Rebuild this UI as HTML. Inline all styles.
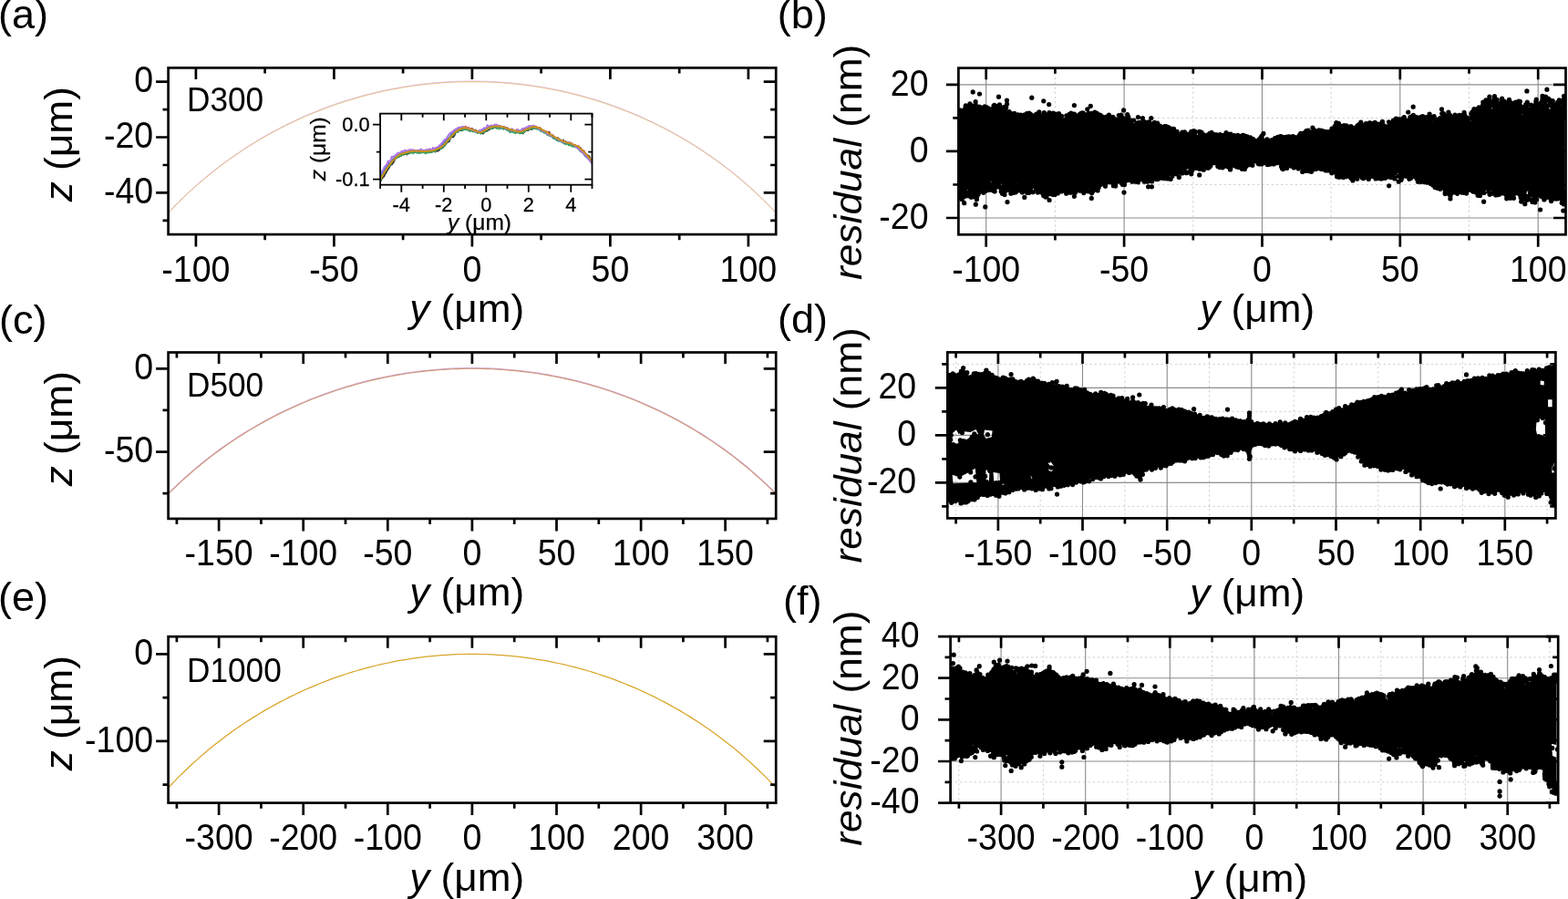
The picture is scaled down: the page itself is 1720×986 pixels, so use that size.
<!DOCTYPE html>
<html lang="en"><head><meta charset="utf-8"><title>Surface profiles and residuals</title>
<style>html,body{margin:0;padding:0;background:#fff}body{width:1720px;height:986px;overflow:hidden}svg{display:block}</style></head>
<body>
<svg width="1720" height="986" viewBox="0 0 1720 986" font-family='"Liberation Sans", sans-serif' fill="#000">
<rect width="1720" height="986" fill="#fff"/>
<text x="-2" y="31.1" font-size="45">(a)</text>
<text x="-0.9" y="365.7" font-size="45">(c)</text>
<text x="-2.1" y="669.7" font-size="45">(e)</text>
<text x="852.7" y="31.1" font-size="45">(b)</text>
<text x="853.1" y="364.5" font-size="45">(d)</text>
<text x="859" y="674.3" font-size="45">(f)</text>
<polyline points="184.6,233.7 190.2,227.8 195.7,222.2 201.3,216.8 206.8,211.5 212.4,206.4 217.9,201.5 223.5,196.8 229,192.2 234.6,187.7 240.1,183.4 245.7,179.2 251.3,175.2 256.8,171.3 262.4,167.5 267.9,163.8 273.5,160.2 279,156.8 284.6,153.4 290.1,150.2 295.7,147.1 301.3,144 306.8,141.1 312.4,138.3 317.9,135.5 323.5,132.9 329,130.3 334.6,127.8 340.1,125.5 345.7,123.2 351.2,121 356.8,118.8 362.4,116.8 367.9,114.8 373.5,112.9 379,111.1 384.6,109.4 390.1,107.8 395.7,106.2 401.2,104.7 406.8,103.3 412.4,101.9 417.9,100.6 423.5,99.4 429,98.3 434.6,97.3 440.1,96.3 445.7,95.3 451.2,94.5 456.8,93.7 462.4,93 467.9,92.4 473.5,91.8 479,91.3 484.6,90.8 490.1,90.5 495.7,90.2 501.2,89.9 506.8,89.8 512.3,89.7 517.9,89.6 523.5,89.7 529,89.8 534.6,89.9 540.1,90.2 545.7,90.5 551.2,90.8 556.8,91.3 562.3,91.8 567.9,92.4 573.5,93 579,93.7 584.6,94.5 590.1,95.3 595.7,96.3 601.2,97.3 606.8,98.3 612.3,99.4 617.9,100.6 623.4,101.9 629,103.3 634.6,104.7 640.1,106.2 645.7,107.8 651.2,109.4 656.8,111.1 662.3,112.9 667.9,114.8 673.4,116.8 679,118.8 684.6,121 690.1,123.2 695.7,125.5 701.2,127.8 706.8,130.3 712.3,132.9 717.9,135.5 723.4,138.3 729,141.1 734.5,144 740.1,147.1 745.7,150.2 751.2,153.4 756.8,156.8 762.3,160.2 767.9,163.8 773.4,167.5 779,171.3 784.5,175.2 790.1,179.2 795.6,183.4 801.2,187.7 806.8,192.2 812.3,196.8 817.9,201.5 823.4,206.4 829,211.5 834.5,216.8 840.1,222.2 845.6,227.8 851.2,233.7" stroke="#dcc0ee" stroke-width="0.85" fill="none" transform="translate(0 -0.7)"/>
<polyline points="184.6,233.7 190.2,227.8 195.7,222.2 201.3,216.8 206.8,211.5 212.4,206.4 217.9,201.5 223.5,196.8 229,192.2 234.6,187.7 240.1,183.4 245.7,179.2 251.3,175.2 256.8,171.3 262.4,167.5 267.9,163.8 273.5,160.2 279,156.8 284.6,153.4 290.1,150.2 295.7,147.1 301.3,144 306.8,141.1 312.4,138.3 317.9,135.5 323.5,132.9 329,130.3 334.6,127.8 340.1,125.5 345.7,123.2 351.2,121 356.8,118.8 362.4,116.8 367.9,114.8 373.5,112.9 379,111.1 384.6,109.4 390.1,107.8 395.7,106.2 401.2,104.7 406.8,103.3 412.4,101.9 417.9,100.6 423.5,99.4 429,98.3 434.6,97.3 440.1,96.3 445.7,95.3 451.2,94.5 456.8,93.7 462.4,93 467.9,92.4 473.5,91.8 479,91.3 484.6,90.8 490.1,90.5 495.7,90.2 501.2,89.9 506.8,89.8 512.3,89.7 517.9,89.6 523.5,89.7 529,89.8 534.6,89.9 540.1,90.2 545.7,90.5 551.2,90.8 556.8,91.3 562.3,91.8 567.9,92.4 573.5,93 579,93.7 584.6,94.5 590.1,95.3 595.7,96.3 601.2,97.3 606.8,98.3 612.3,99.4 617.9,100.6 623.4,101.9 629,103.3 634.6,104.7 640.1,106.2 645.7,107.8 651.2,109.4 656.8,111.1 662.3,112.9 667.9,114.8 673.4,116.8 679,118.8 684.6,121 690.1,123.2 695.7,125.5 701.2,127.8 706.8,130.3 712.3,132.9 717.9,135.5 723.4,138.3 729,141.1 734.5,144 740.1,147.1 745.7,150.2 751.2,153.4 756.8,156.8 762.3,160.2 767.9,163.8 773.4,167.5 779,171.3 784.5,175.2 790.1,179.2 795.6,183.4 801.2,187.7 806.8,192.2 812.3,196.8 817.9,201.5 823.4,206.4 829,211.5 834.5,216.8 840.1,222.2 845.6,227.8 851.2,233.7" stroke="#e2b070" stroke-width="0.85" fill="none"/>
<path d="M214.9 257.1v13.5M214.9 74.4v12.6M366.4 257.1v13.5M366.4 74.4v12.6M517.9 257.1v13.5M517.9 74.4v12.6M669.4 257.1v13.5M669.4 74.4v12.6M820.9 257.1v13.5M820.9 74.4v12.6M290.6 257.1v6.1M290.6 74.4v6.1M442.1 257.1v6.1M442.1 74.4v6.1M593.6 257.1v6.1M593.6 74.4v6.1M745.2 257.1v6.1M745.2 74.4v6.1M184.6 89.6h-13.5M851.2 89.6h-13.5M184.6 150.5h-13.5M851.2 150.5h-13.5M184.6 211.4h-13.5M851.2 211.4h-13.5M184.6 120.1h-6.1M851.2 120.1h-6.1M184.6 181h-6.1M851.2 181h-6.1M184.6 241.9h-6.1M851.2 241.9h-6.1" stroke="#000" stroke-width="2.7" fill="none"/>
<rect x="184.6" y="74.4" width="666.6" height="182.7" stroke="#000" stroke-width="2.7" fill="none"/>
<text transform="translate(214.9 308.9) scale(1 1.09)" font-size="37.5" text-anchor="middle">-100</text>
<text transform="translate(366.4 308.9) scale(1 1.09)" font-size="37.5" text-anchor="middle">-50</text>
<text transform="translate(517.9 308.9) scale(1 1.09)" font-size="37.5" text-anchor="middle">0</text>
<text transform="translate(669.4 308.9) scale(1 1.09)" font-size="37.5" text-anchor="middle">50</text>
<text transform="translate(820.9 308.9) scale(1 1.09)" font-size="37.5" text-anchor="middle">100</text>
<text transform="translate(168.1 101.4) scale(1 1.09)" font-size="37.5" text-anchor="end">0</text>
<text transform="translate(168.1 162.3) scale(1 1.09)" font-size="37.5" text-anchor="end">-20</text>
<text transform="translate(168.1 223.2) scale(1 1.09)" font-size="37.5" text-anchor="end">-40</text>
<text transform="translate(512.2 352.9) scale(1.025 1)" font-size="43" text-anchor="middle"><tspan font-style="italic">y</tspan> (μm)</text>
<text transform="translate(79.1 158.2) rotate(-90) scale(1.03 1)" font-size="43" text-anchor="middle"><tspan font-style="italic">z</tspan> (μm)</text>
<text transform="translate(205 121.8) scale(1 1.045)" font-size="35.2">D300</text>
<clipPath id="ci"><rect x="417.1" y="124.6" width="232.4" height="78.1"/></clipPath><g clip-path="url(#ci)">
<polyline points="414.1,204.2 415.3,202.8 416.5,200.4 417.7,198.4 418.9,196 420.1,194.6 421.3,193.6 422.4,191 423.6,189.5 424.8,187 426,185.3 427.2,183.4 428.4,180.4 429.6,180.8 430.8,179.1 432,177.7 433.2,174.7 434.4,173.4 435.6,172.9 436.7,172.2 437.9,171.9 439.1,170.9 440.3,170.7 441.5,169.3 442.7,169.6 443.9,169.2 445.1,168.1 446.3,169.5 447.5,168.3 448.7,168.5 449.9,166.8 451.1,166.5 452.2,166.7 453.4,166.7 454.6,167.1 455.8,166.8 457,166.2 458.2,165.8 459.4,166.2 460.6,167.6 461.8,166.1 463,167 464.2,167.2 465.4,165.8 466.5,166.9 467.7,167.8 468.9,165.3 470.1,166.5 471.3,166.6 472.5,165.9 473.7,166.8 474.9,166.2 476.1,165 477.3,166.4 478.5,165.9 479.7,165.6 480.9,165.4 482,164.1 483.2,163.3 484.4,161.6 485.6,162.3 486.8,160.5 488,159.5 489.2,157.7 490.4,156.5 491.6,155.4 492.8,155.3 494,151.4 495.2,150.6 496.3,150.5 497.5,150.1 498.7,148.2 499.9,145.1 501.1,143.6 502.3,144.8 503.5,143.2 504.7,142.2 505.9,143.3 507.1,142.9 508.3,141.8 509.5,141.5 510.7,141.4 511.8,142.4 513,141.9 514.2,142.1 515.4,142.4 516.6,141.2 517.8,143.7 519,143.8 520.2,143.9 521.4,142.4 522.6,143.8 523.8,145.3 525,143.8 526.1,145.4 527.3,146.5 528.5,144.8 529.7,146.8 530.9,145.4 532.1,144.3 533.3,144 534.5,143.6 535.7,142.4 536.9,142.4 538.1,140.4 539.3,140.2 540.5,140.9 541.6,139.9 542.8,139 544,140.2 545.2,140.5 546.4,139 547.6,138.3 548.8,139.3 550,139.5 551.2,139.6 552.4,141.1 553.6,139.7 554.8,141.7 555.9,140.2 557.1,141 558.3,142.5 559.5,143.3 560.7,143.4 561.9,143.4 563.1,143.6 564.3,144 565.5,144.7 566.7,144.5 567.9,145.1 569.1,145.6 570.3,145.4 571.4,146 572.6,145.7 573.8,146.5 575,144.7 576.2,143.6 577.4,143.2 578.6,142.9 579.8,143 581,141.5 582.2,141.5 583.4,142.1 584.6,138.4 585.7,139.3 586.9,140.2 588.1,140.4 589.3,140.5 590.5,140.3 591.7,141.5 592.9,141.8 594.1,141.7 595.3,144.5 596.5,143.6 597.7,143.6 598.9,144.6 600.1,145.2 601.2,146 602.4,144.7 603.6,147.1 604.8,148.9 606,148.1 607.2,149.6 608.4,151.1 609.6,151.7 610.8,152.8 612,151.1 613.2,152.8 614.4,153.4 615.5,154.7 616.7,155.6 617.9,153.4 619.1,156.7 620.3,155.2 621.5,157.2 622.7,155.9 623.9,157.5 625.1,158.6 626.3,157.9 627.5,158.5 628.7,159.3 629.9,159.3 631,159.6 632.2,161.3 633.4,161.5 634.6,161.1 635.8,164.2 637,162.1 638.2,164.7 639.4,164.9 640.6,166.4 641.8,168.1 643,169.1 644.2,170.7 645.3,170.3 646.5,171.6 647.7,174.5 648.9,174.6 650.1,175.9 651.3,176.9 652.5,180.2" stroke="#2a2a2a" stroke-width="1.7" fill="none" stroke-linejoin="round"/>
<polyline points="414.1,200.5 415.3,199.1 416.5,195.5 417.7,194.2 418.9,191.4 420.1,190.7 421.3,189.3 422.4,185.6 423.6,185.5 424.8,183.3 426,180.9 427.2,178.1 428.4,178.9 429.6,176.5 430.8,174.8 432,174.2 433.2,173.1 434.4,172.8 435.6,170.1 436.7,170.8 437.9,170.4 439.1,169.8 440.3,168.1 441.5,167.3 442.7,168.2 443.9,167.2 445.1,166.9 446.3,167.4 447.5,166 448.7,164.4 449.9,165.5 451.1,164.3 452.2,166.1 453.4,165.6 454.6,164.9 455.8,165.3 457,165.9 458.2,165.5 459.4,166.4 460.6,165.6 461.8,166.4 463,166.8 464.2,166.8 465.4,165.2 466.5,166.2 467.7,164.2 468.9,164.7 470.1,164 471.3,166 472.5,164.2 473.7,164.9 474.9,164.5 476.1,164.3 477.3,163.4 478.5,163.5 479.7,164 480.9,162.2 482,162 483.2,161.6 484.4,159.9 485.6,158.2 486.8,157.5 488,157.3 489.2,153.9 490.4,153.2 491.6,152.9 492.8,151.4 494,149.6 495.2,148.8 496.3,147.1 497.5,144.9 498.7,143.5 499.9,143.2 501.1,143.4 502.3,141.7 503.5,140.9 504.7,140.5 505.9,139.5 507.1,140.2 508.3,139.1 509.5,140.2 510.7,138.5 511.8,140.6 513,140.2 514.2,139.7 515.4,141.9 516.6,141.6 517.8,140.6 519,141.9 520.2,143.1 521.4,143 522.6,144.3 523.8,144.7 525,145 526.1,144.8 527.3,145.4 528.5,144.5 529.7,143.7 530.9,141.3 532.1,142.8 533.3,142.3 534.5,140.4 535.7,139.6 536.9,140.8 538.1,137.8 539.3,139.1 540.5,140.2 541.6,137.7 542.8,138.7 544,139.4 545.2,138 546.4,138.5 547.6,138.9 548.8,137.9 550,138.7 551.2,139.3 552.4,140 553.6,139.8 554.8,140.1 555.9,140 557.1,140.8 558.3,142.1 559.5,141.9 560.7,141.6 561.9,142 563.1,144.8 564.3,144.1 565.5,144.1 566.7,142.1 567.9,144.5 569.1,144.6 570.3,145.4 571.4,144.2 572.6,143.4 573.8,143.3 575,141 576.2,142.6 577.4,141.6 578.6,140.2 579.8,141.1 581,140.9 582.2,138.3 583.4,138.5 584.6,139 585.7,139 586.9,138.7 588.1,138.6 589.3,141.2 590.5,140.9 591.7,139.9 592.9,140.4 594.1,143.1 595.3,143.3 596.5,144.5 597.7,144.5 598.9,144 600.1,145.5 601.2,144.5 602.4,146.2 603.6,147.5 604.8,148.6 606,148.4 607.2,149.6 608.4,150.6 609.6,151.2 610.8,152.1 612,152.4 613.2,152.6 614.4,154 615.5,154 616.7,153.9 617.9,154.6 619.1,155.4 620.3,155.7 621.5,156.2 622.7,156.4 623.9,156.8 625.1,156.9 626.3,156.5 627.5,158.1 628.7,159.1 629.9,159.1 631,159.2 632.2,160.3 633.4,160 634.6,160.1 635.8,162.5 637,162.9 638.2,165.3 639.4,165.2 640.6,165.4 641.8,167.8 643,170.9 644.2,170.8 645.3,171.5 646.5,173.2 647.7,175.4 648.9,176.7 650.1,177.8 651.3,180 652.5,180.8" stroke="#e8483c" stroke-width="1.7" fill="none" stroke-linejoin="round"/>
<polyline points="414.1,198.5 415.3,197 416.5,195.6 417.7,193.2 418.9,191.3 420.1,188 421.3,186.6 422.4,185.3 423.6,182.9 424.8,182.1 426,180.3 427.2,179 428.4,176.9 429.6,177.2 430.8,175.2 432,173.1 433.2,172.3 434.4,172.8 435.6,170.3 436.7,170.3 437.9,169.8 439.1,168.8 440.3,167.7 441.5,168.1 442.7,167.8 443.9,167.9 445.1,167.4 446.3,166.7 447.5,167 448.7,166.6 449.9,166.2 451.1,166 452.2,165.8 453.4,166.2 454.6,165.2 455.8,165.5 457,165.9 458.2,165.1 459.4,165.8 460.6,165 461.8,165.8 463,166.6 464.2,166.5 465.4,166.1 466.5,165.9 467.7,165.1 468.9,167 470.1,166 471.3,166.2 472.5,164.9 473.7,165.1 474.9,163.7 476.1,164.8 477.3,164.4 478.5,162.1 479.7,162.7 480.9,162.5 482,160.3 483.2,159.5 484.4,158.9 485.6,158 486.8,156.1 488,155.6 489.2,154.3 490.4,153.1 491.6,151.8 492.8,151 494,149.5 495.2,146.7 496.3,145.9 497.5,144.5 498.7,143.5 499.9,143.2 501.1,142.6 502.3,142.3 503.5,140.6 504.7,140.4 505.9,140.7 507.1,140.3 508.3,140.2 509.5,140.6 510.7,140.4 511.8,141.6 513,141.7 514.2,141.8 515.4,141.9 516.6,142.6 517.8,141.4 519,142.8 520.2,143.9 521.4,143.4 522.6,144.8 523.8,145.1 525,144.3 526.1,144.8 527.3,144.3 528.5,144.2 529.7,143.6 530.9,142.6 532.1,141.4 533.3,141 534.5,140.4 535.7,140.4 536.9,139.7 538.1,138.8 539.3,138.2 540.5,138.6 541.6,138.3 542.8,138 544,138.5 545.2,138.4 546.4,138.9 547.6,139.3 548.8,139.1 550,141 551.2,139.8 552.4,141 553.6,140.8 554.8,141.8 555.9,140.2 557.1,141.5 558.3,142.5 559.5,143.1 560.7,144.5 561.9,143.6 563.1,144.6 564.3,144.6 565.5,145 566.7,144.9 567.9,144.6 569.1,145 570.3,143.7 571.4,144.6 572.6,142.8 573.8,143 575,143.7 576.2,141.7 577.4,141.2 578.6,141.4 579.8,140.2 581,139.2 582.2,139.6 583.4,139.7 584.6,139.8 585.7,139 586.9,140.8 588.1,141.2 589.3,140.7 590.5,141.4 591.7,141.6 592.9,143.3 594.1,142.7 595.3,144.2 596.5,144.1 597.7,144.7 598.9,146.2 600.1,147.3 601.2,147.3 602.4,147.6 603.6,149.2 604.8,149.4 606,150.3 607.2,151.7 608.4,152.1 609.6,151.8 610.8,154.1 612,153.4 613.2,154.4 614.4,154.1 615.5,155 616.7,154.4 617.9,157 619.1,157.1 620.3,155.8 621.5,156 622.7,156.2 623.9,158.2 625.1,157.6 626.3,158.3 627.5,158.6 628.7,159.2 629.9,159.2 631,160.5 632.2,160.3 633.4,161.9 634.6,163.1 635.8,164.3 637,165.1 638.2,166 639.4,167.9 640.6,168.8 641.8,171.3 643,172.1 644.2,172.9 645.3,174 646.5,175.2 647.7,176.3 648.9,178 650.1,179.7 651.3,181.1 652.5,182.4" stroke="#3f74dc" stroke-width="1.8" fill="none" stroke-linejoin="round"/>
<polyline points="414.1,203.3 415.3,199.6 416.5,198.2 417.7,198 418.9,193 420.1,191.9 421.3,190.3 422.4,188.4 423.6,186.7 424.8,184.5 426,183.2 427.2,181.4 428.4,180.4 429.6,177.2 430.8,176.5 432,175.8 433.2,174 434.4,172.9 435.6,173 436.7,171.4 437.9,171.5 439.1,171 440.3,170.2 441.5,170 442.7,169.2 443.9,168 445.1,168.5 446.3,168.5 447.5,167.6 448.7,167.6 449.9,168 451.1,166.8 452.2,167.6 453.4,168.3 454.6,166.7 455.8,167.1 457,166.9 458.2,168.1 459.4,167.4 460.6,167.9 461.8,166.9 463,167.4 464.2,167.4 465.4,166.2 466.5,168.3 467.7,167.9 468.9,166 470.1,167.6 471.3,166.9 472.5,167.1 473.7,166.9 474.9,165.5 476.1,166 477.3,166.6 478.5,164.7 479.7,163.9 480.9,163.1 482,162.6 483.2,162.9 484.4,163 485.6,161.2 486.8,159.9 488,159.9 489.2,156.7 490.4,155.1 491.6,154.5 492.8,153.1 494,150.8 495.2,149.4 496.3,149.1 497.5,147.8 498.7,145.6 499.9,145.3 501.1,144.2 502.3,144.2 503.5,143.2 504.7,142.7 505.9,142.1 507.1,142.7 508.3,142.6 509.5,141.4 510.7,142.3 511.8,141.6 513,142.4 514.2,143.2 515.4,144 516.6,143.2 517.8,143.8 519,144.3 520.2,143.6 521.4,145 522.6,145 523.8,146.1 525,145.4 526.1,145 527.3,146.2 528.5,146 529.7,144.9 530.9,145.2 532.1,143.8 533.3,142.8 534.5,142.8 535.7,140.7 536.9,140.8 538.1,140.8 539.3,141 540.5,140.1 541.6,140.3 542.8,139.5 544,140 545.2,140.9 546.4,139.4 547.6,141.5 548.8,139.8 550,140.5 551.2,140.9 552.4,141.8 553.6,140.7 554.8,140.5 555.9,142.7 557.1,143.2 558.3,143.5 559.5,145.2 560.7,144 561.9,144.4 563.1,145.2 564.3,145.2 565.5,146.3 566.7,144.7 567.9,145.5 569.1,143.7 570.3,146.4 571.4,145.4 572.6,145.8 573.8,146.1 575,144.2 576.2,143.5 577.4,142.8 578.6,142 579.8,141.5 581,141.8 582.2,141 583.4,140.7 584.6,140.4 585.7,141.1 586.9,141 588.1,140.8 589.3,141.7 590.5,141.7 591.7,141.6 592.9,143.9 594.1,143.8 595.3,143.6 596.5,145.6 597.7,145.7 598.9,145.2 600.1,147.9 601.2,147.8 602.4,148.9 603.6,149.2 604.8,149.7 606,149.5 607.2,151.9 608.4,151.9 609.6,152.4 610.8,153.4 612,153.9 613.2,154.9 614.4,154.8 615.5,155.6 616.7,154.7 617.9,156.3 619.1,157.5 620.3,158.3 621.5,157.5 622.7,157.9 623.9,159.4 625.1,158.4 626.3,159.5 627.5,160.6 628.7,160 629.9,161.2 631,160.5 632.2,161.7 633.4,162.2 634.6,163.1 635.8,164.7 637,166.6 638.2,165.8 639.4,167.1 640.6,169.1 641.8,169.4 643,171.6 644.2,173 645.3,173.7 646.5,175.6 647.7,175.5 648.9,178.3 650.1,178.2 651.3,180 652.5,181.4" stroke="#35a060" stroke-width="1.9" fill="none" stroke-linejoin="round"/>
<polyline points="414.1,195.2 415.3,194.1 416.5,191.6 417.7,189.3 418.9,187.9 420.1,186.6 421.3,183.8 422.4,182.2 423.6,181.2 424.8,179 426,176.5 427.2,177.5 428.4,176 429.6,172 430.8,172.1 432,171.4 433.2,170.8 434.4,169.8 435.6,168.5 436.7,167.5 437.9,167.7 439.1,167.9 440.3,166.2 441.5,165.8 442.7,166.1 443.9,164.6 445.1,165.4 446.3,165.1 447.5,165.5 448.7,164.6 449.9,164.3 451.1,164.5 452.2,164.7 453.4,164.3 454.6,164.8 455.8,165.3 457,165.7 458.2,166.1 459.4,164.6 460.6,164.9 461.8,163.5 463,166.3 464.2,164.6 465.4,164.9 466.5,165.2 467.7,163.9 468.9,164.9 470.1,164.5 471.3,163.1 472.5,164.3 473.7,164.5 474.9,162 476.1,163.2 477.3,162.3 478.5,161.9 479.7,161.3 480.9,161.1 482,159.3 483.2,159 484.4,157 485.6,156.4 486.8,153.9 488,152.9 489.2,152.7 490.4,150.5 491.6,148.9 492.8,146.9 494,145.8 495.2,145.2 496.3,144.6 497.5,143.3 498.7,142.5 499.9,141.4 501.1,141.8 502.3,140.2 503.5,139.6 504.7,140.2 505.9,139.4 507.1,139.1 508.3,139.1 509.5,139.6 510.7,140.5 511.8,140.7 513,140 514.2,141.5 515.4,141.7 516.6,141.3 517.8,142.8 519,142.6 520.2,143 521.4,144.1 522.6,144.8 523.8,143.6 525,144.1 526.1,142.8 527.3,144.3 528.5,141.8 529.7,142.3 530.9,140.3 532.1,140.5 533.3,140.8 534.5,137.2 535.7,138.2 536.9,138.5 538.1,137.9 539.3,137.3 540.5,139 541.6,137.6 542.8,136.4 544,138.1 545.2,136.6 546.4,138.7 547.6,137.8 548.8,138.6 550,139.7 551.2,139.3 552.4,138.8 553.6,139 554.8,141.3 555.9,141.4 557.1,140.7 558.3,142.2 559.5,142.3 560.7,142.8 561.9,141.2 563.1,142.8 564.3,143.9 565.5,144 566.7,144.2 567.9,142 569.1,143.4 570.3,143.2 571.4,144 572.6,141.2 573.8,141.1 575,140.7 576.2,140.7 577.4,139.3 578.6,139.8 579.8,138.1 581,138.5 582.2,137.9 583.4,138.4 584.6,138 585.7,137.7 586.9,139.8 588.1,139.8 589.3,139.8 590.5,140.8 591.7,142 592.9,141.4 594.1,142.6 595.3,143.7 596.5,144.3 597.7,144.5 598.9,144.1 600.1,147 601.2,147.1 602.4,147.7 603.6,148.2 604.8,149.2 606,149.4 607.2,149.7 608.4,150.5 609.6,151.3 610.8,151.9 612,152.1 613.2,153.8 614.4,153.1 615.5,154.8 616.7,154.1 617.9,155.4 619.1,156.4 620.3,155.9 621.5,155.6 622.7,156.4 623.9,156.9 625.1,156.1 626.3,157.3 627.5,158.3 628.7,158.4 629.9,159.4 631,160.5 632.2,161.4 633.4,162.4 634.6,163.3 635.8,164 637,165.4 638.2,166.5 639.4,167.8 640.6,169.1 641.8,169.4 643,171.6 644.2,173.1 645.3,173.8 646.5,175.8 647.7,177.4 648.9,178.3 650.1,181.1 651.3,179.3 652.5,182.2" stroke="#ac78e6" stroke-width="2.0" fill="none" stroke-linejoin="round"/>
<polyline points="414.1,201.5 415.3,199.6 416.5,197.7 417.7,195.8 418.9,193.8 420.1,191.8 421.3,189.8 422.4,187.8 423.6,185.9 424.8,184.1 426,182.4 427.2,180.8 428.4,179.2 429.6,177.8 430.8,176.4 432,175.1 433.2,173.8 434.4,172.7 435.6,171.7 436.7,170.8 437.9,170.1 439.1,169.4 440.3,168.9 441.5,168.4 442.7,168 443.9,167.7 445.1,167.3 446.3,167 447.5,166.7 448.7,166.4 449.9,166.2 451.1,166 452.2,165.9 453.4,165.8 454.6,165.7 455.8,165.6 457,165.6 458.2,165.7 459.4,165.7 460.6,165.8 461.8,165.9 463,166 464.2,166 465.4,166 466.5,166 467.7,165.9 468.9,165.8 470.1,165.7 471.3,165.6 472.5,165.5 473.7,165.3 474.9,165.2 476.1,164.9 477.3,164.5 478.5,164 479.7,163.4 480.9,162.9 482,162.3 483.2,161.7 484.4,160.9 485.6,160 486.8,159 488,157.7 489.2,156.3 490.4,154.9 491.6,153.4 492.8,152 494,150.7 495.2,149.4 496.3,148.1 497.5,146.9 498.7,145.7 499.9,144.6 501.1,143.6 502.3,142.8 503.5,142.2 504.7,141.6 505.9,141.2 507.1,140.8 508.3,140.5 509.5,140.2 510.7,140.3 511.8,140.5 513,140.8 514.2,141.1 515.4,141.4 516.6,141.8 517.8,142.2 519,142.6 520.2,143 521.4,143.3 522.6,143.8 523.8,144.2 525,144.6 526.1,144.9 527.3,144.9 528.5,144.6 529.7,144.1 530.9,143.5 532.1,142.9 533.3,142.2 534.5,141.4 535.7,140.7 536.9,140 538.1,139.6 539.3,139.2 540.5,139 541.6,138.7 542.8,138.6 544,138.5 545.2,138.4 546.4,138.4 547.6,138.5 548.8,138.7 550,138.9 551.2,139.2 552.4,139.5 553.6,139.9 554.8,140.3 555.9,140.7 557.1,141.1 558.3,141.5 559.5,141.9 560.7,142.3 561.9,142.6 563.1,143 564.3,143.3 565.5,143.7 566.7,144 567.9,144.3 569.1,144.5 570.3,144.5 571.4,144.4 572.6,144.1 573.8,143.6 575,143 576.2,142.5 577.4,142 578.6,141.4 579.8,140.8 581,140.3 582.2,139.8 583.4,139.4 584.6,139.2 585.7,139.1 586.9,139.2 588.1,139.4 589.3,139.7 590.5,140.1 591.7,140.6 592.9,141.2 594.1,141.8 595.3,142.5 596.5,143.1 597.7,143.8 598.9,144.4 600.1,145.1 601.2,145.8 602.4,146.6 603.6,147.3 604.8,148 606,148.8 607.2,149.5 608.4,150.2 609.6,150.8 610.8,151.5 612,152.1 613.2,152.7 614.4,153.3 615.5,153.9 616.7,154.5 617.9,155 619.1,155.4 620.3,155.8 621.5,156.2 622.7,156.5 623.9,156.8 625.1,157.1 626.3,157.4 627.5,157.8 628.7,158.3 629.9,158.8 631,159.3 632.2,159.8 633.4,160.5 634.6,161.2 635.8,162.1 637,163.1 638.2,164.2 639.4,165.4 640.6,166.7 641.8,168 643,169.3 644.2,170.5 645.3,171.8 646.5,173.2 647.7,174.5 648.9,175.8 650.1,177.1 651.3,178.4 652.5,179.7" stroke="#c89018" stroke-width="2.0" fill="none" stroke-linejoin="round"/>
</g>
<path d="M440.3 202.7v8.1M440.3 124.6v7.6M486.8 202.7v8.1M486.8 124.6v7.6M533.3 202.7v8.1M533.3 124.6v7.6M579.8 202.7v8.1M579.8 124.6v7.6M626.3 202.7v8.1M626.3 124.6v7.6M417.1 202.7v4.2M417.1 124.6v4.2M463.6 202.7v4.2M463.6 124.6v4.2M510.1 202.7v4.2M510.1 124.6v4.2M556.5 202.7v4.2M556.5 124.6v4.2M603 202.7v4.2M603 124.6v4.2M649.5 202.7v4.2M649.5 124.6v4.2M417.1 136.6h-8.1M649.5 136.6h-8.1M417.1 196.7h-8.1M649.5 196.7h-8.1M417.1 166.7h-4.2M649.5 166.7h-4.2" stroke="#000" stroke-width="1.8" fill="none"/>
<rect x="417.1" y="124.6" width="232.4" height="78.1" stroke="#000" stroke-width="1.8" fill="none"/>
<text transform="translate(440.3 231.5) scale(1 1.05)" font-size="21.8" text-anchor="middle" stroke="#000" stroke-width="0.25">-4</text>
<text transform="translate(486.8 231.5) scale(1 1.05)" font-size="21.8" text-anchor="middle" stroke="#000" stroke-width="0.25">-2</text>
<text transform="translate(533.3 231.5) scale(1 1.05)" font-size="21.8" text-anchor="middle" stroke="#000" stroke-width="0.25">0</text>
<text transform="translate(579.8 231.5) scale(1 1.05)" font-size="21.8" text-anchor="middle" stroke="#000" stroke-width="0.25">2</text>
<text transform="translate(626.3 231.5) scale(1 1.05)" font-size="21.8" text-anchor="middle" stroke="#000" stroke-width="0.25">4</text>
<text transform="translate(405.6 144.3) scale(1 1.05)" font-size="21.8" text-anchor="end" stroke="#000" stroke-width="0.25">0.0</text>
<text transform="translate(405.6 204.4) scale(1 1.05)" font-size="21.8" text-anchor="end" stroke="#000" stroke-width="0.25">-0.1</text>
<text x="526" y="251.5" font-size="24.5" text-anchor="middle" stroke="#000" stroke-width="0.25"><tspan font-style="italic">y</tspan> (μm)</text>
<text transform="translate(357 163.2) rotate(-90)" font-size="24.5" text-anchor="middle" stroke="#000" stroke-width="0.25"><tspan font-style="italic">z</tspan> (μm)</text>
<path d="M1157.4 74.6V257.3M1308.8 74.6V257.3M1460.1 74.6V257.3M1611.5 74.6V257.3M1051.4 129.4H1717.5M1051.4 202.5H1717.5" stroke="#d2d2d2" stroke-width="1" stroke-dasharray="2.4 2.8" fill="none"/>
<path d="M1081.7 74.6V257.3M1233.1 74.6V257.3M1384.5 74.6V257.3M1535.8 74.6V257.3M1687.2 74.6V257.3M1051.4 92.9H1717.5M1051.4 165.9H1717.5M1051.4 239H1717.5" stroke="#8c8c8c" stroke-width="1.1" fill="none"/>
<clipPath id="cb"><rect x="1051.4" y="74.6" width="666.1" height="182.7"/></clipPath>
<g clip-path="url(#cb)">
<path d="M1050.4 130L1053.4 129.4L1056.4 127.9L1059.4 126.3L1062.4 124.7L1065.4 124.6L1068.4 124.8L1071.4 125L1074.4 125.4L1077.4 126.2L1080.4 127L1083.4 127.8L1086.4 127.4L1089.4 126.8L1092.4 126.1L1095.4 125.9L1098.4 127.1L1101.4 128.2L1104.4 129.3L1107.4 130.9L1110.4 132.6L1113.4 134.3L1116.4 135.4L1119.4 135L1122.4 134.6L1125.4 134.2L1128.4 133.8L1131.4 133.5L1134.4 133.1L1137.4 132.8L1140.4 132.7L1143.4 132.6L1146.4 132.5L1149.4 132.5L1152.4 132.4L1155.4 132.3L1158.4 132.4L1161.4 132.9L1164.4 133.4L1167.4 133.9L1170.4 133.5L1173.4 132.8L1176.4 132.1L1179.4 131.6L1182.4 131.5L1185.4 131.4L1188.4 131.4L1191.4 131.5L1194.4 131.7L1197.4 132L1200.4 132.2L1203.4 132.4L1206.4 132.6L1209.4 132.8L1212.4 132.8L1215.4 132.7L1218.4 132.6L1221.4 132.6L1224.4 132.9L1227.4 133.1L1230.4 133.3L1233.4 134.5L1236.4 135.9L1239.4 137.3L1242.4 138.3L1245.4 138.6L1248.4 138.8L1251.4 139L1254.4 139L1257.4 138.9L1260.4 138.8L1263.4 139L1266.4 139.8L1269.4 140.6L1272.4 141.5L1275.4 142.3L1278.4 143.1L1281.4 143.9L1284.4 144.9L1287.4 146.3L1290.4 147.8L1293.4 149.2L1296.4 149.3L1299.4 149.2L1302.4 149.2L1305.4 149.1L1308.4 149L1311.4 148.9L1314.4 148.8L1317.4 149.3L1320.4 149.8L1323.4 150.3L1326.4 150.8L1329.4 151.3L1332.4 151.8L1335.4 152.3L1338.4 152.4L1341.4 152.3L1344.4 152.2L1347.4 152L1350.4 151.6L1353.4 151.2L1356.4 150.8L1359.4 150.7L1362.4 150.9L1365.4 151.1L1368.4 151.3L1371.4 151.6L1374.4 152.1L1377.4 152.6L1380.4 153.2L1383.4 153.2L1386.4 153.2L1389.4 153.3L1392.4 153.3L1395.4 153.1L1398.4 152.9L1401.4 152.6L1404.4 152.4L1407.4 152.2L1410.4 152L1413.4 151.9L1416.4 152L1419.4 152L1422.4 152.1L1425.4 151L1428.4 149.6L1431.4 148.2L1434.4 147.3L1437.4 147.7L1440.4 148.1L1443.4 148.5L1446.4 148.4L1449.4 148.1L1452.4 147.9L1455.4 147.3L1458.4 145.9L1461.4 144.5L1464.4 143.1L1467.4 142.6L1470.4 142.4L1473.4 142.2L1476.4 142.3L1479.4 143L1482.4 143.6L1485.4 144.3L1488.4 143.5L1491.4 142.4L1494.4 141.3L1497.4 140.7L1500.4 141.1L1503.4 141.4L1506.4 141.8L1509.4 141.7L1512.4 141.5L1515.4 141.3L1518.4 141.1L1521.4 140.9L1524.4 140.6L1527.4 140.4L1530.4 139.5L1533.4 138.4L1536.4 137.2L1539.4 136.2L1542.4 135.4L1545.4 134.6L1548.4 133.8L1551.4 133.9L1554.4 134.3L1557.4 134.7L1560.4 135.1L1563.4 135.5L1566.4 135.9L1569.4 136.2L1572.4 135.4L1575.4 134.3L1578.4 133.2L1581.4 132.6L1584.4 133.3L1587.4 134L1590.4 134.7L1593.4 134.9L1596.4 135L1599.4 135L1602.4 134.8L1605.4 134L1608.4 133.2L1611.4 137.4L1614.4 135.3L1617.4 133L1620.4 130.7L1623.4 128.8L1626.4 127.6L1629.4 126.5L1632.4 125.4L1635.4 124.6L1638.4 123.7L1641.4 122.9L1644.4 122.4L1647.4 122.5L1650.4 122.6L1653.4 122.7L1656.4 123L1659.4 123.4L1662.4 123.8L1665.4 124.5L1668.4 125.7L1671.4 127L1674.4 128.3L1677.4 128.3L1680.4 128.1L1683.4 127.9L1686.4 127.1L1689.4 125L1692.4 123L1695.4 121L1698.4 123.3L1701.4 126.4L1704.4 129.5L1707.4 130.7L1710.4 128.4L1713.4 126.1L1716.4 123.7L1716.4 213.4L1713.4 211.7L1710.4 209.9L1707.4 208.2L1704.4 207.3L1701.4 206.8L1698.4 206.3L1695.4 206.1L1692.4 208L1689.4 209.9L1686.4 211.8L1683.4 211.7L1680.4 210.6L1677.4 209.4L1674.4 208.4L1671.4 207.9L1668.4 207.4L1665.4 206.9L1662.4 206.8L1659.4 206.8L1656.4 206.9L1653.4 206.9L1650.4 206L1647.4 205.2L1644.4 204.4L1641.4 204L1638.4 203.8L1635.4 203.6L1632.4 203.5L1629.4 204.2L1626.4 204.9L1623.4 205.5L1620.4 205L1617.4 203.9L1614.4 202.8L1611.4 202L1608.4 202.7L1605.4 203.3L1602.4 204L1599.4 204.5L1596.4 204.9L1593.4 205.3L1590.4 205.4L1587.4 204L1584.4 202.5L1581.4 201.1L1578.4 199.9L1575.4 198.8L1572.4 197.7L1569.4 196.6L1566.4 195.4L1563.4 194.3L1560.4 193.2L1557.4 192.3L1554.4 191.5L1551.4 190.7L1548.4 190L1545.4 189.7L1542.4 189.5L1539.4 189.3L1536.4 189.3L1533.4 189.4L1530.4 189.5L1527.4 189.6L1524.4 190.3L1521.4 191L1518.4 191.7L1515.4 191.2L1512.4 190L1509.4 188.9L1506.4 188.1L1503.4 188.5L1500.4 188.9L1497.4 189.2L1494.4 189.6L1491.4 190L1488.4 190.4L1485.4 190.6L1482.4 190.1L1479.4 189.6L1476.4 189.1L1473.4 189L1470.4 189L1467.4 189.1L1464.4 188.8L1461.4 186.8L1458.4 184.8L1455.4 182.8L1452.4 182.4L1449.4 182.8L1446.4 183.2L1443.4 183.5L1440.4 183.6L1437.4 183.7L1434.4 183.7L1431.4 183L1428.4 181.9L1425.4 180.8L1422.4 179.8L1419.4 179.6L1416.4 179.4L1413.4 179.2L1410.4 179.4L1407.4 179.8L1404.4 180.1L1401.4 180.4L1398.4 179.8L1395.4 179.3L1392.4 178.8L1389.4 178.5L1386.4 178.3L1383.4 178L1380.4 177.9L1377.4 178.7L1374.4 179.5L1371.4 180.3L1368.4 180.5L1365.4 180.4L1362.4 180.3L1359.4 179.8L1356.4 178.2L1353.4 178.7L1350.4 179.2L1347.4 179.7L1344.4 179.8L1341.4 179.7L1338.4 179.7L1335.4 179.6L1332.4 179.8L1329.4 180.1L1326.4 180.3L1323.4 180.7L1320.4 181.2L1317.4 181.7L1314.4 182.2L1311.4 182.7L1308.4 183.3L1305.4 183.8L1302.4 184.1L1299.4 184.3L1296.4 184.5L1293.4 184.9L1290.4 186L1287.4 187.1L1284.4 188.2L1281.4 189L1278.4 189.5L1275.4 190L1272.4 190.6L1269.4 191.7L1266.4 192.8L1263.4 193.9L1260.4 193.9L1257.4 193.2L1254.4 192.5L1251.4 192L1248.4 192.5L1245.4 193L1242.4 193.6L1239.4 194.5L1236.4 195.6L1233.4 196.7L1230.4 197.5L1227.4 196.8L1224.4 196.2L1221.4 195.5L1218.4 195.6L1215.4 196.1L1212.4 196.6L1209.4 197.4L1206.4 199.8L1203.4 202.1L1200.4 204.4L1197.4 204.3L1194.4 203L1191.4 201.7L1188.4 200.8L1185.4 201.3L1182.4 201.8L1179.4 202.3L1176.4 202L1173.4 201.3L1170.4 200.6L1167.4 200.3L1164.4 201.7L1161.4 203.2L1158.4 204.6L1155.4 205.4L1152.4 205.9L1149.4 206.4L1146.4 206.6L1143.4 205.3L1140.4 204L1137.4 202.7L1134.4 202.1L1131.4 201.7L1128.4 201.3L1125.4 201L1122.4 200.9L1119.4 200.8L1116.4 200.7L1113.4 201.1L1110.4 201.6L1107.4 202.1L1104.4 202.4L1101.4 201.7L1098.4 201L1095.4 200.3L1092.4 199.6L1089.4 199L1086.4 198.3L1083.4 198L1080.4 199.8L1077.4 201.5L1074.4 203.2L1071.4 204.1L1068.4 204.6L1065.4 205.1L1062.4 205.7L1059.4 206.9L1056.4 208L1053.4 209.1L1050.4 209.4Z" fill="#000" fill-rule="evenodd"/>
<path d="M1052.3 131.8h0M1055.2 128.1h0M1057.4 129.2h0M1060.8 124.6h0M1062.8 124.6h0M1064.9 122.6h0M1068.2 126h0M1072.5 124.2h0M1075.8 124.4h0M1077.7 125.9h0M1081.8 125.5h0M1085.5 128.2h0M1088.4 126.6h0M1091.5 126.4h0M1094.6 124.2h0M1097.5 126.8h0M1100.3 126.4h0M1103.9 129.7h0M1107.6 131.1h0M1109.4 130.7h0M1112.2 133.8h0M1115 133.3h0M1118.9 133.2h0M1121.2 132.9h0M1124.2 135.6h0M1127 133.6h0M1130.8 133.6h0M1133.4 133.3h0M1136 134.1h0M1139.7 131.3h0M1141.8 131.3h0M1143.6 134.5h0M1147.4 131.6h0M1150.9 132h0M1153.8 131.9h0M1158.2 131.5h0M1161 134h0M1163 134.4h0M1167.4 132h0M1169.8 133.7h0M1174.1 130.7h0M1176.4 133.3h0M1180.8 130.2h0M1182.6 130.6h0M1184.9 131.6h0M1186.7 132h0M1190.6 132.7h0M1192.5 130.2h0M1194.8 131.4h0M1196.6 132.5h0M1199.3 134h0M1201.4 134.1h0M1205.3 131.6h0M1209.3 131.9h0M1212.7 132.9h0M1216.8 132.3h0M1220.4 131.7h0M1224.1 132.4h0M1227.6 134.3h0M1231.7 132.3h0M1234.5 133.6h0M1236.5 136.1h0M1238.9 138.3h0M1241.3 140.1h0M1243.8 137.6h0M1248 137.4h0M1250 140.8h0M1253.2 137.6h0M1255.7 138.5h0M1259.4 137.4h0M1261.8 140.7h0M1264.2 137.3h0M1266.4 140.4h0M1269.6 139.8h0M1271.5 140.3h0M1275.6 142.9h0M1279.1 142.4h0M1282.3 142.3h0M1285.3 146h0M1288.9 145.1h0M1290.7 146.5h0M1293.7 149.4h0M1296.3 147.9h0M1298.2 149.9h0M1301.9 148.3h0M1305.7 149.7h0M1308.3 150.9h0M1312.4 150.1h0M1316.6 147.2h0M1320.6 147.9h0M1324 151.6h0M1326.7 149h0M1330 150h0M1332 150.4h0M1336.4 153.6h0M1340 153.5h0M1344.2 154.1h0M1347.1 150.6h0M1350.2 149.7h0M1352.7 149.9h0M1355.7 150.5h0M1359.9 149.3h0M1363 152.8h0M1365.4 149.2h0M1368.1 149.9h0M1371.6 150.9h0M1374.7 152.5h0M1378.1 154.5h0M1381.2 152.8h0M1383.8 153.3h0M1386 154.4h0M1389.9 152.8h0M1393.9 154.1h0M1396.2 153.3h0M1398.5 151.6h0M1401.6 150.3h0M1405.1 152.5h0M1409 150.7h0M1412 152h0M1416.1 153.1h0M1418.8 153.9h0M1422.3 154h0M1424.9 149.3h0M1427.4 148.2h0M1430.9 148.5h0M1434.1 147.4h0M1437.6 145.8h0M1441 149.3h0M1443.9 146.6h0M1447.6 148.4h0M1450 147.2h0M1453.8 146.4h0M1456.7 147.3h0M1461 144.3h0M1463.2 145.5h0M1465.6 140.9h0M1469.3 140.6h0M1471.6 142.4h0M1475.3 141.2h0M1478.1 142.3h0M1480.1 144.3h0M1482.1 145.5h0M1484.4 142.2h0M1487.1 144.6h0M1490.1 142.5h0M1492.1 140.8h0M1494.4 142.5h0M1498.7 140.9h0M1501.8 141.8h0M1504.2 139.7h0M1506.9 140.5h0M1508.7 142.4h0M1511.9 141.6h0M1514.9 139.4h0M1517.2 139.8h0M1520.1 139.1h0M1522.3 141.4h0M1525.8 139.6h0M1528.8 142h0M1533 140.4h0M1536.2 135.9h0M1539.9 138h0M1543.1 135.3h0M1547 133.3h0M1550.1 133.9h0M1552.6 135.3h0M1556.9 134.2h0M1559.4 134.1h0M1563.7 135.6h0M1566.9 135.5h0M1569.7 134.9h0M1572.8 136.5h0M1574.6 132.7h0M1577.7 134.6h0M1580.8 131.1h0M1583.8 132.3h0M1585.8 135.5h0M1588.6 135.5h0M1591 136.7h0M1594 135.5h0M1596.9 136.9h0M1600 133.7h0M1602.3 133h0M1606.4 132.8h0M1610 130.9h0M1611.8 136.4h0M1614.2 135.6h0M1616.7 134.1h0M1619.1 133.6h0M1621.1 128.7h0M1625.1 128.2h0M1628.7 128h0M1630.5 127.3h0M1634.4 123.9h0M1637.5 123.6h0M1640.7 122.2h0M1643 123.1h0M1647.1 123.1h0M1650.4 122.2h0M1652.7 122.2h0M1656.8 122.1h0M1660.9 122.7h0M1664.5 124.2h0M1667.2 126.4h0M1671.2 128.1h0M1674.3 127.4h0M1676.6 126.5h0M1678.6 128.8h0M1682.7 128.5h0M1684.7 128.4h0M1687.8 125.7h0M1691.6 125.5h0M1693.6 120.3h0M1697.4 124.1h0M1699.5 123.5h0M1701.5 125.6h0M1705.5 130.7h0M1709.6 127.6h0M1712.9 125.6h0M1717.1 125.3h0M1051.8 123h0M1051.6 122.6h0M1052.4 125.5h0M1052.8 120.8h0M1054.3 122.3h0M1053.5 124.7h0M1054.5 121.3h0M1056.3 126.1h0M1056.6 122.8h0M1058.2 119.9h0M1059.1 116.7h0M1059.3 117.3h0M1059.9 118.8h0M1059.8 119.2h0M1060.6 116.9h0M1060.7 122.8h0M1062.4 123.1h0M1061.4 123.2h0M1062.7 123.2h0M1062.8 116h0M1063.9 113.8h0M1063.6 118.7h0M1065 117.8h0M1064.5 114.5h0M1065.9 118.4h0M1066 121.3h0M1066.7 116.5h0M1066.9 117.4h0M1068.2 119.3h0M1069 118.6h0M1069.1 119.6h0M1070.3 118.1h0M1071.3 123.5h0M1071 119.7h0M1071.7 119.4h0M1072.9 117.6h0M1074.3 117.2h0M1074.4 122.1h0M1076 120.9h0M1076.5 122.1h0M1078 119.7h0M1077.7 122.7h0M1079.1 118.1h0M1079.4 123.6h0M1080.2 116.9h0M1081.4 117.8h0M1081.5 123.7h0M1081.5 121.1h0M1082.6 120.7h0M1083.8 118.6h0M1085.1 123.7h0M1086.2 124.4h0M1086.5 120h0M1086.9 121.9h0M1088.2 121.9h0M1088 119.6h0M1088.6 123.4h0M1090.4 118.8h0M1090.1 121.4h0M1091 122.8h0M1090.7 115.4h0M1091.6 115.8h0M1092.2 118.8h0M1092.6 117.3h0M1093.8 120.4h0M1094.5 120.3h0M1095.8 123.2h0M1097.2 123.9h0M1097.8 123.5h0M1099.2 118.3h0M1098.7 122.7h0M1099.6 124.9h0M1100.9 123.3h0M1101.8 123.3h0M1102.9 125.9h0M1103.7 118.1h0M1105.1 125h0M1105.7 126.8h0M1107.1 122.5h0M1107.7 129h0M1109.3 127.1h0M1109.9 124.9h0M1110.6 127.1h0M1111.9 130h0M1112.4 131.3h0M1113 130.1h0M1113.8 131.2h0M1115 126.5h0M1115.9 126.3h0M1116.2 133.2h0M1116.6 125.8h0M1116.4 128.5h0M1118 129.5h0M1118.7 130.5h0M1119.7 126.1h0M1120.5 131.1h0M1120.8 132.3h0M1122.3 129.7h0M1122.8 129.3h0M1123.5 128.1h0M1124.5 131.8h0M1126.2 124.7h0M1126.4 127.9h0M1127.9 125.1h0M1128.8 124h0M1130.3 125.1h0M1129.6 131.9h0M1131.1 129.8h0M1130.8 127.2h0M1132.3 126.6h0M1132.7 130.2h0M1134.3 131.5h0M1133.4 130.3h0M1134.7 130.5h0M1136 126.9h0M1136.9 127.8h0M1137.8 130.9h0M1139 131.1h0M1140.3 128.3h0M1141.4 127.1h0M1141.5 129.9h0M1142.6 127.1h0M1144.4 130.1h0M1144.2 130h0M1145.3 123.7h0M1146.3 130.5h0M1146.8 125.7h0M1148.2 127.1h0M1149.2 130.7h0M1150 129.5h0M1151 123.6h0M1152.3 125.3h0M1152.8 124.5h0M1154.3 127.9h0M1155.1 124h0M1155.4 127.7h0M1157.1 125.1h0M1157.4 127.2h0M1159.3 127.8h0M1159.8 126.6h0M1161.1 131.5h0M1161.5 124.6h0M1162.1 129.6h0M1162.5 130.5h0M1164.1 131.2h0M1164.5 127.3h0M1166.2 131.5h0M1166.6 132h0M1168.1 132.4h0M1169 131.2h0M1169.8 126.8h0M1170.7 127.6h0M1171.8 129.8h0M1173 125.3h0M1173.6 129.3h0M1174.9 124.1h0M1175.4 124.7h0M1177.2 127.3h0M1178.3 129.6h0M1178.5 125.1h0M1180.3 127.2h0M1181 128.7h0M1181.6 129.1h0M1182.7 127.4h0M1183.8 125.8h0M1184.7 125h0M1186.1 124h0M1186.7 127.4h0M1187.9 127.9h0M1189.3 124.9h0M1191 129.9h0M1192.2 128.3h0M1192.8 127.3h0M1194.3 124.3h0M1194.9 129.9h0M1196 125.8h0M1197.3 124.3h0M1198.3 129.3h0M1199.3 125.3h0M1199.8 129.1h0M1200.6 127.2h0M1201.9 130h0M1203.3 129.9h0M1205.2 129.9h0M1206 129.2h0M1206.8 126.2h0M1207.5 128.8h0M1208.5 127.7h0M1209.5 131.3h0M1211.2 130.2h0M1211.5 128.8h0M1213.3 131.1h0M1213.7 128.2h0M1216.1 131h0M1216.5 126.1h0M1218.8 128.9h0M1219.7 130.9h0M1220.8 128.3h0M1222.3 130.4h0M1223.6 130.8h0M1227.3 126.6h0M1228.3 130.1h0M1230.8 131.5h0M1231.6 130.2h0M1232.5 129.8h0M1233.5 130.9h0M1235.7 131.5h0M1236.6 128.9h0M1237.9 132.4h0M1238.6 134.2h0M1239.7 133.4h0M1241.2 132h0M1241.6 136.5h0M1243.7 132h0M1247.1 135.7h0M1247.6 135.3h0M1251.2 134.3h0M1253.3 135.1h0M1254.2 137.6h0M1255.3 133.6h0M1255.7 136.4h0M1256.7 135.4h0M1257.9 136.8h0M1259.4 135.5h0M1260.5 133.9h0M1261.5 135.2h0M1263.4 137.4h0M1264.8 136.1h0M1266.4 134.4h0M1267.1 134.8h0M1267.6 138h0M1270 139.1h0M1270.5 139.3h0M1272.3 139.1h0M1272.4 138.1h0M1274 139.9h0M1277.2 139.7h0M1278.1 139.3h0M1279.1 138.7h0M1281.3 140.6h0M1281.6 139.6h0M1284.3 141.1h0M1285 142.2h0M1287.3 143.6h0M1287.6 141.4h0M1290 145.1h0M1291.1 144.4h0M1295.9 146.9h0M1296.9 145.2h0M1299.9 145.5h0M1304 147.1h0M1304.9 147.1h0M1306.9 145.8h0M1307.9 146.3h0M1315.3 144.5h0M1315.6 144.4h0M1317.3 147.7h0M1318 145.2h0M1325.3 148.9h0M1325.4 147.5h0M1327.2 147.2h0M1330.2 149h0M1333.9 149.4h0M1334.7 147.9h0M1342.5 148.4h0M1346.2 148.9h0M1347.2 150.9h0M1350.3 148.6h0M1351.9 149.4h0M1352.5 149h0M1353.9 148.6h0M1357.8 148.3h0M1362.8 148.7h0M1364 148.4h0M1365.1 149.5h0M1367.1 149.5h0M1404 151h0M1405.8 150.7h0M1407.5 150.6h0M1411.6 150.1h0M1413.8 150.2h0M1420.7 150.5h0M1424.3 150.5h0M1425.2 148.7h0M1426.3 149.1h0M1426.7 146.4h0M1428.2 146.9h0M1431.3 145.6h0M1431.6 146.2h0M1432.9 143.5h0M1434.9 143.2h0M1438.1 146h0M1438.9 145.2h0M1439.7 145.6h0M1440.9 144.5h0M1444.2 145.9h0M1446.3 146.7h0M1448.4 143.9h0M1450.6 144.9h0M1451.7 143.9h0M1454.8 144.7h0M1456.8 144.5h0M1464.9 141.4h0M1466.8 140.2h0M1467.8 139.1h0M1470.8 140h0M1472.6 140.6h0M1474.4 137.5h0M1475.7 140h0M1477 137.9h0M1478.4 140h0M1479.2 140.4h0M1480.7 139.1h0M1482.5 141.3h0M1484.3 142.7h0M1484.9 140.3h0M1487.2 142.7h0M1488.8 138.1h0M1491.8 140.1h0M1493.1 139.2h0M1494.3 137.4h0M1495 139.5h0M1498.3 135.6h0M1498.7 137.8h0M1499.5 136.7h0M1501 138h0M1502.2 134.8h0M1502.7 134.9h0M1504.4 139.4h0M1504.8 135.4h0M1505.6 138.6h0M1506.7 139.9h0M1507.6 137.4h0M1509.4 140.3h0M1512.7 138.9h0M1513.5 138.2h0M1514.5 139.7h0M1515.7 139.1h0M1516.9 139.7h0M1518.1 137.8h0M1521.8 138.9h0M1523.5 133.8h0M1524.9 138.2h0M1526 139.3h0M1526.5 135.8h0M1527.7 137.3h0M1528.4 134.6h0M1529.6 135.1h0M1530.8 133.7h0M1531.8 132.1h0M1533.4 132.4h0M1534.6 130.9h0M1536 134.4h0M1537.3 133.4h0M1538.3 134.6h0M1538.8 129.8h0M1541.4 132h0M1543.3 132.5h0M1543.7 132h0M1544.8 132.2h0M1548.1 131.5h0M1549.2 129.7h0M1549.9 129h0M1550.9 132.2h0M1551.4 128.7h0M1552.9 129.1h0M1554 128.7h0M1555 130.2h0M1556.2 133.1h0M1558.3 128.6h0M1558.5 128.4h0M1559.7 129.3h0M1560.7 127.6h0M1561.6 130.2h0M1562.9 130.9h0M1564.8 128.7h0M1565.5 133.9h0M1567.3 128.4h0M1569.2 134.6h0M1570.3 131h0M1571.8 130.2h0M1573.1 127.5h0M1573.5 130.8h0M1574.7 130.7h0M1577.8 132.3h0M1579.2 130.2h0M1579.6 129.6h0M1580.6 129.9h0M1581.7 124.6h0M1583 127.5h0M1583.5 124.5h0M1585.3 130.4h0M1585.5 127h0M1587 128.6h0M1587.5 126.8h0M1588.8 130h0M1589.5 127.1h0M1590.5 133.2h0M1591.9 128.4h0M1592.6 129.9h0M1593.7 129.5h0M1594.7 131.6h0M1596 126.1h0M1597 129.6h0M1596.8 132.9h0M1598.3 127.3h0M1599.1 127.3h0M1600.2 128.3h0M1601 126.4h0M1601.4 132h0M1602.1 133.1h0M1602.6 126.7h0M1604.1 129.9h0M1604.4 127.6h0M1605.6 129h0M1606.5 125.9h0M1608.2 130h0M1609 128.8h0M1609.9 130.6h0M1610.4 134.3h0M1611.1 136h0M1612.1 135.2h0M1613.3 129.9h0M1613.8 124.8h0M1614.2 127.8h0M1614.8 123.2h0M1616.2 133.1h0M1616.4 122.2h0M1616.6 120.9h0M1616.9 129h0M1617.6 124.5h0M1617.9 127.4h0M1618.6 126.6h0M1620.3 119.7h0M1619.9 128.3h0M1620.6 124.7h0M1621.4 125.4h0M1622.2 117.8h0M1622.2 119.6h0M1622.8 125.1h0M1623 119.7h0M1624.3 121.9h0M1624.2 122.5h0M1624.7 120.2h0M1624.9 117.8h0M1626.3 120.2h0M1626.4 117.2h0M1627.4 115.8h0M1626.5 125.7h0M1628 117.4h0M1627.5 116.7h0M1629 118.6h0M1628.5 117.9h0M1629.6 120.1h0M1629.7 118.2h0M1631.1 121.4h0M1632.4 117.1h0M1631.9 119.2h0M1633 116.9h0M1633.1 112.8h0M1634.4 114.8h0M1634.2 120.5h0M1634.5 121h0M1634.5 113.6h0M1636.3 115.6h0M1636 113.7h0M1637 122.5h0M1636.5 115.7h0M1637.8 111.2h0M1637.7 113.3h0M1638.6 111.8h0M1638.7 113.9h0M1639.8 116.4h0M1640.7 111h0M1641 118.9h0M1641.9 112h0M1641.9 119.8h0M1643.3 117.2h0M1642.6 119.5h0M1643.5 117.7h0M1644.1 118.5h0M1645.3 114.7h0M1645.2 118.2h0M1646.2 113.5h0M1646.8 117.9h0M1647.1 117.8h0M1647.5 119.8h0M1647.5 113.1h0M1648.7 110.5h0M1650.3 120.2h0M1650.1 111.2h0M1651.2 114.7h0M1650.9 115.7h0M1652.2 119.8h0M1651.4 113.1h0M1652.8 117.4h0M1653.1 119.2h0M1653.9 116.7h0M1653.5 118.9h0M1654.5 114.3h0M1655 115.5h0M1655.4 114.6h0M1656.2 120.8h0M1656.6 112.2h0M1656.5 120.8h0M1657.9 114.8h0M1657.5 114.5h0M1659.1 117.6h0M1658.6 116.1h0M1659.6 114.2h0M1660.8 116.2h0M1660.8 122h0M1661.6 112.9h0M1662.3 122.3h0M1662.6 114.4h0M1662.6 112h0M1663.7 114.9h0M1665.2 120.4h0M1665.2 118.2h0M1665.8 111.2h0M1667.1 122.4h0M1667 114.6h0M1667.4 111.3h0M1668.3 121.7h0M1669.2 117h0M1668.5 119.1h0M1669.6 122.7h0M1670.1 122.1h0M1670.7 121.1h0M1671.2 118.3h0M1671.9 120.3h0M1671.7 122.1h0M1672.7 122h0M1673.3 123h0M1674 121.2h0M1674.1 125.8h0M1675.3 112.2h0M1674.6 126.7h0M1675.5 119.1h0M1676.1 126.7h0M1676.5 119.8h0M1677.4 126.1h0M1677.9 126.2h0M1678.1 120.1h0M1679 123.4h0M1679.3 126.2h0M1679.6 115.2h0M1679.4 123.3h0M1680.5 125.7h0M1680.7 125.7h0M1681.6 117.3h0M1682.3 121.2h0M1683.2 119.5h0M1683.2 122h0M1684.3 121.4h0M1683.6 117.8h0M1685.3 115.1h0M1684.7 114.1h0M1685.8 126.4h0M1685.6 114.8h0M1687.2 124h0M1686.5 121.9h0M1687.6 124.7h0M1687.6 117.4h0M1688.8 114h0M1688.6 123.3h0M1690.1 115.7h0M1689.8 117.8h0M1690.8 122.4h0M1690.6 112.3h0M1692.3 111.9h0M1692.1 111.3h0M1693 116.8h0M1692.4 116.5h0M1693.9 107.5h0M1693.6 118h0M1694.5 110.3h0M1694.9 116.6h0M1694.4 113.3h0M1696.1 107.7h0M1695.5 106.2h0M1696.8 120.1h0M1696.6 116h0M1698.3 110.2h0M1698.3 115.6h0M1699.3 121.8h0M1698.4 108h0M1699.6 115.6h0M1699.6 109.4h0M1700.7 113.5h0M1700.5 111.9h0M1701.4 116.1h0M1702.1 114.7h0M1703.3 124.4h0M1702.8 122.1h0M1703.5 126.3h0M1704.4 125.7h0M1704.5 124.2h0M1705 119.1h0M1706.2 123.1h0M1706.2 122h0M1707.1 116.9h0M1707.3 115h0M1708.1 128.7h0M1708.4 118h0M1708.9 115.6h0M1709 127.4h0M1709.9 127.9h0M1709.5 113.3h0M1710.8 123.1h0M1710.9 121.8h0M1711.8 111.8h0M1712.4 124.2h0M1713.4 117.9h0M1712.5 120.6h0M1712.7 110.4h0M1713.7 124.5h0M1714 123h0M1715.1 113.6h0M1714.5 112.1h0M1715.8 118.3h0M1715.7 117.9h0M1717.1 115.8h0M1717.3 117.7h0M1718 115.1h0M1718.2 121.2h0M1673.5 128.5h0M1673.6 125.9h0M1673.5 123.4h0M1673 120.4h0M1673.1 117.7h0M1673.7 114.6h0M1508 142.4h0M1508.4 139.7h0M1507.7 136.8h0M1508.2 134.3h0M1146.7 133.1h0M1146.5 131.1h0M1146.7 129h0M1146.3 126.4h0M1473 142.8h0M1472.8 140.7h0M1152.4 133h0M1152.6 130.2h0M1152.5 127.3h0M1152.1 124.6h0M1136.8 133.4h0M1136.5 131h0M1136.3 127.7h0M1136.8 125h0M1590.2 135.2h0M1590.2 132.5h0M1590 129.5h0M1590.4 126.1h0M1157.6 132.9h0M1157.6 130.3h0M1158 127.4h0M1158 125h0M1550.3 134.4h0M1550.3 131.8h0M1550 128.7h0M1550.4 126.3h0M1200.9 132.8h0M1201.3 129.5h0M1201 126h0M1200.9 123.1h0M1338.8 152.9h0M1338.5 150.9h0M1338.4 147.7h0M1087.6 127.8h0M1087.4 124.9h0M1087.2 122.2h0M1087.3 120h0M1095.4 126.5h0M1095.5 124.4h0M1095.1 121.6h0M1095.2 118.2h0M1317.1 149.7h0M1317 147.3h0M1405.8 153h0M1405.8 149.8h0M1337.3 153h0M1337.6 150h0M1384.5 153.8h0M1384.1 151.1h0M1384.2 149h0M1461.6 145.2h0M1461.3 142h0M1229.7 133.9h0M1229.7 131.8h0M1230.4 128.3h0M1229.8 126h0M1418 152.6h0M1418.3 149.7h0M1383.1 153.8h0M1383.1 150.6h0M1323.8 150.9h0M1323.8 148.6h0M1306.8 149.6h0M1306.4 146.7h0M1306.8 144.4h0M1633.5 125.7h0M1633 123.2h0M1633.6 119.9h0M1633.6 117.1h0M1633.2 113.8h0M1633.1 111.7h0M1633.2 109.3h0M1187.5 132h0M1188.1 129.9h0M1187.4 127h0M1187.9 123.9h0M1490.6 143.3h0M1490.9 140.1h0M1490.2 136.8h0M1203.9 133h0M1203.7 129.5h0M1203.6 127.2h0M1203.4 124.3h0M1535.6 138.1h0M1535.6 134.8h0M1535.4 132.2h0M1627.1 128.1h0M1626.7 125h0M1626.4 122.2h0M1626.9 119.9h0M1627.2 117.8h0M1277.6 143.5h0M1277.8 141.1h0M1277.4 138.5h0M1553 134.7h0M1552.4 132h0M1552.7 128.8h0M1269.5 141.2h0M1269.2 138.5h0M1269.6 135.1h0M1116.7 135.9h0M1116.7 133.1h0M1116.6 131.1h0M1116.4 128.4h0M1414.9 152.5h0M1415.2 150.2h0M1436.7 148.2h0M1436.6 145.6h0M1468.7 143.2h0M1468.3 140.8h0M1468.7 137.5h0M1468.4 135.4h0M1089.9 127.3h0M1089.6 124.8h0M1089.6 121.9h0M1090 119.4h0M1090 116.1h0M1070 125.5h0M1069.8 123.1h0M1069.9 120.5h0M1069.7 117.6h0M1070.2 114.6h0M1070.1 111.5h0M1173 133.5h0M1172.9 130.8h0M1173 128.3h0M1173.1 125.8h0M1090.9 127h0M1091 123.8h0M1090.9 120.6h0M1090.4 117.2h0M1446.7 148.9h0M1446.6 146.1h0M1446.7 142.9h0M1460.4 145.4h0M1460.9 143.2h0M1461 141.1h0M1064.7 125.1h0M1064.9 121.7h0M1065 119.7h0M1064.8 117.1h0M1159.8 133.2h0M1159.7 130.9h0M1159.9 127.6h0M1347.1 152.6h0M1347.2 149.4h0M1347.3 147h0M1716.2 124.7h0M1715.7 122.3h0M1716 119.7h0M1715.9 117.7h0M1715.8 114.9h0M1715.9 111.5h0M1715.8 108.8h0M1715.6 105.4h0M1202.5 132.9h0M1202.1 129.6h0M1202.4 127.4h0M1202.3 124.9h0M1077.2 126.8h0M1077.3 123.4h0M1077.6 121.2h0M1077.5 118h0M1349.9 152.3h0M1349.6 149.4h0M1349.8 147.3h0M1547.4 134.6h0M1547.5 131.2h0M1547.8 128h0M1461 145.4h0M1460.9 142h0M1258.9 139.4h0M1259 136.7h0M1258.4 134.4h0M1200.3 132.8h0M1200.6 129.7h0M1200.6 126.5h0M1642.3 123.4h0M1642.2 120.2h0M1641.7 117.1h0M1641.5 114.9h0M1642.2 111.9h0M1642.2 109.4h0M1309.6 149.6h0M1309.3 146.6h0M1309.4 143.7h0M1106.8 131.1h0M1107 128.5h0M1106.3 125.5h0M1106.8 122.5h0M1673.9 128.9h0M1674.4 126.2h0M1674.1 124.1h0M1674.2 121.9h0M1674.3 119h0M1674.6 116.4h0M1455.9 147.5h0M1456.4 144.5h0M1349.7 152.3h0M1350.5 149.4h0M1350 147.2h0M1341.4 152.9h0M1342 150.3h0M1096.2 126.8h0M1095.9 123.5h0M1095.8 120.5h0M1095.8 117.4h0M1709.9 129.4h0M1709.6 127h0M1709.8 124.4h0M1709.9 122.2h0M1710.1 120.1h0M1709.8 116.9h0M1710.1 114.4h0M1709.5 112.2h0M1710.3 109.8h0M1588.5 134.9h0M1588.9 131.7h0M1588.4 129.3h0M1588.3 126.3h0M1588.9 123.1h0M1122.9 135.1h0M1122.9 132.7h0M1122.8 129.2h0M1123.2 126.1h0M1627.5 127.8h0M1627.4 124.9h0M1627.8 122.3h0M1627.8 119.4h0M1628 116.6h0M1236.1 136.4h0M1236.2 134h0M1236.2 131.6h0M1568.9 136.8h0M1568.8 133.9h0M1568.9 130.5h0M1569.1 128.1h0M1071.5 125.6h0M1071.5 122.7h0M1071.4 120.3h0M1071.7 117.4h0M1509.5 142.3h0M1509.4 139.6h0M1509.4 137.6h0M1585.1 134.1h0M1585.3 131.4h0M1585.2 129h0M1533.4 139h0M1533.7 136h0M1533.7 133.1h0M1533.4 130.9h0M1332.4 152.4h0M1332.5 150.1h0M1332.5 147.6h0M1673.2 128.4h0M1672.9 126h0M1673.4 123.3h0M1672.7 119.9h0M1673.1 116.9h0M1441.6 148.9h0M1441.6 146.3h0M1442.2 143.3h0M1299.6 149.8h0M1299.9 147.2h0M1299.4 144.8h0M1268.8 141.1h0M1268.8 138.5h0M1269.3 135.8h0M1657.3 123.7h0M1657.4 120.9h0M1657.2 118.4h0M1657.7 114.9h0M1657.6 112.8h0M1237.7 137.1h0M1237.7 133.7h0M1237.2 130.4h0M1237.7 128.2h0M1692.3 123.7h0M1692 120.8h0M1692 118.5h0M1692.2 115.5h0M1692.6 112.9h0M1691.9 109.8h0M1692 107.6h0M1692 105.3h0M1539.9 136.6h0M1539.9 134.1h0M1540 130.6h0M1540.3 128.6h0M1101.8 128.8h0M1101.4 126.3h0M1101.7 122.9h0M1101.8 119.7h0M1101.5 117.4h0M1330.1 152h0M1329.5 149.3h0M1329.5 146.7h0M1329.4 151.8h0M1328.8 148.6h0M1329 145.4h0M1240.3 138.3h0M1240.3 135h0M1240 132.6h0M1629.8 126.9h0M1630 124.8h0M1629.8 122.5h0M1630.3 119.8h0M1629.8 117.1h0M1629.8 115h0M1629.8 112.1h0M1630 109.9h0M1703.6 129h0M1703.3 125.9h0M1703.8 123.5h0M1703.6 120.2h0M1703.2 118h0M1703.4 115.3h0M1703.5 112.9h0M1703.2 110.6h0M1081.2 127.8h0M1080.9 124.4h0M1081.2 121h0M1081.3 118.1h0M1405.1 153h0M1405.1 149.8h0M1096.6 126.9h0M1096.6 123.7h0M1096.1 120.5h0M1096 117.7h0M1096.5 114.9h0M1059 126.9h0M1059.4 123.8h0M1059.3 121.4h0M1059.2 118.7h0M1059.3 115.9h0M1140.4 133.3h0M1139.9 130.3h0M1140.3 127.8h0M1140.3 125.5h0M1139.9 122.8h0M1250.5 139.5h0M1250.4 137.1h0M1250.3 134.4h0M1259.7 139.4h0M1259.9 136.1h0M1648.2 123.1h0M1647.9 120h0M1648.1 116.7h0M1648.3 113.4h0M1647.6 110.3h0M1647.6 108.1h0M1469.7 143.1h0M1469.9 140.6h0M1469.9 137.8h0M1192.5 132.2h0M1192.6 129.2h0M1192.2 126.9h0M1336.1 153h0M1336.5 150.3h0M1429.1 149.9h0M1428.9 146.4h0M1468.9 143.1h0M1469 140.5h0M1468.8 137.2h0M1481.6 144.1h0M1481.3 140.7h0M1481.9 138.7h0M1112.2 134.1h0M1111.8 131.3h0M1111.5 127.8h0M1112.1 124.7h0M1685.4 128.4h0M1684.8 125.3h0M1685.1 122.5h0M1685.1 119.1h0M1685.2 115.8h0M1685 113.5h0M1684.8 111.3h0M1685.3 109.2h0M1508.6 142.4h0M1508.6 140.1h0M1508.9 137.4h0M1509 135.1h0M1184.5 132.1h0M1184.8 129.9h0M1184.5 127.9h0M1184.2 125.7h0M1673.3 128.5h0M1673.5 126h0M1673.8 123.9h0M1673.8 121.4h0M1673.5 119h0M1101.5 128.9h0M1101.6 126.7h0M1101.3 123.5h0M1102 121.1h0M1101.6 117.9h0M1621.6 130.3h0M1621.8 127.7h0M1621.7 125h0M1621.5 121.8h0M1621.5 119.4h0M1410.1 152.6h0M1410.2 150.6h0M1112.8 134.8h0M1112.9 131.7h0M1113.4 129.3h0M1113.4 126.4h0M1112.8 124.4h0M1159.6 133.2h0M1159.8 130h0M1159.6 127.8h0M1159.6 125.4h0M1515.7 141.8h0M1516.4 139.4h0M1516.3 136h0M1516.4 133.3h0M1606.3 134.4h0M1606.6 131.5h0M1606 128.6h0M1606.4 126.6h0M1606.1 123.3h0M1557.7 135.3h0M1557.6 132.1h0M1557.9 129.6h0M1513.2 142.1h0M1512.8 139.5h0M1512.9 136.1h0M1102.5 129.3h0M1102.8 127h0M1102.7 124.4h0M1102.4 121.2h0M1102.7 118.4h0M1307.5 149.6h0M1307.3 147.4h0M1307.7 145.4h0M1404.2 153h0M1404.4 149.7h0M1488.8 144h0M1489 141.8h0M1489 138.4h0M1489.6 143.6h0M1490.2 141.5h0M1489.9 138.6h0M1654.8 123.4h0M1655.4 120.9h0M1655.5 117.8h0M1655.3 114.9h0M1654.8 111.7h0M1655.5 109.4h0M1546.7 134.7h0M1547 131.7h0M1546.9 128.7h0M1639.4 124.1h0M1639.1 122h0M1639.4 119.3h0M1639.3 117.2h0M1639.5 114.2h0M1639 111.9h0M1638.8 109.2h0M1639.4 105.7h0M1528.4 141h0M1528 138.7h0M1528.2 135.5h0M1709.1 130.1h0M1709.2 127.9h0M1708.9 124.7h0M1709.1 122.5h0M1709 119.5h0M1708.7 117.2h0M1708.5 115h0M1708.7 112h0M1616.9 133.7h0M1617.2 131h0M1617.6 128.9h0M1617.2 125.7h0M1617.3 122.5h0M1617 119.6h0M1295.2 150h0M1295.1 147.5h0M1183.3 132.1h0M1183.6 129.8h0M1183.4 126.8h0M1662.6 124.4h0M1662.2 121.9h0M1662.6 118.6h0M1662.7 115.5h0M1662.5 113.3h0M1082 128h0M1081.7 125.2h0M1081.9 122.7h0M1082 120h0M1082.1 117.5h0M1516.1 141.8h0M1516.5 138.5h0M1516.4 135.3h0M1140.1 133.3h0M1140 130.8h0M1140.5 128.6h0M1140.3 125.8h0M1123.7 135.1h0M1123.5 132.5h0M1123.3 129h0M1123.9 126.4h0M1066.3 125.2h0M1066.5 122.6h0M1067 119.3h0M1066.4 116.4h0M1528.5 140.7h0M1528.8 137.8h0M1528.6 135.1h0M1528.4 132.1h0M1440.6 148.7h0M1441.1 145.5h0M1441.2 142.4h0M1350.4 152.2h0M1350.3 150.2h0M1269.9 141.4h0M1270.3 138.3h0M1270 136.1h0M1626.5 128.2h0M1626.5 126h0M1627 123.7h0M1626.3 121.6h0M1626.9 118.1h0M1626.6 115.4h0M1626.8 112h0M1310.8 149.5h0M1310.6 147.4h0M1310.7 144.1h0M1327.4 151.5h0M1326.8 149.1h0M1327 146.4h0M1463.9 143.8h0M1463.9 141.7h0M1464.3 138.4h0M1248.2 139.4h0M1248 137.2h0M1248.4 134.5h0M1195.5 132.4h0M1195.7 130.4h0M1195.7 127.1h0M1683.2 128.5h0M1682.8 126.2h0M1682.6 123.7h0M1683.1 121.6h0M1682.6 118.9h0M1683.2 116.1h0M1413.9 152.5h0M1413.8 149.8h0M1703.5 128.8h0M1703.6 126.5h0M1703.1 123.7h0M1703.2 120.4h0M1703.3 118.4h0M1530.8 139.8h0M1530.9 137.8h0M1531.4 134.9h0M1531 132.6h0M1531.3 130h0M1328.3 151.8h0M1328.3 149.4h0M1329 147h0M1449.2 148.7h0M1449.3 146.1h0M1449 143.2h0M1492.6 142.5h0M1493.1 139.7h0M1492.7 136.5h0M1492.8 134.2h0M1052.3 210.3h0M1054.8 207.4h0M1058.5 207.1h0M1062.2 205.7h0M1064.8 206.6h0M1069.1 205.4h0M1072.3 205.3h0M1075 204.3h0M1078.7 198.8h0M1082.6 199.9h0M1086.5 196.4h0M1089.6 200.9h0M1093.8 201.4h0M1097 199.5h0M1100.9 199.7h0M1104.5 203.3h0M1106.6 203.6h0M1110 203h0M1112.1 202.7h0M1115.5 198.8h0M1118.6 201.7h0M1122.5 202.8h0M1124.3 200.4h0M1127.2 202.1h0M1130.5 201.5h0M1132.6 202.3h0M1135.8 201.1h0M1139.8 204.2h0M1142.7 205.4h0M1144.5 207.7h0M1146.5 205.4h0M1148.6 208.4h0M1151.3 205.5h0M1153.7 206.1h0M1157.8 204.8h0M1161.4 203h0M1163.9 202.4h0M1166.3 201.2h0M1170.4 200h0M1172.5 203h0M1174.9 203.6h0M1177.5 203.7h0M1181.2 202.4h0M1183.6 203h0M1185.9 202.1h0M1189.9 199.2h0M1192.4 201.5h0M1196.4 205.8h0M1200.3 205.3h0M1203.7 202.3h0M1207 198.7h0M1209 197.6h0M1211.4 195.6h0M1215.4 196.5h0M1218.9 195.9h0M1221.6 194.3h0M1223.7 195.9h0M1226.8 198.6h0M1230.3 197.9h0M1232.8 195h0M1235.3 197.4h0M1239.5 194.3h0M1241.3 192.6h0M1244.4 191.3h0M1247.4 194.1h0M1251 192h0M1254.8 194.5h0M1257.1 194.5h0M1259.3 194.5h0M1262.6 192.4h0M1265.5 194.1h0M1268 190.3h0M1271.2 191.5h0M1273.6 191.7h0M1276.9 189.6h0M1280.2 189.6h0M1282.7 188.1h0M1286.5 185.6h0M1290.1 187h0M1292.8 186h0M1297.1 182.6h0M1300.2 183.7h0M1303.5 182.8h0M1306.4 185h0M1308.2 183.7h0M1312 181.4h0M1316.3 180h0M1319.6 180.7h0M1323.1 180.6h0M1325.1 182.3h0M1328 178.3h0M1331.6 178.7h0M1334.7 179.1h0M1337.2 181.5h0M1341.3 180.6h0M1345.2 180.7h0M1347.3 180.1h0M1351.7 180.4h0M1355.1 176.5h0M1356.9 178.5h0M1361 178.4h0M1362.9 178.4h0M1367.2 180.3h0M1369.9 180.8h0M1373.9 181.3h0M1377.3 177h0M1381.1 179.7h0M1384.9 177h0M1387.5 178.4h0M1390.2 180.6h0M1394.3 179.8h0M1397.3 179.9h0M1400.3 178.7h0M1402.7 178.5h0M1405 179.5h0M1408.3 179.5h0M1411.3 177.4h0M1414.7 180.2h0M1417 178.8h0M1419.7 178.4h0M1423.3 178.8h0M1426.4 181h0M1429.7 182.3h0M1432.4 181.5h0M1435.2 182.5h0M1438.4 182.4h0M1441.6 184.4h0M1445.3 184.7h0M1448 184.4h0M1449.8 184.6h0M1453.8 182.1h0M1458.1 185.5h0M1462.2 188.8h0M1466.2 191.1h0M1470.4 188.4h0M1472.2 190.9h0M1475 187h0M1478 189.7h0M1481.3 191.8h0M1484.8 190.9h0M1487.7 189.9h0M1490.7 191.5h0M1493.5 188.5h0M1496.5 189.7h0M1498.7 187.2h0M1501.2 190.7h0M1503.1 188.9h0M1505 187.7h0M1508.1 189.8h0M1510.4 189.2h0M1514.1 192.6h0M1516.7 189.8h0M1519.6 192.3h0M1522 192.3h0M1526 191.4h0M1528 191.4h0M1530.2 189.4h0M1534 187.5h0M1536.6 187.4h0M1540.1 189.8h0M1543.1 190h0M1546.6 188.6h0M1550.4 190.8h0M1552.2 192.3h0M1556.2 193.4h0M1559.3 193.7h0M1562.6 193.9h0M1565.1 194.4h0M1568 194.1h0M1570.4 198.8h0M1573.4 196.8h0M1575.8 197.8h0M1579.3 199.6h0M1582.8 201.2h0M1584.8 202.1h0M1588.7 205h0M1592.5 207.3h0M1596.3 204.8h0M1599.3 205.4h0M1602.3 204h0M1606.3 205h0M1608.7 201.4h0M1612.3 200.8h0M1615.4 202.6h0M1618.6 205.8h0M1621.6 205.4h0M1625.3 203.9h0M1629.5 202.2h0M1631.5 203.1h0M1633.6 204.8h0M1636.4 204.5h0M1640.1 204.8h0M1644.2 204.3h0M1646.9 207h0M1650.6 204.2h0M1654.1 208.9h0M1657.3 205h0M1659.2 207.2h0M1661 207.2h0M1663.9 208.6h0M1667.8 208.2h0M1670.9 208.7h0M1673.2 208.6h0M1675.7 206.9h0M1678.6 208h0M1681.4 210.4h0M1685.5 213.7h0M1689.4 210.3h0M1692.7 209.2h0M1696.1 206.3h0M1699.5 207.3h0M1702.7 206.4h0M1705.6 207.9h0M1707.7 210.3h0M1711.8 210.1h0M1714.8 210.5h0M1716.7 215.4h0M1052.4 213h0M1053.1 215.8h0M1053.2 217.2h0M1053.9 214.3h0M1053.4 216.3h0M1055.4 214.7h0M1055.3 218.6h0M1055.7 211.4h0M1056.5 210.2h0M1057.3 215.8h0M1058.2 210.3h0M1058.5 212.9h0M1058.9 214.2h0M1060.1 214.8h0M1060.5 214.8h0M1061 211.4h0M1062.3 212.6h0M1063.3 210.8h0M1064 213.3h0M1064.4 210.2h0M1065.3 216.3h0M1066.2 213.9h0M1067 207.4h0M1067.9 210.7h0M1068 211.9h0M1068.5 212.8h0M1068.9 215.9h0M1070.3 211h0M1070.7 208.4h0M1072.2 211.2h0M1073.1 205.5h0M1073.1 212.9h0M1073.8 210.4h0M1073.8 210.9h0M1074.5 209.7h0M1074.8 206.1h0M1076.4 208.8h0M1077.2 205.7h0M1077.8 203.2h0M1078.8 211.3h0M1079.4 204.7h0M1079.5 203.5h0M1081.2 205.4h0M1082.1 208.4h0M1082.8 203h0M1082.8 200.2h0M1084.4 205.3h0M1083.6 204.9h0M1085.3 201.7h0M1086.1 205.1h0M1086.1 203.5h0M1086.5 208.1h0M1087.6 205.8h0M1087.5 206h0M1089.2 203.9h0M1088.5 207.6h0M1089.5 208.9h0M1091.2 206.5h0M1091.8 204.5h0M1092.8 202.2h0M1092.5 202.2h0M1093.6 204.8h0M1095.3 201.8h0M1094.9 201.3h0M1095.9 204.7h0M1096.8 204.6h0M1096.4 204.3h0M1098.2 210.1h0M1097.7 206.2h0M1098.7 206.1h0M1099.5 212.3h0M1101.3 203h0M1101.3 206.3h0M1101.5 205.4h0M1102.8 206.2h0M1104.1 208.8h0M1104.8 207.7h0M1104.5 207.3h0M1105.6 205.8h0M1106.4 207.8h0M1107.2 205.5h0M1107.8 208.3h0M1108.9 212.2h0M1110.1 206.4h0M1111.1 206.6h0M1112.3 205.2h0M1111.9 205.5h0M1112.6 207.1h0M1113.9 203.8h0M1114 211h0M1114.6 204.7h0M1115.9 208.8h0M1116.7 209h0M1117.4 209h0M1118.1 204.6h0M1118.8 202.3h0M1120 202.5h0M1121.1 203.9h0M1122.1 210.2h0M1122.5 205.1h0M1124.2 208.9h0M1124.5 204.8h0M1125.5 204.1h0M1127.3 206.7h0M1126.6 205h0M1128.2 203.5h0M1127.6 204.5h0M1128.6 211.4h0M1129.4 202.9h0M1131.2 204.7h0M1130.5 208.5h0M1132.3 203.1h0M1133.1 210.7h0M1134.2 204.3h0M1134.9 203.4h0M1136.2 206h0M1136.7 203.9h0M1137.7 204.8h0M1139 207.2h0M1139 204.6h0M1139.6 206.5h0M1140.6 209.3h0M1142.1 210.4h0M1142.5 211.1h0M1144.2 208.2h0M1144.7 214.6h0M1146.2 212.6h0M1146.9 216.1h0M1148 216h0M1147.9 210.7h0M1148.9 210.8h0M1148.6 212.9h0M1149.8 211.2h0M1150.7 209.6h0M1152.1 212.7h0M1153.1 209.8h0M1154.3 210.1h0M1154.8 208.1h0M1155.5 209.1h0M1157.1 213.4h0M1158.2 206.7h0M1158.7 210.4h0M1160.3 212h0M1159.4 210.3h0M1161.2 209.1h0M1161.5 204.6h0M1162.4 206.2h0M1164.1 208h0M1164.5 209.9h0M1166.3 202.8h0M1167.2 208.8h0M1168 202.9h0M1168.5 207.3h0M1169.7 205.4h0M1171.2 209h0M1172.3 208.6h0M1173 204.9h0M1173.5 206.8h0M1175 206.9h0M1175.8 209.7h0M1177 203.6h0M1177.4 206.9h0M1178.5 210.4h0M1179.6 206.4h0M1181.1 207.8h0M1181.8 204.1h0M1183 207.6h0M1183.6 203.3h0M1184.9 209.2h0M1185.6 207.9h0M1186.5 204.4h0M1187.6 204.5h0M1189.3 203.7h0M1189.6 202.9h0M1191 204.9h0M1191.6 205.6h0M1192.5 209.6h0M1194.3 210h0M1196 204.8h0M1196.8 208.8h0M1197.6 211.8h0M1198.9 209.2h0M1200.3 206.8h0M1200.8 206.7h0M1201.8 206h0M1202.6 207.9h0M1204.1 209h0M1205.2 205.4h0M1206.1 202.2h0M1207.1 202.4h0M1208.9 201.3h0M1209.7 199h0M1210.7 200.9h0M1211.4 200h0M1212.8 199.9h0M1213.5 200.6h0M1214.5 197.6h0M1216 199.4h0M1217.4 199.8h0M1219.1 197.7h0M1219.5 196.6h0M1221.2 200.8h0M1223.3 199.6h0M1224.3 199.3h0M1225.7 197.7h0M1226.7 199h0M1228.2 198.5h0M1230.1 200.4h0M1231.5 202.5h0M1233 202.3h0M1233.5 202.6h0M1234.5 198.4h0M1235.8 197.3h0M1236.4 197.7h0M1238.7 197.3h0M1239.5 195.9h0M1241.4 197h0M1241.9 199.2h0M1243.5 196.2h0M1245.1 196.4h0M1245.7 199.2h0M1246.6 197.4h0M1248.4 195.5h0M1248.5 194.1h0M1250.2 196.6h0M1251.3 195.1h0M1252.5 195.9h0M1254.1 197.3h0M1255.3 199.2h0M1255.9 197.4h0M1257.1 195.1h0M1257.5 196.1h0M1258.7 199.2h0M1260.1 196.9h0M1261.6 198.3h0M1263.6 198.9h0M1264.8 195.4h0M1266.7 195.8h0M1267.5 194.8h0M1268.7 196.7h0M1270 196.6h0M1270.7 196h0M1272.1 192.8h0M1273.7 195.2h0M1275.2 192h0M1276.7 195.7h0M1277.8 195.7h0M1278.6 191.1h0M1280.2 194.1h0M1280.6 192.6h0M1282.1 190.2h0M1284.4 189.9h0M1285.9 193.3h0M1287.4 189.2h0M1289 188h0M1290.4 190.8h0M1293.7 186.3h0M1295.9 187.7h0M1298.6 186.1h0M1299.4 188h0M1301.4 189.7h0M1302.7 189.1h0M1304.8 188.7h0M1307 187h0M1308.7 184.5h0M1310.9 184.4h0M1312.3 184.5h0M1313.4 184.1h0M1314.1 184.2h0M1316.2 185.5h0M1319.1 184.1h0M1320.3 186.2h0M1323.2 183.8h0M1324.1 182.7h0M1325 181.8h0M1326.7 183.2h0M1335.9 182.5h0M1336.8 181.1h0M1337.9 183.6h0M1339 181h0M1341.1 183.8h0M1347.2 183.1h0M1347.8 182.6h0M1348.5 181.3h0M1351.8 180.8h0M1354 181.5h0M1357.3 180.4h0M1358 181.6h0M1358.5 182.6h0M1366.4 182.9h0M1405.6 182.7h0M1410.5 182.5h0M1416.2 182.1h0M1417 181.2h0M1419.4 182.3h0M1420.4 182.6h0M1424.7 183.5h0M1425.5 182.7h0M1427.4 183.6h0M1430.4 185.1h0M1432.5 187.3h0M1433.6 186.4h0M1435.3 187.6h0M1438.3 187.3h0M1439 187.5h0M1443.3 185.5h0M1449.3 185.4h0M1451.3 185.6h0M1453.2 183.8h0M1454.3 184.4h0M1454.8 183.5h0M1456.7 186.9h0M1458.2 186.4h0M1460.8 189.8h0M1466.2 191.2h0M1467.3 191.4h0M1469.1 194.3h0M1471.2 190.7h0M1472.1 193.5h0M1473.6 190.5h0M1476.9 191.3h0M1478.6 192.9h0M1480.4 191.3h0M1483.3 192.3h0M1483.8 193h0M1484.9 192.2h0M1486.6 195.5h0M1488.8 196.2h0M1490.3 192h0M1490.8 192.3h0M1493.8 193.1h0M1495.1 192.6h0M1496.2 192.7h0M1497.7 194.4h0M1500.4 190.7h0M1501.9 191h0M1504.1 191.2h0M1505 193.4h0M1506.2 190.8h0M1506.7 192.1h0M1509.4 192.2h0M1511.8 195.2h0M1512.9 194h0M1513.9 191.7h0M1515.1 196.1h0M1515.9 195.1h0M1517 194.2h0M1517.7 195.4h0M1519.2 195.4h0M1520.9 194.2h0M1521.6 193.4h0M1522.7 193.9h0M1524.4 191.7h0M1526 194.7h0M1527.3 193h0M1528.1 194h0M1529.3 194.5h0M1529.9 195.9h0M1533.7 193h0M1535.2 193.4h0M1536.2 190.6h0M1536.8 192.5h0M1540.1 191h0M1540.8 191.8h0M1542 193.2h0M1545.1 194.2h0M1545.9 196.3h0M1546.6 192.8h0M1547.7 195.3h0M1549 191.8h0M1549.8 192.5h0M1550.6 193.4h0M1552.3 192.3h0M1552.6 192.6h0M1553.7 194.5h0M1554.9 194.8h0M1556 195.6h0M1557.1 194.7h0M1558 196.5h0M1558.9 199.6h0M1560.4 198.6h0M1560.9 197.3h0M1563 199.7h0M1563.5 199.4h0M1565.6 198.6h0M1567.5 198.7h0M1569.4 201.5h0M1569.4 198.6h0M1570.8 198.2h0M1571.8 203.1h0M1572.7 202.6h0M1573.6 202.4h0M1575 202.1h0M1575.6 203.3h0M1576.7 206.3h0M1577.6 204.3h0M1578.9 205.5h0M1579.8 207.3h0M1581.1 204.6h0M1581.5 202.7h0M1582.8 204.8h0M1584.3 206.4h0M1585.1 207.6h0M1586.3 207.3h0M1587.1 208.4h0M1588.3 211.3h0M1588.6 206.3h0M1589.9 213.2h0M1590.8 209.7h0M1592.2 210.4h0M1592.6 211.4h0M1593.8 210.9h0M1595.4 207.8h0M1595.9 211h0M1596.4 208.4h0M1597 208.7h0M1597.7 206h0M1598.6 212.3h0M1599.1 207.5h0M1599.6 206.4h0M1600.9 208.3h0M1602.3 210.2h0M1603 207.2h0M1604.3 207.8h0M1604.7 209.4h0M1605.2 210h0M1606.1 210.9h0M1606.4 211.5h0M1608 204.8h0M1609 207.9h0M1610.1 206.3h0M1611.2 204.1h0M1611.7 208.1h0M1612.5 205.6h0M1614 207.6h0M1614.9 204.6h0M1616.3 209.8h0M1616.8 207.8h0M1617.9 208.1h0M1618.7 209.3h0M1619.5 211.3h0M1621.1 214.3h0M1621.7 207.2h0M1621.9 212h0M1622.7 208.8h0M1623.5 214.6h0M1624.7 208.6h0M1625.9 211h0M1627 209.3h0M1628 211.5h0M1628.9 206.5h0M1629.8 205.9h0M1631 205.4h0M1632 206.5h0M1632.7 207.1h0M1634.1 213.3h0M1635.4 206.5h0M1635.7 212.1h0M1637.3 212.2h0M1637.6 211.8h0M1638.4 207.5h0M1640.3 211.6h0M1640.8 213.9h0M1642.3 205.8h0M1641.4 207.2h0M1643.1 211.1h0M1643.5 208.6h0M1644.5 207.6h0M1645.8 206.4h0M1646.7 208.7h0M1646.8 207.7h0M1647.6 207.7h0M1648.5 211h0M1650 212.2h0M1651.4 207.6h0M1650.5 209.6h0M1651.9 211.6h0M1653.2 215h0M1653.1 210.8h0M1653.9 212.8h0M1654.8 210.8h0M1655.8 213.9h0M1656.6 216.9h0M1656.8 217.3h0M1657.4 209h0M1659.2 216.1h0M1660 214.3h0M1660.5 217.3h0M1662.4 210.1h0M1662.7 209.7h0M1662.7 211.8h0M1663.7 208.6h0M1664.9 208.6h0M1665.7 211.8h0M1666.8 211h0M1668.2 216.7h0M1668.9 210.8h0M1670.1 217.8h0M1671.1 213.8h0M1672.2 213.2h0M1672.9 217.3h0M1673.9 216.9h0M1675.3 219.3h0M1676.1 215.3h0M1676.6 216.4h0M1678.4 211.5h0M1679.1 213.4h0M1679.5 219h0M1680.9 221.5h0M1682 212.8h0M1682.9 221.5h0M1682.9 216.2h0M1683.8 222h0M1684.6 219.5h0M1686.3 214.1h0M1685.7 218.7h0M1687.3 213.9h0M1688.1 213.5h0M1688.6 212.2h0M1688.8 213.8h0M1689.7 213.9h0M1689.6 212h0M1690.4 215.3h0M1692.2 216h0M1692.3 211.7h0M1692.8 216.5h0M1692.6 215.3h0M1693.9 219h0M1694.7 214.1h0M1695.3 212.6h0M1696.4 212.3h0M1697 214.8h0M1697.1 209h0M1697.7 209.6h0M1699.2 209.6h0M1699.9 208.3h0M1701.4 212.7h0M1702 212.2h0M1702.2 211.9h0M1703.1 216h0M1703.5 213.7h0M1705.1 208.6h0M1705.7 217.9h0M1706.8 218.1h0M1706.8 214.7h0M1708.4 218h0M1707.6 213.4h0M1708.9 215.9h0M1710.3 212.8h0M1710.4 213.8h0M1710.9 215.3h0M1711.5 217.6h0M1713.1 213.9h0M1713.2 222.5h0M1713.6 217.2h0M1713.6 219.5h0M1715.3 216h0M1715.4 223.9h0M1716.6 223.4h0M1716.6 221.3h0M1717.9 220.9h0M1574 197.7h0M1574 199.7h0M1574 203.1h0M1473.3 188.4h0M1473.5 191.3h0M1473.7 194.6h0M1591.5 205h0M1591 207.3h0M1591.2 210.5h0M1591.4 212.6h0M1591 214.8h0M1177.5 201.7h0M1177.6 204.9h0M1177.8 207.7h0M1177.5 210.8h0M1162.3 202.2h0M1162 204.5h0M1162.1 206.6h0M1161.9 208.9h0M1347.7 179h0M1347.8 181.4h0M1153.8 205h0M1154.2 208.1h0M1153.9 210.6h0M1154.1 213h0M1139.9 203.2h0M1139.9 205.6h0M1139.4 207.8h0M1140 209.9h0M1064.5 204.7h0M1064.6 207h0M1064.4 209h0M1064.1 211.9h0M1064.4 215.4h0M1554.5 190.9h0M1554.4 194.1h0M1554 196.1h0M1615.8 202.6h0M1615.2 205.8h0M1615.1 209.2h0M1190.6 200.8h0M1191 202.9h0M1190.8 205.2h0M1191 207.7h0M1381.9 177.2h0M1381.6 179.9h0M1470.4 188.4h0M1470.2 191.1h0M1469.9 193.4h0M1224.1 195.4h0M1223.8 198.4h0M1223.9 200.8h0M1223.6 204.1h0M1486.9 189.9h0M1487.3 192.2h0M1487.6 195.2h0M1162.9 201.7h0M1163.1 204.1h0M1162.8 207.1h0M1163.1 209.4h0M1168.6 199.6h0M1169 203.1h0M1168.3 206h0M1168.4 208.8h0M1102 201.2h0M1101.6 203.6h0M1101.9 207.1h0M1101.6 210.1h0M1102 213.6h0M1125.6 200.4h0M1126.2 202.7h0M1125.7 204.9h0M1126.3 207.4h0M1125.9 209.6h0M1081.4 198.4h0M1081.6 200.9h0M1081.7 204.4h0M1081.6 206.8h0M1081.5 209.3h0M1511.9 189.3h0M1512.3 191.4h0M1511.9 193.8h0M1696.6 205.4h0M1697.2 208.7h0M1696.8 210.7h0M1696.9 213.9h0M1697.3 216.2h0M1172 200.3h0M1171.2 203.4h0M1171.4 205.4h0M1172 208.4h0M1171.7 210.6h0M1070.9 203.5h0M1071.3 206.1h0M1071.1 208.9h0M1071.1 211h0M1071.3 213.2h0M1071.2 216.4h0M1701.9 206.2h0M1701.4 208.8h0M1701.4 212.3h0M1701.9 214.3h0M1701.7 217.8h0M1701.4 220.1h0M1292.7 184.5h0M1293.3 187.8h0M1181.8 201.2h0M1182 203.9h0M1182.3 206.4h0M1182.3 208.7h0M1470.1 188.4h0M1470.8 191.6h0M1495.6 188.9h0M1495.1 191.1h0M1495.5 193.2h0M1495.5 195.7h0M1476.6 188.5h0M1477 191.4h0M1476.8 193.7h0M1169 199.8h0M1169.6 203.1h0M1169.5 205.4h0M1169.7 208.4h0M1296.4 183.9h0M1296.5 187.3h0M1296.8 189.9h0M1174.5 200.9h0M1174.2 203.5h0M1174.3 206.5h0M1174 209.1h0M1174.2 211.3h0M1575.6 198.2h0M1575.7 200.4h0M1575.3 203.7h0M1192 201.2h0M1191.2 204.4h0M1191.6 206.4h0M1419.6 179h0M1419.7 181.2h0M1419.3 183.9h0M1210.3 196.4h0M1210.3 199.2h0M1210.2 201.6h0M1658.1 206.3h0M1658.5 208.5h0M1658.4 210.5h0M1658 212.6h0M1658.1 215.3h0M1430.9 182.4h0M1431.1 184.8h0M1431.2 187.5h0M1136.7 202h0M1137.4 205h0M1136.8 207.8h0M1381.4 177.1h0M1381 179.5h0M1212.6 196h0M1212.6 199.1h0M1212.5 201.5h0M1212.5 204.2h0M1067.7 204.1h0M1068.1 206.8h0M1068.4 210.1h0M1068 213.5h0M1615.8 202.8h0M1616.1 204.8h0M1616.2 208h0M1616.2 210.2h0M1414.5 178.6h0M1414.6 181.3h0M1296 183.9h0M1296.4 187.3h0M1296 189.9h0M1494 189.1h0M1494 191.9h0M1493.9 193.9h0M1537.1 188.7h0M1537.7 192.1h0M1537.6 195h0M1537.1 197.3h0M1406.8 179.2h0M1407.1 182.6h0M1406.5 184.7h0M1384.7 177.5h0M1384 180h0M1672 207.4h0M1672.2 209.4h0M1672.2 212.3h0M1671.7 215.4h0M1671.9 217.6h0M1407 179.2h0M1407 181.4h0M1407.2 183.9h0M1232.5 196.5h0M1232.1 199.9h0M1232.2 202.4h0M1113 200.5h0M1113.4 202.8h0M1113.2 205.6h0M1113.4 208.5h0M1697.9 205.5h0M1697.4 207.6h0M1697.4 209.9h0M1697.5 212.2h0M1575.4 198.2h0M1575.4 201.3h0M1575.3 203.4h0M1575.3 205.7h0M1182.6 201.2h0M1182.4 204.1h0M1182.6 206.7h0M1084.5 197.2h0M1084.4 200.6h0M1084.1 203.6h0M1084.6 205.9h0M1084.5 208.4h0M1424.7 179.9h0M1425.1 182.3h0M1424.3 184.9h0M1327.5 179.6h0M1327.9 181.7h0M1242.4 193h0M1242.5 195.6h0M1242.6 198.2h0M1513 189.6h0M1513.1 193.1h0M1512.6 195.1h0M1494.5 189h0M1494.4 192h0M1494.4 195.1h0M1155.3 204.8h0M1155.3 206.9h0M1154.9 210.3h0M1155.4 213.4h0M1695.2 205.7h0M1695.1 208.4h0M1695 211.3h0M1695.1 214.5h0M1695.1 217.2h0M1608.5 202.1h0M1608 204.4h0M1608 206.6h0M1608 209.4h0M1608.6 212.1h0M1633.1 202.8h0M1632.8 205.2h0M1632.8 208.1h0M1633 210.3h0M1703.2 206.5h0M1703.5 210h0M1703.8 213.2h0M1703.2 216.2h0M1646.2 204.2h0M1645.6 207.2h0M1645.7 209.9h0M1318.1 181.1h0M1317.5 183.5h0M1138.1 202.5h0M1138.5 204.7h0M1137.8 207.7h0M1138.3 211.1h0M1565.4 194.5h0M1565.8 196.8h0M1565.6 200.2h0M1701.8 206.2h0M1702.2 208.7h0M1701.6 210.8h0M1701.4 214.1h0M1701.8 216.4h0M1307.7 182.8h0M1307.4 184.9h0M1307.7 187.1h0M1420.8 179.1h0M1421.1 181.6h0M1248.4 191.9h0M1248.8 194.6h0M1248.5 197h0M1248.4 199.8h0M1241.7 193h0M1241.8 196.1h0M1242 199h0M1672.3 207.4h0M1671.8 210.3h0M1672.2 213.5h0M1672.4 215.6h0M1672.5 218.3h0M1365.5 179.8h0M1365.2 183h0M1365.4 185.6h0M1356.5 177.5h0M1356.2 180.4h0M1356.2 182.8h0M1068.3 204h0M1068.7 207.2h0M1068.3 209.7h0M1068.8 212.7h0M1527.1 189h0M1527.8 192.2h0M1527.4 194.5h0M1702.1 206.2h0M1702.1 208.5h0M1701.6 211.7h0M1702.1 215.1h0M1702.1 218.5h0M1701.6 220.6h0M1166.9 200h0M1166.6 203.3h0M1166.9 205.9h0M1469.5 188.5h0M1469.8 190.7h0M1469.5 193.8h0M1454.1 181.6h0M1453.7 184.2h0M1454.2 187h0M1699.2 205.8h0M1699.4 209.1h0M1699.8 212.6h0M1699.1 214.7h0M1699.6 216.8h0M1466.9 188.5h0M1466.6 190.7h0M1466.6 193.8h0M1484.2 189.7h0M1484.1 193.1h0M1483.6 195.1h0M1483.9 198h0M1071.4 203.4h0M1071.4 206.6h0M1072 209.3h0M1072 212.8h0M1071.6 215.9h0M1412.1 178.6h0M1412 181.2h0M1482.6 189.5h0M1481.9 192.7h0M1482.2 195.4h0M1657.1 206.3h0M1657.8 209.6h0M1657.5 212.1h0M1657.4 214.7h0M1512.1 189.4h0M1512.2 192.1h0M1512.3 195.6h0M1696.8 205.3h0M1696.6 207.5h0M1696.3 210.5h0M1696.8 213.3h0M1410.2 178.8h0M1410.8 181.2h0M1412 178.6h0M1411.7 181.7h0M1411.6 184.5h0M1667.2 206.6h0M1667.2 209.9h0M1667 213.3h0M1349.7 178.7h0M1349.7 182.1h0M1349.9 184.4h0M1361.8 179.7h0M1362.6 182h0M1281 188.5h0M1280.9 190.5h0M1280.6 192.8h0M1280.6 195.9h0M1055.1 207.8h0M1054.9 210h0M1054.9 212.6h0M1055 216h0M1054.9 218.5h0M1177.3 201.6h0M1177.8 205h0M1177.5 207.7h0M1652.7 206.1h0M1652.7 209.4h0M1652.8 212.1h0M1652.7 215h0M1652.7 217.8h0M1126.9 200.5h0M1127.1 203.3h0M1126.7 205.7h0M1127.1 208.3h0M1126.9 211.4h0M1221.3 194.8h0M1221.1 198h0M1221.4 200.9h0M1221.4 203.7h0M1574.1 197.7h0M1574 199.9h0M1573.7 203.3h0M1574.1 205.5h0M1509.2 188.2h0M1508.7 191.1h0M1508.8 193.9h0M1509 195.9h0M1362.3 179.7h0M1362.2 181.8h0M1362.3 185.3h0M1654.6 206.4h0M1654.3 209.7h0M1654.3 212.4h0M1654.5 214.8h0M1654.6 217h0M1344.2 179.2h0M1344 182.1h0M1121.8 200.3h0M1121.7 203.5h0M1121.6 205.7h0M1121.7 207.8h0M1121.3 211h0M1112 200.7h0M1112 202.8h0M1111.6 206.1h0M1111.7 209.5h0M1111.5 211.5h0M1179.6 201.7h0M1179.9 203.8h0M1179.3 206.3h0M1179.5 208.3h0M1179.6 211h0M1105.8 201.8h0M1105.6 204.5h0M1105.5 207.8h0M1198.5 204.2h0M1198.9 207.6h0M1198.6 210h0M1291.1 185.3h0M1290.7 187.8h0M1291 190h0M1603.4 203.2h0M1603.5 205.2h0M1603.5 208.7h0M1603.8 211.2h0M1556 191.2h0M1555.9 193.3h0M1555.9 196.5h0M1555.4 199.3h0M1438.4 183h0M1438.1 185.3h0M1438.5 188.3h0M1641.9 203.4h0M1642 206.2h0M1641.9 208.3h0M1641.9 211.7h0M1645.6 204h0M1644.8 207.5h0M1645.6 210.4h0M1645.1 212.9h0M1638.9 203.2h0M1639.1 206.1h0M1638.8 208.9h0M1638.7 211.5h0M1481.6 189.4h0M1481.6 192.4h0M1481.7 195.1h0M1198.7 204.3h0M1198.5 206.4h0M1198.4 209.5h0M1325.7 179.7h0M1325.3 182.3h0M1325.2 184.3h0M1380.6 177.2h0M1380.3 179.4h0M1472.1 188.4h0M1471.8 190.8h0M1472.1 194h0M1705.4 206.9h0M1705.6 209.7h0M1705.6 212.5h0M1705.4 215.6h0M1501.3 188.1h0M1501.5 190.6h0M1501.5 193h0M1501.3 196.5h0M1643.4 203.6h0M1643.6 205.8h0M1643.4 209h0M1643.8 211.4h0M1643.6 213.6h0M1391.3 178h0M1391.4 180.5h0M1585.3 202.5h0M1585.7 204.9h0M1585.9 207.9h0M1585.2 210.5h0M1585.2 212.6h0M1267.3 192h0M1266.9 194.1h0M1507.4 187.4h0M1507.3 190.1h0M1507.1 192.7h0M1090.8 198.7h0M1090.8 202.1h0M1090.4 204.5h0M1090.5 207.3h0M1091.1 209.9h0M1187.8 200.2h0M1187.7 203.6h0M1187.8 206.7h0M1188.2 210.2h0M1298.9 183.7h0M1299.1 186.6h0M1299 188.9h0M1324.9 179.8h0M1324.8 182.7h0M1252.2 191.4h0M1251.7 194.2h0M1251.7 196.7h0M1358 178.4h0M1357.9 180.8h0M1358.4 183.4h0M1266.4 192.2h0M1266.3 195.3h0M1608.9 201.9h0M1609 205.1h0M1609.3 208.1h0M1439.1 183h0M1438.5 186.3h0M1610.5 201.5h0M1611.2 204.7h0M1610.6 208.2h0M1058.1 206.7h0M1058.5 210.1h0M1058.2 212.4h0M1058 215.2h0M1178.3 201.8h0M1179 205.3h0M1178.6 208h0M1607.5 202.3h0M1607 205.8h0M1607.5 208.6h0M1607.6 211.1h0M1498.3 188.5h0M1498.1 191.5h0M1067.2 100.9h0M1074.5 103h0M1095.5 106.2h0M1104.5 110h0M1131.8 107.2h0M1144.8 110.8h0M1150.7 114.6h0M1178.4 115.6h0M1196.3 116.3h0M1232.6 120.9h0M1080.8 226.9h0M1070.3 224.2h0M1057.7 222.7h0M1105 221.6h0M1123.8 216.4h0M1151.1 219.5h0M1178.4 215.3h0M1197.3 217.4h0M1233 211.1h0M1263.4 204.8h0M1674.9 99.9h0M1696.9 98.2h0M1633.9 106.2h0M1581.5 119.8h0M1544.7 123h0M1714.8 231.1h0M1689.6 230h0M1672.8 223.7h0M1627.6 221.2h0M1590.9 217.9h0M1523.7 203.8h0M1315.7 191.9h0M1259.6 204.8h0M1568.1 125.1h0M1439.9 140.2h0M1428.7 188.5h0M1192.8 119.8h0M1188.8 211.6h0M1349.5 186h0M1104.6 114.1h0M1284.1 196.5h0M1253.4 129.5h0M1248.4 128.6h0M1550.2 117.2h0M1465.8 134.6h0M1236.7 125.6h0M1407.3 185.6h0M1071.4 218.7h0M1534.2 199.2h0M1169.7 212.2h0M1385.9 146.4h0M1345 145.6h0M1668.7 221.1h0M1262.8 129.6h0M1306.8 190.8h0M1293.3 194.4h0" stroke="#000" stroke-width="5.2" stroke-linecap="round" fill="none"/>
</g>
<path d="M1081.7 257.3v13.5M1081.7 74.6v12.6M1233.1 257.3v13.5M1233.1 74.6v12.6M1384.5 257.3v13.5M1384.5 74.6v12.6M1535.8 257.3v13.5M1535.8 74.6v12.6M1687.2 257.3v13.5M1687.2 74.6v12.6M1157.4 257.3v6.1M1157.4 74.6v6.1M1308.8 257.3v6.1M1308.8 74.6v6.1M1460.1 257.3v6.1M1460.1 74.6v6.1M1611.5 257.3v6.1M1611.5 74.6v6.1M1051.4 92.9h-13.5M1717.5 92.9h-13.5M1051.4 165.9h-13.5M1717.5 165.9h-13.5M1051.4 239h-13.5M1717.5 239h-13.5M1051.4 129.4h-6.1M1717.5 129.4h-6.1M1051.4 202.5h-6.1M1717.5 202.5h-6.1" stroke="#000" stroke-width="2.7" fill="none"/>
<rect x="1051.4" y="74.6" width="666.1" height="182.7" stroke="#000" stroke-width="2.7" fill="none"/>
<text transform="translate(1081.7 308.5) scale(1 1.09)" font-size="37.5" text-anchor="middle">-100</text>
<text transform="translate(1233.1 308.5) scale(1 1.09)" font-size="37.5" text-anchor="middle">-50</text>
<text transform="translate(1384.5 308.5) scale(1 1.09)" font-size="37.5" text-anchor="middle">0</text>
<text transform="translate(1535.8 308.5) scale(1 1.09)" font-size="37.5" text-anchor="middle">50</text>
<text transform="translate(1687.2 308.5) scale(1 1.09)" font-size="37.5" text-anchor="middle">100</text>
<text transform="translate(1018.5 104.7) scale(1 1.09)" font-size="37.5" text-anchor="end">20</text>
<text transform="translate(1018.5 177.8) scale(1 1.09)" font-size="37.5" text-anchor="end">0</text>
<text transform="translate(1018.5 250.8) scale(1 1.09)" font-size="37.5" text-anchor="end">-20</text>
<text transform="translate(1379.2 352.9) scale(1.025 1)" font-size="43" text-anchor="middle"><tspan font-style="italic">y</tspan> (μm)</text>
<text transform="translate(945.4 177.8) rotate(-90) scale(1.03 1)" font-size="43" text-anchor="middle"><tspan font-style="italic">residual</tspan> (nm)</text>
<polyline points="184.6,541.9 190.2,536.4 195.7,531.1 201.3,525.9 206.8,521 212.4,516.1 217.9,511.5 223.5,507 229,502.6 234.6,498.3 240.1,494.2 245.7,490.2 251.3,486.4 256.8,482.6 262.4,479 267.9,475.5 273.5,472.1 279,468.8 284.6,465.6 290.1,462.5 295.7,459.5 301.3,456.6 306.8,453.8 312.4,451 317.9,448.4 323.5,445.9 329,443.4 334.6,441.1 340.1,438.8 345.7,436.6 351.2,434.4 356.8,432.4 362.4,430.4 367.9,428.6 373.5,426.7 379,425 384.6,423.4 390.1,421.8 395.7,420.3 401.2,418.8 406.8,417.4 412.4,416.1 417.9,414.9 423.5,413.8 429,412.7 434.6,411.6 440.1,410.7 445.7,409.8 451.2,409 456.8,408.2 462.4,407.6 467.9,406.9 473.5,406.4 479,405.9 484.6,405.5 490.1,405.1 495.7,404.8 501.2,404.6 506.8,404.4 512.3,404.3 517.9,404.3 523.5,404.3 529,404.4 534.6,404.6 540.1,404.8 545.7,405.1 551.2,405.5 556.8,405.9 562.3,406.4 567.9,406.9 573.5,407.6 579,408.2 584.6,409 590.1,409.8 595.7,410.7 601.2,411.6 606.8,412.7 612.3,413.8 617.9,414.9 623.4,416.1 629,417.4 634.6,418.8 640.1,420.3 645.7,421.8 651.2,423.4 656.8,425 662.3,426.7 667.9,428.6 673.4,430.4 679,432.4 684.6,434.4 690.1,436.6 695.7,438.8 701.2,441.1 706.8,443.4 712.3,445.9 717.9,448.4 723.4,451 729,453.8 734.5,456.6 740.1,459.5 745.7,462.5 751.2,465.6 756.8,468.8 762.3,472.1 767.9,475.5 773.4,479 779,482.6 784.5,486.4 790.1,490.2 795.6,494.2 801.2,498.3 806.8,502.6 812.3,507 817.9,511.5 823.4,516.1 829,521 834.5,525.9 840.1,531.1 845.6,536.4 851.2,541.9" stroke="#d0a8dc" stroke-width="1.1" fill="none" transform="translate(0 -0.7)"/>
<polyline points="184.6,541.9 190.2,536.4 195.7,531.1 201.3,525.9 206.8,521 212.4,516.1 217.9,511.5 223.5,507 229,502.6 234.6,498.3 240.1,494.2 245.7,490.2 251.3,486.4 256.8,482.6 262.4,479 267.9,475.5 273.5,472.1 279,468.8 284.6,465.6 290.1,462.5 295.7,459.5 301.3,456.6 306.8,453.8 312.4,451 317.9,448.4 323.5,445.9 329,443.4 334.6,441.1 340.1,438.8 345.7,436.6 351.2,434.4 356.8,432.4 362.4,430.4 367.9,428.6 373.5,426.7 379,425 384.6,423.4 390.1,421.8 395.7,420.3 401.2,418.8 406.8,417.4 412.4,416.1 417.9,414.9 423.5,413.8 429,412.7 434.6,411.6 440.1,410.7 445.7,409.8 451.2,409 456.8,408.2 462.4,407.6 467.9,406.9 473.5,406.4 479,405.9 484.6,405.5 490.1,405.1 495.7,404.8 501.2,404.6 506.8,404.4 512.3,404.3 517.9,404.3 523.5,404.3 529,404.4 534.6,404.6 540.1,404.8 545.7,405.1 551.2,405.5 556.8,405.9 562.3,406.4 567.9,406.9 573.5,407.6 579,408.2 584.6,409 590.1,409.8 595.7,410.7 601.2,411.6 606.8,412.7 612.3,413.8 617.9,414.9 623.4,416.1 629,417.4 634.6,418.8 640.1,420.3 645.7,421.8 651.2,423.4 656.8,425 662.3,426.7 667.9,428.6 673.4,430.4 679,432.4 684.6,434.4 690.1,436.6 695.7,438.8 701.2,441.1 706.8,443.4 712.3,445.9 717.9,448.4 723.4,451 729,453.8 734.5,456.6 740.1,459.5 745.7,462.5 751.2,465.6 756.8,468.8 762.3,472.1 767.9,475.5 773.4,479 779,482.6 784.5,486.4 790.1,490.2 795.6,494.2 801.2,498.3 806.8,502.6 812.3,507 817.9,511.5 823.4,516.1 829,521 834.5,525.9 840.1,531.1 845.6,536.4 851.2,541.9" stroke="#d09878" stroke-width="1.1" fill="none"/>
<path d="M240.1 568.9v13.5M240.1 386.5v12.6M332.7 568.9v13.5M332.7 386.5v12.6M425.3 568.9v13.5M425.3 386.5v12.6M517.9 568.9v13.5M517.9 386.5v12.6M610.5 568.9v13.5M610.5 386.5v12.6M703.1 568.9v13.5M703.1 386.5v12.6M795.6 568.9v13.5M795.6 386.5v12.6M193.9 568.9v6.1M193.9 386.5v6.1M286.4 568.9v6.1M286.4 386.5v6.1M379 568.9v6.1M379 386.5v6.1M471.6 568.9v6.1M471.6 386.5v6.1M564.2 568.9v6.1M564.2 386.5v6.1M656.8 568.9v6.1M656.8 386.5v6.1M749.4 568.9v6.1M749.4 386.5v6.1M841.9 568.9v6.1M841.9 386.5v6.1M184.6 404.3h-13.5M851.2 404.3h-13.5M184.6 495.6h-13.5M851.2 495.6h-13.5M184.6 449.9h-6.1M851.2 449.9h-6.1M184.6 541.2h-6.1M851.2 541.2h-6.1" stroke="#000" stroke-width="2.7" fill="none"/>
<rect x="184.6" y="386.5" width="666.6" height="182.4" stroke="#000" stroke-width="2.7" fill="none"/>
<text transform="translate(240.1 620) scale(1 1.09)" font-size="37.5" text-anchor="middle">-150</text>
<text transform="translate(332.7 620) scale(1 1.09)" font-size="37.5" text-anchor="middle">-100</text>
<text transform="translate(425.3 620) scale(1 1.09)" font-size="37.5" text-anchor="middle">-50</text>
<text transform="translate(517.9 620) scale(1 1.09)" font-size="37.5" text-anchor="middle">0</text>
<text transform="translate(610.5 620) scale(1 1.09)" font-size="37.5" text-anchor="middle">50</text>
<text transform="translate(703.1 620) scale(1 1.09)" font-size="37.5" text-anchor="middle">100</text>
<text transform="translate(795.6 620) scale(1 1.09)" font-size="37.5" text-anchor="middle">150</text>
<text transform="translate(168.1 416.1) scale(1 1.09)" font-size="37.5" text-anchor="end">0</text>
<text transform="translate(168.1 507.4) scale(1 1.09)" font-size="37.5" text-anchor="end">-50</text>
<text transform="translate(512.2 664.3) scale(1.025 1)" font-size="43" text-anchor="middle"><tspan font-style="italic">y</tspan> (μm)</text>
<text transform="translate(79.1 470.2) rotate(-90) scale(1.03 1)" font-size="43" text-anchor="middle"><tspan font-style="italic">z</tspan> (μm)</text>
<text transform="translate(205 435.1) scale(1 1.045)" font-size="35.2">D500</text>
<path d="M1048.6 386.4V568.4M1141.2 386.4V568.4M1233.9 386.4V568.4M1326.5 386.4V568.4M1419.2 386.4V568.4M1511.8 386.4V568.4M1604.5 386.4V568.4M1697.1 386.4V568.4M1039.3 399.4H1706.4M1039.3 451.4H1706.4M1039.3 503.4H1706.4M1039.3 555.4H1706.4" stroke="#d2d2d2" stroke-width="1" stroke-dasharray="2.4 2.8" fill="none"/>
<path d="M1094.9 386.4V568.4M1187.5 386.4V568.4M1280.2 386.4V568.4M1372.8 386.4V568.4M1465.5 386.4V568.4M1558.2 386.4V568.4M1650.8 386.4V568.4M1039.3 425.4H1706.4M1039.3 477.4H1706.4M1039.3 529.4H1706.4" stroke="#8c8c8c" stroke-width="1.1" fill="none"/>
<clipPath id="cd"><rect x="1039.3" y="386.4" width="667.1" height="182"/></clipPath>
<g clip-path="url(#cd)">
<path d="M1038.3 411.3L1041.3 411.3L1044.3 411.3L1047.3 411.3L1050.3 411.3L1053.3 410.3L1056.3 406.5L1059.3 408.7L1062.3 411.7L1065.3 412.1L1068.3 411.8L1071.3 411.5L1074.3 411L1077.3 409.8L1080.3 408.7L1083.3 408.7L1086.3 410L1089.3 411.2L1092.3 412.5L1095.3 413.6L1098.3 414.5L1101.3 415.4L1104.3 416.3L1107.3 417L1110.3 417.6L1113.3 418.2L1116.3 418.5L1119.3 418.2L1122.3 417.9L1125.3 417.6L1128.3 417.6L1131.3 417.6L1134.3 417.6L1137.3 418.8L1140.3 420.1L1143.3 421.3L1146.3 422.6L1149.3 422.4L1152.3 421.9L1155.3 421.4L1158.3 420.9L1161.3 421.6L1164.3 423.1L1167.3 424.6L1170.3 425.2L1173.3 425.5L1176.3 425.8L1179.3 426.2L1182.3 427.1L1185.3 428L1188.3 428.9L1191.3 429.8L1194.3 430.7L1197.3 431.6L1200.3 432.3L1203.3 432.3L1206.3 432.3L1209.3 432.3L1212.3 433L1215.3 433.9L1218.3 434.8L1221.3 435.6L1224.3 436.2L1227.3 436.8L1230.3 437.4L1233.3 438.2L1236.3 439.1L1239.3 440L1242.3 440.9L1245.3 441.6L1248.3 442.4L1251.3 443.1L1254.3 443.9L1257.3 444.6L1260.3 445.4L1263.3 446.1L1266.3 446.7L1269.3 447.3L1272.3 447.9L1275.3 448.3L1278.3 448.6L1281.3 448.9L1284.3 449.2L1287.3 449.5L1290.3 449.8L1293.3 450.1L1296.3 451.1L1299.3 452.3L1302.3 453.5L1305.3 454.5L1308.3 455.1L1311.3 455.7L1314.3 456.3L1317.3 456.9L1320.3 457.5L1323.3 458.1L1326.3 458.7L1329.3 459.3L1332.3 459.9L1335.3 460.5L1338.3 460.4L1341.3 460.1L1344.3 459.8L1347.3 459.8L1350.3 460.7L1353.3 461.6L1356.3 462.5L1359.3 462.7L1362.3 462.9L1365.3 463.1L1368.3 462.3L1371.3 458.2L1374.3 464.3L1377.3 464.5L1380.3 464.8L1383.3 465.3L1386.3 465.9L1389.3 466.5L1392.3 466.7L1395.3 466.1L1398.3 465.5L1401.3 464.9L1404.3 464.8L1407.3 464.8L1410.3 464.8L1413.3 464.6L1416.3 464L1419.3 463.4L1422.3 462.8L1425.3 461.8L1428.3 460.6L1431.3 459.4L1434.3 458.3L1437.3 457.7L1440.3 457.1L1443.3 456.5L1446.3 455.9L1449.3 455.3L1452.3 454.7L1455.3 454L1458.3 452.8L1461.3 451.6L1464.3 450.4L1467.3 449.4L1470.3 448.5L1473.3 447.6L1476.3 446.7L1479.3 445.8L1482.3 444.9L1485.3 444L1488.3 443.1L1491.3 442.2L1494.3 441.3L1497.3 440.4L1500.3 439.5L1503.3 438.6L1506.3 437.7L1509.3 437.1L1512.3 436.5L1515.3 435.9L1518.3 435.3L1521.3 435L1524.3 434.7L1527.3 434.4L1530.3 433.4L1533.3 432.2L1536.3 431L1539.3 430.1L1542.3 429.8L1545.3 429.5L1548.3 429.2L1551.3 428.7L1554.3 428.1L1557.3 427.5L1560.3 426.9L1563.3 426.6L1566.3 426.3L1569.3 426L1572.3 425.5L1575.3 424.9L1578.3 424.3L1581.3 423.7L1584.3 423.1L1587.3 422.5L1590.3 421.9L1593.3 421.3L1596.3 420.7L1599.3 420.1L1602.3 419.5L1605.3 418.9L1608.3 418.3L1611.3 417.7L1614.3 417.1L1617.3 416.5L1620.3 415.9L1623.3 415.3L1626.3 414.7L1629.3 414.1L1632.3 413.5L1635.3 413.1L1638.3 412.8L1641.3 412.5L1644.3 412.2L1647.3 411.8L1650.3 411.4L1653.3 410.9L1656.3 410.6L1659.3 410.2L1662.3 409.9L1665.3 409.5L1668.3 409.1L1671.3 408.6L1674.3 408.2L1677.3 407.9L1680.3 407.6L1683.3 407.3L1686.3 406.9L1689.3 406.3L1692.3 405.7L1695.3 405.1L1698.3 404.1L1701.3 402.9L1704.3 401.8L1707.3 401.8L1707.3 553.3L1704.3 553.3L1701.3 551.2L1698.3 543.7L1695.3 537.9L1692.3 539.7L1689.3 541.5L1686.3 543.3L1683.3 543.1L1680.3 541.9L1677.3 540.7L1674.3 539.7L1671.3 540L1668.3 540.3L1665.3 540.6L1662.3 541.2L1659.3 542L1656.3 542.7L1653.3 543.5L1650.3 543L1647.3 541.1L1644.3 539.2L1641.3 539L1638.3 539.6L1635.3 540.2L1632.3 540.6L1629.3 539.7L1626.3 538.8L1623.3 537.9L1620.3 537.2L1617.3 536.6L1614.3 536L1611.3 535.3L1608.3 534.4L1605.3 533.5L1602.3 532.6L1599.3 532.1L1596.3 531.8L1593.3 531.5L1590.3 531.2L1587.3 530.6L1584.3 530L1581.3 529.4L1578.3 529.2L1575.3 529.2L1572.3 529.2L1569.3 528.9L1566.3 527.4L1563.3 525.9L1560.3 524.4L1557.3 523.1L1554.3 521.9L1551.3 520.7L1548.3 519.4L1545.3 517.6L1542.3 515.8L1539.3 514L1536.3 513.4L1533.3 513.4L1530.3 513.4L1527.3 513.5L1524.3 513.8L1521.3 514.1L1518.3 514.4L1515.3 513.8L1512.3 512.9L1509.3 512L1506.3 511.2L1503.3 510.6L1500.3 510L1497.3 509.4L1494.3 506.7L1491.3 503.1L1488.3 499.5L1485.3 496.6L1482.3 496.3L1479.3 496L1476.3 495.7L1473.3 497.3L1470.3 499.7L1467.3 502.1L1464.3 503.7L1461.3 502.2L1458.3 500.7L1455.3 499.2L1452.3 498.1L1449.3 497.2L1446.3 496.3L1443.3 495.4L1440.3 494.5L1437.3 493.6L1434.3 492.7L1431.3 492.6L1428.3 492.9L1425.3 493.1L1422.3 493.4L1419.3 492.9L1416.3 491.8L1413.3 490.7L1410.3 489.5L1407.3 488.3L1404.3 487.1L1401.3 486.3L1398.3 486.9L1395.3 487.5L1392.3 488.1L1389.3 488.2L1386.3 488.2L1383.3 488.2L1380.3 488.4L1377.3 489.2L1374.3 490L1371.3 498.2L1368.3 493.3L1365.3 492.2L1362.3 492.3L1359.3 492.7L1356.3 493.8L1353.3 495.3L1350.3 496.8L1347.3 498.3L1344.3 499.8L1341.3 498.7L1338.3 497.6L1335.3 496.8L1332.3 497.4L1329.3 498L1326.3 498.6L1323.3 499.2L1320.3 499.8L1317.3 500.4L1314.3 501L1311.3 501.6L1308.3 502.2L1305.3 502.8L1302.3 503.4L1299.3 504L1296.3 504.6L1293.3 505.2L1290.3 505.8L1287.3 506.4L1284.3 507L1281.3 508L1278.3 509.2L1275.3 510.4L1272.3 511.5L1269.3 512.1L1266.3 512.7L1263.3 513.3L1260.3 514.8L1257.3 516.8L1254.3 518.8L1251.3 520.8L1248.3 520.9L1245.3 519L1242.3 517.2L1239.3 517L1236.3 517.6L1233.3 518.2L1230.3 518.8L1227.3 519.4L1224.3 520L1221.3 520.6L1218.3 521.2L1215.3 521.8L1212.3 522.4L1209.3 522.9L1206.3 523.2L1203.3 523.5L1200.3 523.8L1197.3 524.8L1194.3 526.1L1191.3 527.3L1188.3 528.6L1185.3 529.2L1182.3 529.2L1179.3 529.2L1176.3 529.8L1173.3 530.7L1170.3 531.6L1167.3 532.4L1164.3 532.7L1161.3 533L1158.3 533.3L1155.3 533.6L1152.3 533.9L1149.3 534.2L1146.3 534.5L1143.3 534.8L1140.3 535.1L1137.3 535.4L1134.3 535.7L1131.3 536L1128.3 536.3L1125.3 536.5L1122.3 536.5L1119.3 536.5L1116.3 536.5L1113.3 537L1110.3 537.6L1107.3 538.2L1104.3 538.9L1101.3 540.1L1098.3 541.3L1095.3 542.5L1092.3 542.8L1089.3 542.8L1086.3 542.8L1083.3 542.7L1080.3 541.9L1077.3 541.2L1074.3 542.6L1071.3 547L1068.3 547.8L1065.3 548.5L1062.3 549.2L1059.3 549.5L1056.3 549.8L1053.3 550.1L1050.3 550L1047.3 549.7L1044.3 549.5L1041.3 549.2L1038.3 549.1ZM1043.8 475.9L1049 471.6L1051.6 475.9L1057.6 473.3L1064.5 474.1L1070.5 471L1073.1 475.9L1067.1 478.4L1064.5 482.8L1055.9 481L1050.7 486.2L1044.7 487.1L1042.9 481ZM1080 471.6L1088.6 472.4L1087.8 479.3L1081.7 481L1079.1 476.7ZM1044.7 520.7L1052.4 523.3L1061 519L1069.7 513.8L1071.4 529.3L1045.5 530.2ZM1081.4 515.5L1085.5 515.9L1084.8 529.3L1081.7 528.4ZM1089.5 518.1L1096.4 519L1097.2 530.2L1102.4 531L1099 531.9L1090.3 527.6ZM1123.1 522.1L1133.4 522.1L1133.4 524.8L1123.1 524.8ZM1149.3 501.7L1158.4 514.7L1157.6 517.2L1150.7 516.4ZM1685.8 459.1L1694.7 460.1L1695.1 478.9L1690.7 476.9L1686.8 479.9L1684.8 471ZM1698.1 438.3L1702.6 438.3L1702.6 446.2L1698.1 446.2ZM1689.7 417.6L1693.7 418L1693.7 422.5L1689.7 421.9ZM1702.4 506.6L1704.6 506.6L1704.6 518.4L1702.4 518.4Z" fill="#000" fill-rule="evenodd"/>
<path d="M1041.1 411.4h0M1045.2 409.9h0M1047 411.4h0M1049.8 411.9h0M1051.9 410.9h0M1054.4 407h0M1056.7 407.9h0M1060.8 408.7h0M1062.7 414h0M1065.6 413.3h0M1068.3 409.9h0M1070.5 409.7h0M1073.8 410.3h0M1077.2 410.5h0M1080.4 409.3h0M1084.7 409.4h0M1088.1 411.3h0M1091.4 414h0M1093.6 414.9h0M1096.8 416h0M1100.3 414.2h0M1102.6 414.9h0M1105.7 416.3h0M1109 415.9h0M1111 415.8h0M1114.2 418.5h0M1118.1 419h0M1120.1 418.3h0M1123.2 419.8h0M1126.4 417.7h0M1128.5 416.2h0M1132.1 419.5h0M1134.5 416.7h0M1138.6 418h0M1142.8 420.2h0M1145.7 420.4h0M1147.6 423.9h0M1150.4 421.4h0M1154.2 419.7h0M1158.5 419h0M1161.7 423.7h0M1165.4 424.2h0M1167.2 425.7h0M1170.2 423.3h0M1172.1 427.2h0M1175.3 427.6h0M1179.5 425.9h0M1181.5 426h0M1185 427.6h0M1187.4 429.9h0M1189.6 427.4h0M1192.5 430.8h0M1195.9 432.4h0M1199.8 433.5h0M1201.7 431.9h0M1204.9 433.5h0M1207.7 430.4h0M1211.6 431.4h0M1213.4 432.4h0M1216 435.3h0M1218.4 433.4h0M1221 434.1h0M1223.4 437.9h0M1227.2 436.9h0M1229 438.3h0M1230.8 436.6h0M1234.5 439.8h0M1236.7 437.4h0M1238.9 441.8h0M1242.6 439.6h0M1245.4 441.8h0M1248.4 441.5h0M1251.5 443.3h0M1254 442.4h0M1256.3 442.5h0M1260.3 447.3h0M1263 444.1h0M1266.5 447.9h0M1269 447.8h0M1271.8 447.9h0M1274.3 448.8h0M1276.4 446.5h0M1279.3 450.6h0M1283 449.1h0M1286.1 447.9h0M1288.9 449.7h0M1293.2 449.2h0M1296.3 449.7h0M1299.6 451h0M1302.1 455.3h0M1303.8 452.2h0M1306.3 453.3h0M1308.6 457.1h0M1310.5 454.1h0M1313 456.6h0M1316.2 455.3h0M1318.4 458.3h0M1321.7 458.4h0M1324.2 456.9h0M1327.6 458.1h0M1329.4 457.9h0M1333.6 459.3h0M1337.9 459.5h0M1341.2 459.2h0M1345.4 459.8h0M1348.3 460.3h0M1351.6 459.2h0M1355.5 460.9h0M1358 461.8h0M1360.7 461.9h0M1364.7 462.7h0M1368.9 460.9h0M1372.7 462.5h0M1375.8 465.6h0M1379.3 464.3h0M1382.9 465.3h0M1385.9 464.9h0M1388.5 466.4h0M1392.5 464.8h0M1395.5 466.7h0M1399.1 464.5h0M1401.4 466.1h0M1404.2 462.9h0M1406.8 466h0M1409.8 463.9h0M1413.1 465.9h0M1415.8 464.8h0M1417.6 463.9h0M1420.5 462.3h0M1423.3 463.2h0M1426.5 459.4h0M1429.6 461.2h0M1433.5 457.6h0M1437.7 457.3h0M1441.1 458.2h0M1445.4 458h0M1449.4 456.5h0M1452.8 454.8h0M1454.6 452.3h0M1457.5 453.7h0M1461.8 451.5h0M1465.4 449.1h0M1468.7 447.6h0M1472.4 449.8h0M1475.6 445.5h0M1479.7 446.9h0M1482.7 443.9h0M1487 443.6h0M1489 441h0M1492.7 441.4h0M1495.9 440.4h0M1499.8 439.8h0M1502.3 439h0M1505.1 438.2h0M1507.7 435.5h0M1510.1 436h0M1512 435.6h0M1515.4 434.4h0M1519 435.4h0M1523.3 433.4h0M1527.5 433h0M1531.4 431.1h0M1535 429.6h0M1538.1 430.4h0M1541.3 431.1h0M1545.6 427.6h0M1549.6 428.6h0M1553.8 426.8h0M1557.2 426.6h0M1559.4 426.6h0M1562.4 425.8h0M1564.9 424.6h0M1568.2 427.4h0M1571.9 426.8h0M1575.7 422.9h0M1577.8 422.5h0M1580.5 425.1h0M1582.2 425.4h0M1584.2 423.7h0M1586.7 420.7h0M1590.6 421.4h0M1593.1 419.9h0M1595.2 420h0M1599.1 418.7h0M1602.5 420.7h0M1606.2 418.3h0M1610 417.6h0M1614 417.3h0M1617.4 415.1h0M1621.3 414.8h0M1623.3 416.5h0M1626 414.4h0M1629.5 415.3h0M1633.8 411.9h0M1637.4 412h0M1640.1 413.9h0M1643.1 411.5h0M1646.3 411.5h0M1648.9 410.2h0M1652.6 410.1h0M1654.6 411.4h0M1658 408.5h0M1660.9 408.1h0M1663 409.9h0M1665.7 409h0M1668.6 409.6h0M1671.2 409.9h0M1675.3 406.7h0M1678.1 409h0M1680.8 405.6h0M1683 405.9h0M1684.8 407.7h0M1688.3 405.1h0M1692.3 406.3h0M1696.5 403.8h0M1699.3 402.8h0M1702.5 403.7h0M1706 400.9h0M1040.1 548.5h0M1043.7 551.3h0M1047.8 549.7h0M1051 548.1h0M1054 551.9h0M1057.8 551h0M1060.2 550.8h0M1062 549.6h0M1066.1 547.7h0M1068.9 548h0M1072.3 545.6h0M1074.7 542.5h0M1078.9 542.5h0M1083.2 543.5h0M1086.3 542.2h0M1090 541.6h0M1092.6 543.2h0M1095.9 544.2h0M1099.5 540.2h0M1102.8 540.9h0M1104.7 539.6h0M1106.8 539.7h0M1110.8 537.4h0M1114.8 536.1h0M1117 535.9h0M1119.6 534.6h0M1123.7 536.9h0M1127.7 535.2h0M1131.8 535.8h0M1136.1 537.4h0M1139.8 536h0M1143.5 536.7h0M1147.4 533.2h0M1150.8 535.9h0M1152.9 535.7h0M1156.5 531.6h0M1160.3 534h0M1163.7 533.2h0M1167.3 532.3h0M1171.3 531.7h0M1173.4 528.8h0M1176.6 531.6h0M1180.5 529.1h0M1183.5 527.3h0M1185.7 528h0M1188.5 528.9h0M1190.6 528h0M1194.7 527.8h0M1198.8 525.6h0M1203 523.5h0M1205.2 523.8h0M1207.5 525h0M1210.9 522.6h0M1214 520.9h0M1216 522.6h0M1218.8 521.5h0M1222.9 522.2h0M1226.7 519.9h0M1228.7 521h0M1230.4 518.2h0M1232.3 520.3h0M1235.3 517.2h0M1238.6 518.5h0M1242.6 517.8h0M1245.1 519.8h0M1246.8 521.9h0M1249.1 522.8h0M1253.4 520.3h0M1257.4 514.9h0M1260.5 512.8h0M1263.5 515.1h0M1267.5 513.3h0M1269.3 510.2h0M1273.3 513.1h0M1276.5 510.3h0M1279 510.8h0M1281.6 508.7h0M1284.7 508.3h0M1286.9 506.3h0M1290.9 505h0M1294.3 504.9h0M1296.8 504.9h0M1299.6 505.8h0M1301.5 502.9h0M1304.3 501.8h0M1307.8 502.7h0M1311.1 502.5h0M1313.4 499.9h0M1317 501.8h0M1319.9 501.7h0M1322.9 500.6h0M1325.6 500.1h0M1328.7 498.5h0M1330.5 498.6h0M1333.7 495.9h0M1335.6 496.6h0M1339.8 498.5h0M1342.4 500h0M1346.2 499.7h0M1350.1 496.3h0M1353.7 493.2h0M1355.9 492.8h0M1357.7 493.6h0M1361.8 491.2h0M1364.1 492.6h0M1368.2 493.9h0M1371.2 500.7h0M1374.4 488.1h0M1376.7 487.5h0M1380.4 486.5h0M1382.3 486.3h0M1385 487h0M1387.6 488.6h0M1391.6 489.1h0M1395.1 486.9h0M1399.1 487.1h0M1400.9 484.5h0M1403.4 487.1h0M1405.7 488.5h0M1409 490.8h0M1412.7 489.8h0M1414.7 492.6h0M1417.9 492.8h0M1420.6 494.8h0M1423.3 492.7h0M1426.6 494.4h0M1429 492.2h0M1431 493h0M1435.2 493.9h0M1438.8 494h0M1440.8 492.8h0M1444.9 496.3h0M1447.2 495.4h0M1450.3 497.4h0M1453.3 499.3h0M1456.8 498.7h0M1460.2 500.4h0M1463.5 502.1h0M1466.1 504h0M1468.8 499h0M1470.9 500.7h0M1474.2 498h0M1475.9 496.5h0M1477.7 494.6h0M1479.8 494.1h0M1483.4 495.2h0M1486 496.1h0M1489.7 501.1h0M1493.3 505.9h0M1496.9 510.2h0M1500.3 509.4h0M1503 511.5h0M1505.1 509.8h0M1507.2 510.8h0M1511.3 511.5h0M1514.9 515.1h0M1519.2 515.2h0M1522.7 515.9h0M1525.7 515.1h0M1528 515.3h0M1530.1 513.3h0M1532.8 513.8h0M1535.8 514.8h0M1538.8 512.5h0M1541.9 517.4h0M1545.9 516h0M1548.6 520.9h0M1550.5 519.2h0M1554 522.7h0M1557.6 522.6h0M1560.7 526.5h0M1564.5 527.9h0M1566.9 529.6h0M1570.8 530.6h0M1575 529.6h0M1579.2 528.6h0M1581.4 528.8h0M1585.7 529.6h0M1587.8 531.1h0M1591.7 530.8h0M1595.6 533.7h0M1598 530.8h0M1599.7 532.6h0M1601.9 533.9h0M1605 531.5h0M1608.5 535.4h0M1611.5 534.2h0M1615.4 536.1h0M1619 535h0M1622.9 537.1h0M1625.2 540.3h0M1628.6 538.8h0M1630.7 538.2h0M1633 541.6h0M1635.3 538.3h0M1637.3 539.7h0M1639.7 541.3h0M1641.8 537.1h0M1644.2 537.2h0M1647.6 540.6h0M1650.3 543.3h0M1654.2 545.2h0M1657.7 541.2h0M1660.6 543.1h0M1662.4 540h0M1665.2 542h0M1668.3 538.4h0M1670.9 541h0M1674.5 537.8h0M1676.4 542.2h0M1679 543.2h0M1682 541.9h0M1684.7 545.5h0M1688.3 544h0M1690.8 541h0M1694.9 537.5h0M1696.8 541.4h0M1701.1 551.1h0M1704.6 553.7h0M1056.7 403.6h0M1081.9 406.1h0M1133.3 415.1h0M1159.1 418.3h0M1249.8 433h0M1309.6 448.7h0M1159.5 542.1h0M1250.8 524.9h0M1370.5 452.9h0M1370.5 456.1h0M1370.1 459.2h0M1370.9 462.4h0M1370.5 503.3h0M1370.5 500.1h0M1369.9 497h0M1537.4 427.1h0M1662.3 406.7h0M1608.5 410.9h0M1346.5 449.1h0M1109.1 410.5h0M1242.6 435.8h0M1251 526.1h0M1580.2 536h0M1153.3 512.9h0M1053.3 482.8h0M1066.2 479.3h0M1068.8 475.9h0M1076.6 474.1h0M1083.4 476.7h0M1055.5 474.6h0M1069.5 477.4h0M1064.7 482.2h0M1063.4 483.2h0M1045.7 487.6h0M1042.7 482.2h0M1043.3 477.3h0M1052.8 523.1h0M1064.7 517.9h0M1070 522.9h0M1064.9 528.8h0M1085.6 515.9h0M1086 516.5h0M1082.2 528.7h0M1080.7 522.3h0M1082.3 528.5h0M1096.5 529.3h0M1092.9 529.6h0M1097.2 529.9h0M1134 522.4h0M1128.5 523.9h0M1124.1 523.2h0M1156.8 513.4h0M1151.9 504.1h0M1156.8 517.4h0M1149.7 503.4h0M1150.1 505.2h0M1149.1 511.4h0M1692.4 458.6h0M1695.4 463.6h0M1687.7 478.5h0M1686.3 460.7h0M1704.5 505.6h0M1705 513.7h0M1701.7 509.1h0M1701.2 507h0" stroke="#000" stroke-width="5.2" stroke-linecap="round" fill="none"/>
</g>
<path d="M1094.9 568.4v13.5M1094.9 386.4v12.6M1187.5 568.4v13.5M1187.5 386.4v12.6M1280.2 568.4v13.5M1280.2 386.4v12.6M1372.8 568.4v13.5M1372.8 386.4v12.6M1465.5 568.4v13.5M1465.5 386.4v12.6M1558.2 568.4v13.5M1558.2 386.4v12.6M1650.8 568.4v13.5M1650.8 386.4v12.6M1048.6 568.4v6.1M1048.6 386.4v6.1M1141.2 568.4v6.1M1141.2 386.4v6.1M1233.9 568.4v6.1M1233.9 386.4v6.1M1326.5 568.4v6.1M1326.5 386.4v6.1M1419.2 568.4v6.1M1419.2 386.4v6.1M1511.8 568.4v6.1M1511.8 386.4v6.1M1604.5 568.4v6.1M1604.5 386.4v6.1M1697.1 568.4v6.1M1697.1 386.4v6.1M1039.3 425.4h-13.5M1706.4 425.4h-13.5M1039.3 477.4h-13.5M1706.4 477.4h-13.5M1039.3 529.4h-13.5M1706.4 529.4h-13.5M1039.3 399.4h-6.1M1706.4 399.4h-6.1M1039.3 451.4h-6.1M1706.4 451.4h-6.1M1039.3 503.4h-6.1M1706.4 503.4h-6.1M1039.3 555.4h-6.1M1706.4 555.4h-6.1" stroke="#000" stroke-width="2.7" fill="none"/>
<rect x="1039.3" y="386.4" width="667.1" height="182" stroke="#000" stroke-width="2.7" fill="none"/>
<text transform="translate(1094.9 620) scale(1 1.09)" font-size="37.5" text-anchor="middle">-150</text>
<text transform="translate(1187.5 620) scale(1 1.09)" font-size="37.5" text-anchor="middle">-100</text>
<text transform="translate(1280.2 620) scale(1 1.09)" font-size="37.5" text-anchor="middle">-50</text>
<text transform="translate(1372.8 620) scale(1 1.09)" font-size="37.5" text-anchor="middle">0</text>
<text transform="translate(1465.5 620) scale(1 1.09)" font-size="37.5" text-anchor="middle">50</text>
<text transform="translate(1558.2 620) scale(1 1.09)" font-size="37.5" text-anchor="middle">100</text>
<text transform="translate(1650.8 620) scale(1 1.09)" font-size="37.5" text-anchor="middle">150</text>
<text transform="translate(1005.1 437.2) scale(1 1.09)" font-size="37.5" text-anchor="end">20</text>
<text transform="translate(1005.1 489.2) scale(1 1.09)" font-size="37.5" text-anchor="end">0</text>
<text transform="translate(1005.1 541.2) scale(1 1.09)" font-size="37.5" text-anchor="end">-20</text>
<text transform="translate(1368.2 665.3) scale(1.025 1)" font-size="43" text-anchor="middle"><tspan font-style="italic">y</tspan> (μm)</text>
<text transform="translate(945.4 488.3) rotate(-90) scale(1.03 1)" font-size="43" text-anchor="middle"><tspan font-style="italic">residual</tspan> (nm)</text>
<polyline points="184.6,864 190.2,858.1 195.7,852.4 201.3,847 206.8,841.7 212.4,836.5 217.9,831.6 223.5,826.7 229,822.1 234.6,817.6 240.1,813.2 245.7,808.9 251.3,804.8 256.8,800.8 262.4,797 267.9,793.2 273.5,789.6 279,786.1 284.6,782.7 290.1,779.4 295.7,776.2 301.3,773.1 306.8,770.1 312.4,767.2 317.9,764.4 323.5,761.7 329,759.1 334.6,756.5 340.1,754.1 345.7,751.8 351.2,749.5 356.8,747.3 362.4,745.2 367.9,743.2 373.5,741.3 379,739.5 384.6,737.7 390.1,736 395.7,734.4 401.2,732.9 406.8,731.4 412.4,730 417.9,728.7 423.5,727.5 429,726.3 434.6,725.2 440.1,724.2 445.7,723.3 451.2,722.4 456.8,721.6 462.4,720.9 467.9,720.2 473.5,719.6 479,719.1 484.6,718.6 490.1,718.3 495.7,717.9 501.2,717.7 506.8,717.5 512.3,717.4 517.9,717.4 523.5,717.4 529,717.5 534.6,717.7 540.1,717.9 545.7,718.3 551.2,718.6 556.8,719.1 562.3,719.6 567.9,720.2 573.5,720.9 579,721.6 584.6,722.4 590.1,723.3 595.7,724.2 601.2,725.2 606.8,726.3 612.3,727.5 617.9,728.7 623.4,730 629,731.4 634.6,732.9 640.1,734.4 645.7,736 651.2,737.7 656.8,739.5 662.3,741.3 667.9,743.2 673.4,745.2 679,747.3 684.6,749.5 690.1,751.8 695.7,754.1 701.2,756.5 706.8,759.1 712.3,761.7 717.9,764.4 723.4,767.2 729,770.1 734.5,773.1 740.1,776.2 745.7,779.4 751.2,782.7 756.8,786.1 762.3,789.6 767.9,793.2 773.4,797 779,800.8 784.5,804.8 790.1,808.9 795.6,813.2 801.2,817.6 806.8,822.1 812.3,826.7 817.9,831.6 823.4,836.5 829,841.7 834.5,847 840.1,852.4 845.6,858.1 851.2,864" stroke="#d9a528" stroke-width="1.25" fill="none"/>
<path d="M240.1 880.6v13.5M240.1 698.2v12.6M332.7 880.6v13.5M332.7 698.2v12.6M425.3 880.6v13.5M425.3 698.2v12.6M517.9 880.6v13.5M517.9 698.2v12.6M610.5 880.6v13.5M610.5 698.2v12.6M703.1 880.6v13.5M703.1 698.2v12.6M795.6 880.6v13.5M795.6 698.2v12.6M193.9 880.6v6.1M193.9 698.2v6.1M286.4 880.6v6.1M286.4 698.2v6.1M379 880.6v6.1M379 698.2v6.1M471.6 880.6v6.1M471.6 698.2v6.1M564.2 880.6v6.1M564.2 698.2v6.1M656.8 880.6v6.1M656.8 698.2v6.1M749.4 880.6v6.1M749.4 698.2v6.1M841.9 880.6v6.1M841.9 698.2v6.1M184.6 717.4h-13.5M851.2 717.4h-13.5M184.6 812.9h-13.5M851.2 812.9h-13.5M184.6 765.1h-6.1M851.2 765.1h-6.1M184.6 860.6h-6.1M851.2 860.6h-6.1" stroke="#000" stroke-width="2.7" fill="none"/>
<rect x="184.6" y="698.2" width="666.6" height="182.4" stroke="#000" stroke-width="2.7" fill="none"/>
<text transform="translate(240.1 932) scale(1 1.09)" font-size="37.5" text-anchor="middle">-300</text>
<text transform="translate(332.7 932) scale(1 1.09)" font-size="37.5" text-anchor="middle">-200</text>
<text transform="translate(425.3 932) scale(1 1.09)" font-size="37.5" text-anchor="middle">-100</text>
<text transform="translate(517.9 932) scale(1 1.09)" font-size="37.5" text-anchor="middle">0</text>
<text transform="translate(610.5 932) scale(1 1.09)" font-size="37.5" text-anchor="middle">100</text>
<text transform="translate(703.1 932) scale(1 1.09)" font-size="37.5" text-anchor="middle">200</text>
<text transform="translate(795.6 932) scale(1 1.09)" font-size="37.5" text-anchor="middle">300</text>
<text transform="translate(168.1 729.2) scale(1 1.09)" font-size="37.5" text-anchor="end">0</text>
<text transform="translate(168.1 824.7) scale(1 1.09)" font-size="37.5" text-anchor="end">-100</text>
<text transform="translate(512.2 976.9) scale(1.025 1)" font-size="43" text-anchor="middle"><tspan font-style="italic">y</tspan> (μm)</text>
<text transform="translate(79.1 782.2) rotate(-90) scale(1.03 1)" font-size="43" text-anchor="middle"><tspan font-style="italic">z</tspan> (μm)</text>
<text transform="translate(205 748) scale(1 1.045)" font-size="35.2">D1000</text>
<path d="M1051.9 698.1V880.6M1144.4 698.1V880.6M1237 698.1V880.6M1329.6 698.1V880.6M1422.2 698.1V880.6M1514.8 698.1V880.6M1607.4 698.1V880.6M1699.9 698.1V880.6M1042.6 720.9H1709.2M1042.6 766.5H1709.2M1042.6 812.2H1709.2M1042.6 857.8H1709.2" stroke="#d2d2d2" stroke-width="1" stroke-dasharray="2.4 2.8" fill="none"/>
<path d="M1098.1 698.1V880.6M1190.7 698.1V880.6M1283.3 698.1V880.6M1375.9 698.1V880.6M1468.5 698.1V880.6M1561.1 698.1V880.6M1653.7 698.1V880.6M1042.6 743.7H1709.2M1042.6 789.4H1709.2M1042.6 835H1709.2" stroke="#8c8c8c" stroke-width="1.1" fill="none"/>
<clipPath id="cf"><rect x="1042.6" y="698.1" width="666.6" height="182.5"/></clipPath>
<g clip-path="url(#cf)">
<path d="M1041.6 740.6L1044.6 740.7L1047.6 741L1050.6 741.3L1053.6 742.2L1056.6 744.2L1059.6 746.3L1062.6 748.3L1065.6 748.2L1068.6 747.9L1071.6 747.5L1074.6 747.4L1077.6 747.6L1080.6 747.8L1083.6 748.1L1086.6 744.1L1089.6 739.5L1092.6 738.5L1095.6 738.4L1098.6 738.3L1101.6 738.3L1104.6 738.2L1107.6 738.9L1110.6 739.8L1113.6 740.6L1116.6 741.3L1119.6 741.8L1122.6 742.4L1125.6 742.9L1128.6 744L1131.6 745.1L1134.6 746.2L1137.6 746.7L1140.6 746L1143.6 745.4L1146.6 744.7L1149.6 742.6L1152.6 742.4L1155.6 744.4L1158.6 746.4L1161.6 748.5L1164.6 749.4L1167.6 750.3L1170.6 750.1L1173.6 749.8L1176.6 749.4L1179.6 749.3L1182.6 749.5L1185.6 749.7L1188.6 750L1191.6 750.7L1194.6 751.6L1197.6 752.4L1200.6 753.3L1203.6 754.5L1206.6 755.6L1209.6 756.8L1212.6 757.3L1215.6 757.9L1218.6 758.4L1221.6 758.9L1224.6 759.5L1227.6 760L1230.6 760.6L1233.6 760.5L1236.6 760.5L1239.6 760.4L1242.6 760.6L1245.6 761.3L1248.6 762L1251.6 762.7L1254.6 763.4L1257.6 764.1L1260.6 764.8L1263.6 765.5L1266.6 766.3L1269.6 767.2L1272.6 768L1275.6 768.8L1278.6 769.7L1281.6 770.5L1284.6 771.3L1287.6 772.2L1290.6 773L1293.6 773.8L1296.6 774.1L1299.6 774.4L1302.6 774.6L1305.6 774.7L1308.6 774.6L1311.6 774.6L1314.6 774.5L1317.6 775L1320.6 775.5L1323.6 776.1L1326.6 776.6L1329.6 777.1L1332.6 777.7L1335.6 778.2L1338.6 779L1341.6 779.8L1344.6 780.7L1347.6 781.3L1350.6 781.5L1353.6 781.7L1356.6 782L1359.6 783.7L1362.6 782.8L1365.6 781.5L1368.6 780.1L1371.6 778.8L1374.6 777.4L1377.6 779.8L1380.6 782.4L1383.6 782.8L1386.6 782.8L1389.6 782.9L1392.6 782.8L1395.6 782.2L1398.6 781.7L1401.6 781.2L1404.6 781.1L1407.6 781.2L1410.6 781.3L1413.6 781.2L1416.6 781L1419.6 780.8L1422.6 780.5L1425.6 779.2L1428.6 777.8L1431.6 776.5L1434.6 776.8L1437.6 777.1L1440.6 777.5L1443.6 777.8L1446.6 777.3L1449.6 776.8L1452.6 776.3L1455.6 775.9L1458.6 775.6L1461.6 775.4L1464.6 775.2L1467.6 774.3L1470.6 773.4L1473.6 772.4L1476.6 772.2L1479.6 772.3L1482.6 772.4L1485.6 772.4L1488.6 771.7L1491.6 770.9L1494.6 770L1497.6 769.1L1500.6 768L1503.6 766.8L1506.6 765.7L1509.6 766.1L1512.6 766.8L1515.6 767.5L1518.6 767.7L1521.6 767.1L1524.6 766.6L1527.6 766.1L1530.6 765.3L1533.6 764.4L1536.6 763.6L1539.6 762.2L1542.6 760.1L1545.6 757.9L1548.6 757L1551.6 757.1L1554.6 757.2L1557.6 757.2L1560.6 757.4L1563.6 757.8L1566.6 758.1L1569.6 758.5L1572.6 757.5L1575.6 756.4L1578.6 755.3L1581.6 754.4L1584.6 753.8L1587.6 753.3L1590.6 752.8L1593.6 751.4L1596.6 750L1599.6 750.4L1602.6 751.2L1605.6 752L1608.6 751.5L1611.6 751.1L1614.6 748.4L1617.6 745.5L1620.6 743L1623.6 744.3L1626.6 745.5L1629.6 746.8L1632.6 748.2L1635.6 749.8L1638.6 751.4L1641.6 753.2L1644.6 755L1647.6 756.9L1650.6 757.8L1653.6 756.3L1656.6 754.9L1659.6 753.5L1662.6 751.6L1665.6 749.7L1668.6 749.8L1671.6 750.8L1674.6 751.7L1677.6 752.1L1680.6 750.4L1683.6 748.7L1686.6 746.9L1689.6 748.1L1692.6 750.4L1695.6 752.7L1698.6 751.3L1701.6 749.6L1704.6 747.9L1707.6 746.9L1707.6 860.8L1704.6 860.3L1701.6 858.7L1698.6 852.3L1695.6 845.8L1692.6 838.8L1689.6 831.9L1686.6 833.4L1683.6 834.9L1680.6 835.9L1677.6 834.5L1674.6 833.1L1671.6 832.8L1668.6 834.4L1665.6 835.9L1662.6 836.6L1659.6 836.7L1656.6 836.8L1653.6 836.8L1650.6 836.9L1647.6 836.9L1644.6 836.7L1641.6 835.8L1638.6 833.9L1635.6 827.9L1632.6 823L1629.6 827L1626.6 831.1L1623.6 830.6L1620.6 830L1617.6 829.5L1614.6 830L1611.6 831.6L1608.6 833.2L1605.6 834.7L1602.6 833.3L1599.6 831.9L1596.6 830.8L1593.6 829.7L1590.6 827.9L1587.6 819.7L1584.6 819.4L1581.6 822.5L1578.6 825.8L1575.6 829.2L1572.6 832.7L1569.6 833.2L1566.6 832.9L1563.6 832.7L1560.6 831.9L1557.6 829.7L1554.6 827.5L1551.6 825.3L1548.6 823.1L1545.6 821L1542.6 820.4L1539.6 820.4L1536.6 820.5L1533.6 820.6L1530.6 821.2L1527.6 822.4L1524.6 823.6L1521.6 822.1L1518.6 819.6L1515.6 817L1512.6 815.5L1509.6 814L1506.6 812.7L1503.6 812.5L1500.6 812.4L1497.6 812.2L1494.6 812L1491.6 811.7L1488.6 811.4L1485.6 811L1482.6 810.2L1479.6 809.4L1476.6 808.5L1473.6 807.9L1470.6 807.5L1467.6 806.7L1464.6 805.7L1461.6 804.6L1458.6 804.8L1455.6 805.5L1452.6 806.1L1449.6 806L1446.6 803.1L1443.6 800.5L1440.6 800.4L1437.6 800.2L1434.6 800.1L1431.6 800L1428.6 799.9L1425.6 800L1422.6 800.5L1419.6 800.9L1416.6 800.6L1413.6 799.9L1410.6 799.2L1407.6 798.5L1404.6 797.8L1401.6 797.2L1398.6 796.6L1395.6 796.1L1392.6 795.6L1389.6 795.4L1386.6 795.5L1383.6 795.5L1380.6 795.5L1377.6 795.1L1374.6 794.6L1371.6 795L1368.6 795.4L1365.6 795.7L1362.6 796.1L1359.6 796.4L1356.6 796.4L1353.6 796.6L1350.6 796.8L1347.6 797.1L1344.6 797.8L1341.6 799L1338.6 800.2L1335.6 801.4L1332.6 802L1329.6 801.5L1326.6 801.1L1323.6 801.5L1320.6 802.5L1317.6 803.5L1314.6 804.5L1311.6 805.5L1308.6 806L1305.6 806.3L1302.6 806.6L1299.6 806L1296.6 805.1L1293.6 804.5L1290.6 805.5L1287.6 806.5L1284.6 807.5L1281.6 808.5L1278.6 809.1L1275.6 808L1272.6 807.1L1269.6 807.3L1266.6 807.6L1263.6 807.8L1260.6 808L1257.6 808.3L1254.6 808.5L1251.6 808.8L1248.6 809.6L1245.6 810.5L1242.6 811.3L1239.6 811.8L1236.6 812L1233.6 812.2L1230.6 812.4L1227.6 812.1L1224.6 811.7L1221.6 811.3L1218.6 812L1215.6 813.5L1212.6 814.9L1209.6 816.1L1206.6 814.8L1203.6 813.5L1200.6 812.3L1197.6 812.4L1194.6 813.6L1191.6 814.7L1188.6 815.7L1185.6 815.7L1182.6 815.6L1179.6 815.5L1176.6 815.8L1173.6 816.4L1170.6 816.9L1167.6 817.4L1164.6 817.3L1161.6 817.2L1158.6 817.2L1155.6 817.8L1152.6 819L1149.6 820.1L1146.6 821.1L1143.6 821L1140.6 821L1137.6 820.9L1134.6 821.4L1131.6 822.4L1128.6 825.1L1125.6 829.6L1122.6 831.6L1119.6 830.5L1116.6 829.3L1113.6 830.6L1110.6 833.6L1107.6 832.8L1104.6 828.5L1101.6 824.2L1098.6 820L1095.6 820L1092.6 819.9L1089.6 819.4L1086.6 817.3L1083.6 815.4L1080.6 814.8L1077.6 814.1L1074.6 813.4L1071.6 814.5L1068.6 816.5L1065.6 818.5L1062.6 820.4L1059.6 820.9L1056.6 821.4L1053.6 822L1050.6 822.3L1047.6 822.6L1044.6 822.9L1041.6 823ZM1702 816L1708 817L1708 831L1703 829Z" fill="#000" fill-rule="evenodd"/>
<path d="M1044 739.3h0M1048.1 739.2h0M1051.5 742h0M1054.4 741.4h0M1058.7 747.6h0M1062 748h0M1066.2 749.4h0M1069.1 745.9h0M1071.1 746.2h0M1074.2 747.9h0M1077.6 748.8h0M1081.5 748.5h0M1085 744.7h0M1088.8 740.3h0M1091.9 737.1h0M1093.6 739h0M1095.5 738h0M1097.3 739h0M1100.5 736.4h0M1104.1 737.8h0M1107.8 739.1h0M1111.3 740.1h0M1114.7 741h0M1117.1 741h0M1120.1 741.5h0M1122.6 740.5h0M1125.5 741.5h0M1128.7 742.1h0M1131.1 744.5h0M1133.1 744.8h0M1135.7 744.8h0M1137.7 745.8h0M1139.6 745.3h0M1143 745.1h0M1146.9 744.7h0M1149.8 741.5h0M1153 742.7h0M1155.1 742.6h0M1158.6 747.7h0M1161.9 746.7h0M1164.6 748h0M1167.8 748.5h0M1170.1 749.3h0M1172.9 750.4h0M1174.8 748.2h0M1179.1 747.3h0M1181.4 749h0M1185 751.6h0M1187.6 750h0M1191.7 748.9h0M1195.7 751.5h0M1199.3 753h0M1202.7 754.2h0M1206 753.5h0M1208.4 758.2h0M1210.7 757.6h0M1215 758.4h0M1219.1 759.1h0M1222.1 757.6h0M1226.3 758.9h0M1229.7 759h0M1232.2 761.2h0M1234 759.6h0M1238.1 761h0M1242.3 759.2h0M1245.3 760.4h0M1247.4 762.3h0M1250.9 762.1h0M1253.1 762.6h0M1257.3 762.6h0M1259.5 763.1h0M1261.9 764.7h0M1263.9 764.2h0M1266.6 764.4h0M1270.8 766.6h0M1273.4 770.1h0M1277.2 767.9h0M1280.7 768.8h0M1284.9 771h0M1287.7 770.3h0M1290.5 774.9h0M1294.3 773h0M1298.3 772.4h0M1301.2 774.1h0M1305.5 773.8h0M1307.9 776.6h0M1310.8 774.2h0M1314.6 773.1h0M1318.4 773.2h0M1320.8 777.5h0M1323.4 775.1h0M1327.6 778.7h0M1331.4 776h0M1333.2 776.9h0M1335.1 777.7h0M1338.3 779h0M1341.5 779.4h0M1343.8 780.6h0M1346.5 782.4h0M1349.5 783.3h0M1353 780.3h0M1356.2 781.1h0M1358.8 783.4h0M1362.2 781.3h0M1365.3 780h0M1367.5 781.6h0M1371.5 779.9h0M1374.2 776.7h0M1377.1 779h0M1380.7 783.5h0M1384.1 784.5h0M1387.7 781.7h0M1390.2 783.8h0M1393.2 780.4h0M1397.5 780h0M1399.5 781.6h0M1403.5 779.2h0M1405.4 781.3h0M1407.7 779.3h0M1411.1 781.4h0M1413.8 779.3h0M1417.2 780.1h0M1420.8 779.3h0M1423.6 780.8h0M1426.6 779.4h0M1429.5 778h0M1432.8 776.7h0M1436.6 776.6h0M1440.4 779.3h0M1443.2 778.3h0M1446.9 777.9h0M1448.8 776.1h0M1452.6 778.2h0M1456.4 774.4h0M1458.6 773.7h0M1460.8 774.6h0M1464.6 773.3h0M1468.7 773.6h0M1471.7 771.6h0M1474.2 774.2h0M1477.2 771.3h0M1479 771.4h0M1481.9 773h0M1484.8 771.5h0M1488.8 770.7h0M1492 772.7h0M1495.2 769h0M1498 768.1h0M1500 767.8h0M1502.4 765.4h0M1506 764.5h0M1508.5 766.5h0M1512.3 765.3h0M1516.1 767.2h0M1518.1 767.4h0M1520.7 769.2h0M1524.9 765.6h0M1528 765.1h0M1531 763.8h0M1533.4 762.6h0M1535.3 764.1h0M1537.8 761.4h0M1541.5 761.5h0M1545.3 760h0M1547.7 757.6h0M1550.8 759h0M1553.8 757.2h0M1556.6 755.8h0M1559.5 756.9h0M1562.5 759.5h0M1565.1 758.1h0M1567.3 756.8h0M1571.2 758.2h0M1575 754.7h0M1577.6 756.9h0M1581.7 754.9h0M1584.6 751.9h0M1586.8 754.6h0M1589.3 754.9h0M1593.3 752.8h0M1595.6 751.7h0M1598.3 751.2h0M1600.2 749.6h0M1604.4 751.8h0M1608.2 751.7h0M1610.7 751.8h0M1613.9 749.7h0M1617.7 747.3h0M1619.6 742.7h0M1623.4 742.8h0M1626.3 747.3h0M1629.6 745.9h0M1632.9 747.5h0M1635.3 750.9h0M1639.1 752.2h0M1641.4 753.6h0M1643.5 755.6h0M1646.1 755.6h0M1648.3 757.9h0M1650.6 758.4h0M1652.6 756.9h0M1656.2 755.7h0M1659.6 753.6h0M1662.2 750.5h0M1665.1 751.2h0M1668.5 751.7h0M1671 748.7h0M1675 753.1h0M1677.4 750.9h0M1681 749.3h0M1684.6 748.7h0M1686.4 748.9h0M1689.5 748.6h0M1691.7 750.9h0M1695.1 751h0M1699.1 751.1h0M1701.9 751.4h0M1704 746.3h0M1707.3 745h0M1043.4 734.7h0M1044 737.1h0M1045.5 739.4h0M1046.1 738.8h0M1046.6 736h0M1048 739.7h0M1049.3 732.7h0M1050.1 739.8h0M1050.9 734.9h0M1052.2 736.5h0M1053 732.9h0M1054.4 738.5h0M1054.7 739.8h0M1056.3 740.7h0M1056.1 737.1h0M1056.8 742.3h0M1058 743.6h0M1059 737.8h0M1060.2 739.5h0M1061.6 741.5h0M1062.6 744.2h0M1061.8 739.3h0M1063.5 741.3h0M1063.9 738.6h0M1064.8 744.5h0M1066.2 742.8h0M1066.7 746.4h0M1068.6 745.7h0M1069 740.6h0M1069.3 745.8h0M1070.1 744.1h0M1071 742.7h0M1071.7 744.3h0M1073.1 739.1h0M1074.2 745.1h0M1075 739.7h0M1076 743h0M1075.6 742.9h0M1076.8 745.3h0M1078.3 743.5h0M1078.7 746.2h0M1080.3 744.9h0M1080.6 746.3h0M1082.2 744.6h0M1083.3 743.7h0M1083.9 740.9h0M1085 742.9h0M1085.7 741.9h0M1087.3 742.8h0M1087.9 737.3h0M1089.4 738.9h0M1090.6 736h0M1089.9 734.3h0M1091.5 732.4h0M1092 731.9h0M1092.6 729.3h0M1093.9 729.7h0M1094.9 733.5h0M1096.2 732.3h0M1097.5 735.6h0M1098.2 733.1h0M1098.7 732.4h0M1100 736.8h0M1100.6 732.7h0M1102.2 731.4h0M1103.5 733.7h0M1104 731.1h0M1105 734.5h0M1105.9 731.4h0M1107.3 735.2h0M1108 732.9h0M1108.8 736.8h0M1109.9 732.3h0M1111.2 737.5h0M1111.9 738.2h0M1113.1 737.4h0M1114.4 732.8h0M1115.5 735h0M1116.4 734.6h0M1116.8 733.6h0M1118.4 737h0M1118.9 739.9h0M1119.8 735h0M1120.7 736.5h0M1122.5 738.5h0M1122.8 740.7h0M1124.5 735.8h0M1124.7 737.4h0M1125.8 741h0M1127.5 736.3h0M1127.8 736.4h0M1129.2 740.4h0M1130.6 742.8h0M1130.8 743.2h0M1132.5 742.6h0M1132.8 744.3h0M1134.4 742.7h0M1134.9 744.4h0M1136.5 744.2h0M1137.5 739.8h0M1138.1 742.8h0M1139.5 743.8h0M1140.5 744.8h0M1141.2 739.6h0M1142.6 741.8h0M1142.7 741.4h0M1144.6 742.2h0M1145.3 740.5h0M1146.8 740.9h0M1147.9 737.7h0M1149.8 735.4h0M1151.5 740.3h0M1151.8 738.1h0M1152.9 740.2h0M1153.8 739.5h0M1154.8 737.4h0M1156.5 741.9h0M1156.9 743.6h0M1158.1 739.9h0M1158.8 740.4h0M1160.4 745.1h0M1160.9 746h0M1161.8 743.7h0M1163.5 744.5h0M1164.2 745.8h0M1165.4 744.2h0M1165.7 744.5h0M1167.1 743.7h0M1167.8 745.2h0M1169.2 747.4h0M1169.9 742.9h0M1171.9 743.6h0M1173.2 747h0M1173.7 743h0M1175.4 745.4h0M1178.1 744.5h0M1179 744.1h0M1180.2 744.3h0M1181.4 748h0M1181.8 747.4h0M1183.2 744.2h0M1185.6 747.3h0M1186.2 748.2h0M1186.8 743.1h0M1188.3 748.6h0M1189.4 747.1h0M1189.7 745.1h0M1191.6 747.2h0M1192.4 744.5h0M1193.5 744.9h0M1193.8 748h0M1195.5 749.8h0M1196.5 750.2h0M1198 745.5h0M1199.2 749.2h0M1200.3 750.6h0M1201 750.7h0M1202.3 751.5h0M1202.7 750.4h0M1204.9 753.3h0M1206.4 750.4h0M1206.8 753.3h0M1210 754.5h0M1211.1 754.3h0M1212.2 754.3h0M1213.4 752.6h0M1214 755.9h0M1216.7 752.2h0M1218.6 754.3h0M1219.4 756.2h0M1220.6 757.1h0M1222.3 756h0M1223.4 756.5h0M1223.9 756.8h0M1225.1 758.2h0M1226.2 756.9h0M1227 754.2h0M1229.5 757.6h0M1230.1 755.7h0M1232.1 757.7h0M1232.9 756.9h0M1235.7 754.5h0M1239.8 756.5h0M1240.9 757.9h0M1242.2 755.1h0M1243.2 756.5h0M1244.2 757.2h0M1246.1 758.3h0M1248 758.4h0M1249.4 760h0M1251.3 759.1h0M1253.5 761h0M1254 759.4h0M1255.6 760.9h0M1255.6 762.4h0M1256.8 761.9h0M1257.8 760.6h0M1260.5 761.9h0M1260.7 762.9h0M1264.1 763.3h0M1265.4 762h0M1266.2 762.1h0M1268.4 764.5h0M1268.8 763.5h0M1271.7 765.8h0M1272.7 763.6h0M1275.2 764.8h0M1275.9 763.7h0M1277 767.7h0M1278.2 766.6h0M1279.3 767.8h0M1282.3 769.1h0M1284.8 767.4h0M1285.7 768.9h0M1287.4 769.7h0M1289.3 768.3h0M1290.2 769h0M1290.6 768.1h0M1291.9 768.4h0M1292.9 772.3h0M1295.2 771h0M1296.3 772.7h0M1298.2 770.3h0M1299.6 771.3h0M1300.3 769.7h0M1302.6 773.1h0M1302.8 772.5h0M1305.5 771.4h0M1308.7 772.2h0M1310.7 770.4h0M1311.6 771.9h0M1312.7 770.7h0M1313.7 773.3h0M1314.7 772.9h0M1317.3 771h0M1320.9 773.2h0M1323 772.5h0M1325.1 774.4h0M1325.7 772.2h0M1329 775.4h0M1331.2 776.1h0M1332.2 773.6h0M1333.5 774.5h0M1333.7 775.7h0M1339.5 776.6h0M1343.8 778.4h0M1353.1 778h0M1401.4 779.2h0M1402.3 778.8h0M1403.1 779.5h0M1403.7 778.4h0M1405.3 779.1h0M1408.5 778.6h0M1410.1 778.7h0M1417.8 779.2h0M1419.9 778.8h0M1421.5 778.8h0M1423.4 777.9h0M1427.1 777h0M1428.2 776.9h0M1429.6 774h0M1431.1 774.2h0M1434.2 774.1h0M1434.9 773.6h0M1438 773.7h0M1440.5 773.5h0M1443.3 773.6h0M1446.4 776.2h0M1451.8 773.8h0M1455.4 774.3h0M1456.8 770.9h0M1461.6 773h0M1464.2 772.5h0M1466.1 773.2h0M1466.7 772.3h0M1467.6 772.2h0M1470.3 768.6h0M1470.7 770.5h0M1474.5 768.5h0M1477.8 769.1h0M1478.8 767.2h0M1480.5 768.6h0M1481 767.8h0M1485.3 770.3h0M1488.3 767.5h0M1488.8 767.8h0M1489.7 769.6h0M1490.6 766.4h0M1492.3 766.6h0M1492.7 767.1h0M1494.5 765.3h0M1496.5 767.5h0M1496.9 765.9h0M1500.5 765h0M1501.6 762.4h0M1503.1 763h0M1504.3 762.9h0M1505 761.5h0M1506.9 761.5h0M1509.1 760.6h0M1510.3 762.6h0M1511.5 760.7h0M1512.5 764.8h0M1513.3 763.1h0M1515 761.5h0M1516.9 762.7h0M1523.2 763.8h0M1524.4 761.5h0M1527.3 760.8h0M1527.6 761.9h0M1528.9 761.8h0M1530.2 763.2h0M1532.5 761.4h0M1534 758.2h0M1535.1 760.8h0M1536.2 759.2h0M1538 760.5h0M1539.6 759.6h0M1539.9 760.5h0M1542.2 758.6h0M1542.7 756.1h0M1544.7 754.1h0M1547 755.2h0M1547.7 754.5h0M1550.8 754.7h0M1554.2 751.9h0M1555 753.3h0M1555.8 755.9h0M1558 754.9h0M1559.4 752h0M1559.9 752.1h0M1560.8 754.1h0M1561.9 752.8h0M1562.9 755.4h0M1563.7 756.1h0M1566.6 751.1h0M1567 753.9h0M1567.7 755.6h0M1569.2 755.1h0M1571.1 755.1h0M1571.9 755h0M1573.3 752.2h0M1574 750.2h0M1575.3 753.9h0M1575.8 749.7h0M1577.5 753.1h0M1577.8 749.7h0M1579.2 752.3h0M1580.2 749.2h0M1581.6 750.7h0M1582 753h0M1584.5 750.1h0M1585.2 747.8h0M1585.8 750.4h0M1587.7 750h0M1589.3 749.6h0M1590 747.6h0M1591.3 747h0M1591.7 747.4h0M1593.8 747.7h0M1594.7 746.9h0M1596.6 745.2h0M1597.5 746.1h0M1598.3 743h0M1600.2 748.6h0M1601.6 749.1h0M1602 749.4h0M1602.9 749.6h0M1606.5 750h0M1607.3 746.7h0M1608.2 749.8h0M1609 748.3h0M1609.8 749.1h0M1611 743.4h0M1612.2 744.2h0M1612.7 745.4h0M1614.3 747.2h0M1614.6 746h0M1616.1 742.8h0M1617.5 740.9h0M1618.1 742.5h0M1619.3 740h0M1620.6 739.8h0M1620.9 736.8h0M1622.4 741.9h0M1622.7 740.9h0M1623.9 741.3h0M1625.4 741.8h0M1626.2 741.6h0M1627.4 744h0M1628.5 743.2h0M1628.8 743.4h0M1630.1 744.7h0M1631.2 743.1h0M1632.5 743.4h0M1633.5 741.3h0M1634 743.7h0M1635 745.2h0M1635.9 744.2h0M1636.8 749h0M1638 742.3h0M1638.7 744.5h0M1640.4 748.5h0M1640.7 745.7h0M1641.8 749.8h0M1643 748.3h0M1644 751.1h0M1644.7 750h0M1646 748.2h0M1647.4 753.6h0M1647.9 755.4h0M1648.7 750.1h0M1649.7 751.7h0M1650.8 750.3h0M1651.9 752h0M1653.4 755.6h0M1654 752.3h0M1655.6 749h0M1656.4 753.4h0M1657.3 749.5h0M1657.8 751.6h0M1659 751.2h0M1660.1 747.2h0M1660.7 744.5h0M1662.2 746.4h0M1663.5 746.3h0M1664.4 747.3h0M1664 743.8h0M1665.3 744.3h0M1666.1 740.9h0M1667.1 747.7h0M1668.2 743.7h0M1669.2 742.8h0M1670.5 741.5h0M1671.4 744.4h0M1672.2 747.3h0M1673.3 743.9h0M1673.9 745.7h0M1675.1 745.8h0M1675.8 749.5h0M1676.7 750.8h0M1677.9 744.7h0M1679.4 744.5h0M1680.3 744.1h0M1680.7 749h0M1682.4 743.5h0M1683.3 742.1h0M1684.5 746.2h0M1685.5 745.3h0M1686.4 742.8h0M1687.2 743.9h0M1688.6 738.7h0M1688.7 745h0M1689.3 739h0M1690 746.2h0M1691.3 746.7h0M1691.2 741.2h0M1691.8 745.7h0M1693 743.7h0M1694.4 742.7h0M1694.7 743.9h0M1695.8 744.7h0M1697.2 750.4h0M1696.6 750.3h0M1698.6 750.5h0M1699.5 745h0M1699.4 744.7h0M1700 747.3h0M1699.8 745.5h0M1700.8 748.9h0M1701.8 748.2h0M1702 743.6h0M1703.3 746.3h0M1703.6 745.9h0M1704.7 740.9h0M1704.6 740.2h0M1706 745.4h0M1706.6 745.2h0M1707.4 742.9h0M1708 741.5h0M1708.7 740.2h0M1277.7 770h0M1277.5 766.9h0M1647.8 757.5h0M1647.8 755.2h0M1647.5 752.4h0M1665.3 750.5h0M1665.6 748h0M1664.9 744.7h0M1658.4 754.6h0M1658.2 752.2h0M1658.2 749.4h0M1658.1 747.2h0M1658.6 744.3h0M1269.8 767.9h0M1269.9 765.8h0M1270.4 762.4h0M1670.1 750.8h0M1670 748.2h0M1670.1 745.2h0M1670.1 742h0M1340.5 780.1h0M1340.2 777.3h0M1354.3 782.3h0M1354.3 779.1h0M1614.2 749.8h0M1613.6 747.6h0M1613.9 745.3h0M1614.1 742.5h0M1578.4 756h0M1578.6 753.8h0M1578.3 750.5h0M1577.8 747.9h0M1267.9 767.2h0M1267.4 764.1h0M1267.2 761.6h0M1267.2 759.6h0M1184.9 750.3h0M1185.1 747.7h0M1184.5 745.6h0M1282.1 771.3h0M1282.2 767.9h0M1316.6 775.4h0M1316.4 772h0M1316 769.1h0M1319 775.9h0M1319.3 772.6h0M1277 769.8h0M1276.9 766.9h0M1104.4 738.8h0M1104.6 735.6h0M1104.7 733h0M1104.3 730.5h0M1272.1 768.5h0M1271.8 766.3h0M1272.4 763.7h0M1446.3 778.1h0M1446 775.9h0M1509.1 766.6h0M1508.6 764.2h0M1328.5 777.6h0M1328.4 774.2h0M1213.6 758.2h0M1213.8 755h0M1213.4 752.8h0M1214 750.6h0M1308.9 775.2h0M1309.1 771.8h0M1308.7 769.2h0M1118.7 742.2h0M1118.2 740.1h0M1118.7 737.1h0M1118.2 734.9h0M1653.9 757h0M1653.9 753.6h0M1653.9 750.1h0M1633.1 749h0M1633.1 746.3h0M1633.3 744h0M1632.8 740.6h0M1612.1 751.1h0M1612.9 748.2h0M1612.9 745.9h0M1612.3 743.5h0M1335.6 778.8h0M1335.9 775.7h0M1538.8 763.5h0M1538.8 760.8h0M1538.3 757.4h0M1108.6 739.8h0M1108.2 736.6h0M1108.7 734.3h0M1291.9 774h0M1292.4 771.2h0M1514.2 767.8h0M1514 764.9h0M1472.3 773.4h0M1472.6 771.1h0M1472.2 767.9h0M1591.3 753h0M1591.5 750.6h0M1591.5 748.4h0M1591.5 746.2h0M1338.5 779.6h0M1338.3 777.2h0M1338.7 774.4h0M1151 742h0M1151.1 739h0M1151.4 735.9h0M1151 733.4h0M1199.9 753.8h0M1200.3 751.1h0M1199.9 748.7h0M1150.5 742.6h0M1150.4 739.3h0M1150.7 736.2h0M1273.3 768.8h0M1273.4 765.6h0M1273 763.5h0M1461.7 776h0M1461.5 773.1h0M1461.5 770.1h0M1682.9 749.8h0M1682.3 747.4h0M1682.8 744.3h0M1682.7 742.2h0M1682.3 739.4h0M1504.6 767h0M1504.7 764.4h0M1628.6 747h0M1628.6 743.6h0M1628.9 740.3h0M1274.1 768.9h0M1274.1 765.6h0M1273.4 763.4h0M1510.6 766.9h0M1510.3 763.4h0M1510.3 760.2h0M1387.1 783.5h0M1387.1 780.9h0M1578.9 755.8h0M1578.4 752.9h0M1579 750.1h0M1578.7 747.9h0M1493.5 770.9h0M1493.5 768.1h0M1494.1 765.3h0M1513.7 767.7h0M1513.5 765h0M1513.6 762.2h0M1209.9 757.5h0M1210.1 755.4h0M1209.9 753h0M1210.3 749.7h0M1288.2 772.9h0M1288 770.1h0M1176.3 750h0M1176.7 747.2h0M1176.8 744.6h0M1176.7 741.3h0M1457.2 776.3h0M1457.2 774.2h0M1457.7 772.1h0M1457.1 769.8h0M1085.4 747h0M1085 744.6h0M1085.4 742.3h0M1085.1 740.1h0M1418.9 781.4h0M1418.8 778.4h0M1202.9 754.7h0M1202.6 751.4h0M1202.7 748.1h0M1202.4 746h0M1684.9 748.5h0M1684.7 745.3h0M1684.9 742.4h0M1621 743.6h0M1620.4 741.5h0M1620.7 738.8h0M1620.6 736.4h0M1620.2 733.1h0M1587 754h0M1587.1 751.1h0M1587 747.7h0M1499.4 768.9h0M1499.7 765.5h0M1500 762.5h0M1619 744.3h0M1619.1 741.3h0M1619.5 739h0M1619.3 735.5h0M1323.4 776.6h0M1323.2 773.2h0M1072.6 748h0M1072.4 744.9h0M1072.9 741.5h0M1072.3 738.5h0M1604.9 752.4h0M1604.9 750.3h0M1605.5 747.4h0M1604.8 745.1h0M1215.9 758.6h0M1216 755.3h0M1215.9 752.7h0M1345.4 781.4h0M1344.8 778.3h0M1375.6 778.4h0M1375.4 775.4h0M1576.6 756.5h0M1576.6 753.2h0M1577 750.2h0M1230 761.1h0M1230.5 758.7h0M1230.4 755.4h0M1119.1 742.3h0M1118.7 739.1h0M1118.6 736.1h0M1337.2 779.3h0M1337.3 775.8h0M1051.5 742h0M1051.7 738.6h0M1051.7 736h0M1051.8 733.9h0M1051.4 731.1h0M1198.7 753.4h0M1198.7 750.3h0M1199.1 747.7h0M1125.6 743.5h0M1125.4 741.3h0M1125.3 738.3h0M1125.3 735.7h0M1125.7 732.7h0M1332.9 778.3h0M1333.4 775.4h0M1333.2 773.1h0M1482.2 773h0M1481.8 769.6h0M1482 766.9h0M1288.7 773.1h0M1288.7 769.7h0M1288.9 766.3h0M1120.3 742.6h0M1120 739.4h0M1120.5 736h0M1120.6 733.1h0M1327.8 777.3h0M1327.6 775.2h0M1313.1 775.1h0M1313.1 771.7h0M1312.8 768.5h0M1239.4 761h0M1239.6 758.2h0M1239.5 755.8h0M1405 781.8h0M1405.1 778.5h0M1516.2 768.2h0M1516.2 765.3h0M1516.2 762h0M1453 776.8h0M1452.5 774.5h0M1452.4 772.3h0M1244.4 761.6h0M1244.2 758.3h0M1244.5 755.6h0M1382.8 783.4h0M1383.1 781.3h0M1382.7 777.9h0M1567 758.8h0M1566.9 755.6h0M1566.5 753.5h0M1566.8 750.1h0M1509.4 766.7h0M1509.5 763.5h0M1509.2 761.2h0M1237.3 761.1h0M1236.9 758.5h0M1236.8 755.8h0M1160.1 748.1h0M1159.9 744.9h0M1160.3 742.1h0M1605.1 752.5h0M1605.6 750.1h0M1605.4 746.7h0M1605.1 743.8h0M1605.6 741.6h0M1248 762.5h0M1247.6 759.1h0M1144.2 745.9h0M1144.4 742.5h0M1144 740.4h0M1144.4 738.1h0M1309.4 775.2h0M1309 771.9h0M1309 769h0M1245.7 762h0M1246.1 759.3h0M1246.3 757.1h0M1316.1 775.4h0M1316.1 772.3h0M1094.8 739h0M1095.2 735.7h0M1095.2 732.6h0M1095.3 729.2h0M1131.4 745.5h0M1131.5 742.7h0M1131.5 739.5h0M1131.4 737.1h0M1705.8 747.5h0M1706.1 745h0M1705.8 742.9h0M1706.2 740.2h0M1419.7 781.3h0M1420.2 778.6h0M1419.5 776.1h0M1124.1 743.3h0M1124.4 741.3h0M1124.1 739.2h0M1045.6 741.4h0M1045.6 738.8h0M1045.6 736.1h0M1045 733h0M1518.2 768.4h0M1518.1 766.3h0M1517.8 762.9h0M1657.1 755.3h0M1656.9 752.9h0M1656.7 750h0M1656.7 747.1h0M1531.9 765.5h0M1532.2 762.9h0M1531.8 760.5h0M1532.5 757.1h0M1498.1 769.4h0M1498.4 766.6h0M1498.2 764h0M1442.1 778.2h0M1442 776.2h0M1442.7 773.4h0M1358.2 783.5h0M1358.4 781.3h0M1149.2 743.4h0M1149.3 741.4h0M1149 738.8h0M1149.7 735.6h0M1391.7 783.6h0M1391.3 780.8h0M1391.7 777.9h0M1193.3 751.9h0M1193.9 749.3h0M1193.6 746.7h0M1083.7 748.7h0M1083.9 745.3h0M1084.3 742.5h0M1083.8 740.2h0M1482.6 773h0M1482.3 770.8h0M1482.7 767.8h0M1146.2 745.4h0M1146.1 742.4h0M1146.2 740.2h0M1146.4 736.8h0M1204.6 755.3h0M1204.5 753.2h0M1204.6 751h0M1071.3 748.1h0M1071.1 745.1h0M1071.7 743.1h0M1071.3 739.8h0M1071.9 737h0M1468.7 774.6h0M1468.7 772.6h0M1468 769.7h0M1381.2 783.3h0M1381.1 780.5h0M1491.2 771.5h0M1491.6 768.9h0M1491.8 766.3h0M1250.6 763.1h0M1250.2 759.8h0M1250.4 756.5h0M1388 783.5h0M1387.9 780.4h0M1614.2 749.6h0M1613.9 746.9h0M1614 744.1h0M1613.9 740.9h0M1641.9 753.8h0M1641.4 751.8h0M1641.5 749.4h0M1642 746.9h0M1250.6 763.2h0M1251.3 761h0M1250.6 757.5h0M1596.1 751h0M1595.9 748.5h0M1596.2 745.5h0M1595.9 742.6h0M1292.7 774.2h0M1293.1 770.7h0M1293.2 768.3h0M1694.9 752.6h0M1694.6 749.7h0M1695.1 747.6h0M1694.8 744.8h0M1330.8 777.9h0M1330.7 774.9h0M1635.2 750.2h0M1634.9 747.7h0M1635.5 745h0M1635.2 742.7h0M1635.4 739.4h0M1319.7 776h0M1319.8 773.7h0M1320 771.1h0M1415.4 781.7h0M1415.2 778.8h0M1415.6 775.6h0M1412.5 781.9h0M1412.9 778.6h0M1412.7 776.3h0M1614.1 749.4h0M1614.4 746.2h0M1614.3 744.2h0M1613.8 741.6h0M1614.5 739.6h0M1062.2 748.7h0M1062 746.7h0M1062.4 743.7h0M1062.3 741.1h0M1411.9 781.9h0M1412.4 779.2h0M1186.7 750.4h0M1187.2 748.4h0M1186.7 746.1h0M1148.1 744.1h0M1148.8 741.7h0M1148.7 738.3h0M1148 736.2h0M1510.2 766.9h0M1510.8 764.6h0M1510.5 761.9h0M1623.8 745.1h0M1624.1 741.6h0M1624.5 739.6h0M1624.5 737.2h0M1502.4 767.8h0M1502.8 765.8h0M1502.5 763.6h0M1155.6 745.1h0M1155.9 742.7h0M1156.1 740.2h0M1155.4 737.6h0M1321.9 776.4h0M1321.8 773.7h0M1221.4 759.6h0M1222 757.6h0M1221.5 754.4h0M1221.8 752.2h0M1221.4 750.1h0M1369.4 780.4h0M1369.5 778.2h0M1333.3 778.4h0M1333.7 775.9h0M1362.4 783.5h0M1362.3 781.5h0M1362.2 779.3h0M1551.6 757.7h0M1551.9 754.5h0M1534.6 764.7h0M1535.3 761.3h0M1283 771.4h0M1282.7 768.4h0M1282.8 765.6h0M1222.8 759.8h0M1222.9 756.6h0M1222.7 753.1h0M1042.9 824.9h0M1045.5 824.2h0M1048.8 821.3h0M1052.8 821.5h0M1056.5 819.6h0M1060.2 820.2h0M1062.5 820.8h0M1066.1 820.1h0M1069.7 813.8h0M1072.4 812h0M1075.5 812.4h0M1079.6 815h0M1083.1 815.2h0M1086 817.8h0M1087.8 818.6h0M1091.7 818.7h0M1094.1 819.3h0M1096.3 820.4h0M1098.4 818.8h0M1101 824.3h0M1102.8 825.3h0M1105.7 831.5h0M1109.9 835.2h0M1113.9 828.4h0M1116.6 829.6h0M1119.3 831.7h0M1122.8 832.1h0M1127.2 827.1h0M1129.5 821.9h0M1133.8 821.1h0M1138.1 819.7h0M1141.9 822.4h0M1144.1 819.1h0M1145.9 819.2h0M1149 822.2h0M1151.8 820.7h0M1154.4 818.7h0M1157.3 817.6h0M1160.1 816.6h0M1163 819.2h0M1166.1 818.7h0M1168.6 816.7h0M1171.7 815.5h0M1175 814.9h0M1179.3 815.9h0M1181.8 816h0M1184.3 817.5h0M1187.3 816.6h0M1191.2 816.3h0M1193.7 813.8h0M1196.3 812.4h0M1200.2 812h0M1202.9 815.1h0M1206.6 815.2h0M1210.8 816.2h0M1215 815.2h0M1217.7 813.4h0M1221.2 812.7h0M1223.1 810.9h0M1224.9 811.1h0M1226.7 810h0M1230 812.7h0M1233.8 812.6h0M1235.7 814h0M1239.9 809.9h0M1243.2 809.2h0M1246.2 810.2h0M1249.5 808.8h0M1253.1 808h0M1256.3 808.3h0M1259.6 808h0M1261.9 809.8h0M1264.2 808.7h0M1266.5 808h0M1269.2 809.3h0M1273.3 805.3h0M1276.1 809.6h0M1279.2 808.7h0M1282.8 809.5h0M1286.2 806.4h0M1288.3 806.7h0M1292.3 806.3h0M1294.8 806.6h0M1297.7 806.8h0M1301.1 807.8h0M1303.4 804.7h0M1306.5 805.6h0M1310.2 804.7h0M1313.7 806.7h0M1317 801.8h0M1319 804.9h0M1323 801.6h0M1326.9 799.9h0M1330.3 802.5h0M1332.5 803.8h0M1336.3 802.5h0M1339.1 798.8h0M1342.3 797.6h0M1344.8 796.6h0M1347.4 798.5h0M1351 797.7h0M1354.5 797.9h0M1358.5 796.6h0M1361.7 797.4h0M1365.5 794.1h0M1369.4 793.5h0M1371.6 794.5h0M1374 795.7h0M1376 795.3h0M1377.9 796.6h0M1381.4 794.5h0M1384.4 797.6h0M1387.6 793.8h0M1390.6 797.1h0M1392.9 795.4h0M1395.7 794.6h0M1399.1 795.5h0M1400.9 795.8h0M1404.4 795.9h0M1407.7 800.4h0M1409.6 798.9h0M1412.4 799.5h0M1415.8 800.8h0M1420 801.3h0M1423.2 800.8h0M1426.7 801.3h0M1429.3 800.8h0M1431.5 801.4h0M1433.8 802h0M1437.4 799.6h0M1441.1 800.8h0M1445 802.4h0M1447.9 803.1h0M1451.6 808.3h0M1455.6 804.9h0M1459.1 805.1h0M1463.4 805.2h0M1466.7 806.8h0M1469.6 808.7h0M1471.4 808h0M1475.1 809.1h0M1477.1 808.1h0M1480 807.6h0M1484.1 812.5h0M1486.3 809.9h0M1488.6 812.8h0M1491.4 813.6h0M1495.1 810.8h0M1497.9 811.6h0M1502 813.9h0M1505.6 812.6h0M1507.4 812.4h0M1509.9 813h0M1513.7 814.8h0M1516.5 819.2h0M1519.3 821.1h0M1521.5 820.8h0M1524.8 821.6h0M1527.3 821.3h0M1531.4 822.8h0M1535.3 822.4h0M1539.5 822.3h0M1543.4 819.1h0M1545.6 819h0M1547.5 823.7h0M1550.4 824.9h0M1553.4 827.5h0M1556.7 830.9h0M1558.7 831.9h0M1560.6 830h0M1562.8 833h0M1565.9 831.7h0M1567.9 833.4h0M1569.9 835.1h0M1572.3 832.5h0M1576.5 829.2h0M1578.7 827.1h0M1582.1 821.9h0M1585.6 819.8h0M1588.6 824.3h0M1590.8 830.4h0M1593.9 831.7h0M1598.2 829.4h0M1600.6 831.2h0M1602.5 833.2h0M1606 832.6h0M1610.2 833.7h0M1612.4 831.1h0M1615.9 828.2h0M1620 831.8h0M1622.7 829.2h0M1626.6 830.5h0M1629.8 826.7h0M1632.8 821.5h0M1635.6 827.8h0M1639.7 833.3h0M1643 835.6h0M1645.9 838.4h0M1649.4 835h0M1651.4 836.8h0M1653.8 837.7h0M1657 837.1h0M1661 838.1h0M1663.8 835.4h0M1667.8 832.9h0M1670.9 834.6h0M1673.9 832.7h0M1676.1 834.2h0M1679 834.6h0M1682.1 834.5h0M1685.8 835.7h0M1688.5 831.2h0M1690.8 836h0M1693.8 841.4h0M1697.2 850.7h0M1699.9 855h0M1702.9 859.9h0M1706 862h0M1707.9 861.2h0M1043.1 827.4h0M1044.2 830.7h0M1045.3 828.7h0M1046.4 826.9h0M1046.9 826h0M1048.6 827.1h0M1049.2 825.8h0M1049.7 829.1h0M1050.7 827.3h0M1052.1 825.7h0M1053.4 828.2h0M1054.4 823.5h0M1055.3 829.9h0M1056.4 827.9h0M1057.1 829.1h0M1057.3 827.7h0M1057.6 824.4h0M1058.8 825.7h0M1060.2 824.6h0M1060.8 823.3h0M1062.1 825.3h0M1063.3 823.2h0M1063.1 824.3h0M1063.8 824.4h0M1064.6 826.3h0M1066.3 825.4h0M1066.9 821.5h0M1066.7 820.4h0M1068.1 823h0M1068.9 820.7h0M1070 818.2h0M1071.6 824h0M1070.8 823.5h0M1072.6 817.6h0M1073 815.6h0M1073.5 815.3h0M1074.3 814.8h0M1075.1 815.6h0M1075.1 814.9h0M1076.2 819.7h0M1076.9 818.9h0M1077.8 820.7h0M1078.5 822.4h0M1079.4 817.6h0M1079.9 817.9h0M1080.8 819.7h0M1082.2 821.2h0M1082.1 816.8h0M1083.5 823.5h0M1084.5 822.6h0M1085.2 821.9h0M1085.8 820.7h0M1086.6 822.5h0M1088.5 822.8h0M1089.2 820.9h0M1089.6 827.2h0M1090.6 823.7h0M1092.4 822.3h0M1092.9 827.7h0M1094.1 825.7h0M1095 827.1h0M1096.2 821.7h0M1096.2 825.1h0M1097.5 826.8h0M1097.8 825.5h0M1099.1 823h0M1100.1 824h0M1101.4 827.6h0M1102.1 831.4h0M1102.8 834.2h0M1104.4 834.4h0M1105.3 832.4h0M1106 833.5h0M1107 833.6h0M1108 835.3h0M1109.5 835.4h0M1109.9 837.3h0M1110.8 838.4h0M1112.1 835.9h0M1113.3 838.7h0M1113.8 836.5h0M1114.8 831h0M1116.5 831.6h0M1116.9 832.2h0M1118 833.1h0M1119.2 834.5h0M1120.3 835.8h0M1120.7 834.6h0M1121.9 832.8h0M1123 833.8h0M1123.8 838h0M1124.7 833.9h0M1126.1 834.6h0M1126.8 830.4h0M1128.4 832.3h0M1129.1 833.1h0M1129.7 828.9h0M1131.3 830.3h0M1132.5 825.7h0M1133 824.3h0M1133.8 824.1h0M1134.7 824.9h0M1135.9 825.3h0M1137.1 822.4h0M1138.1 822.4h0M1139.4 824.2h0M1139.9 823.4h0M1141 825.6h0M1141.9 826h0M1143.9 824.2h0M1145.7 826.4h0M1146.6 822.9h0M1147.9 823.1h0M1149 822.3h0M1150.1 822.9h0M1151.9 825.8h0M1153.5 821.7h0M1154.4 821.6h0M1154.7 820.1h0M1155.7 822.8h0M1157.2 819.3h0M1157.9 819.2h0M1159.8 819.8h0M1163.1 819.3h0M1164 821.7h0M1165.1 820.2h0M1165.9 820.5h0M1166.6 823h0M1167.7 820h0M1169.3 820.4h0M1169.6 822.6h0M1171.3 819.5h0M1172.5 819.2h0M1172.8 818.5h0M1174.2 822.4h0M1174.8 822.3h0M1177 822.3h0M1177.9 817.9h0M1179 819.5h0M1180.5 819h0M1181.2 820.3h0M1181.7 817.5h0M1184.2 818.6h0M1185 820h0M1185.8 818.1h0M1187.5 820.8h0M1189.9 820h0M1191.1 819.5h0M1192.4 817.2h0M1192.7 816.4h0M1193.9 817.3h0M1195.9 817.4h0M1197.6 816h0M1199.4 815.1h0M1200.7 813.7h0M1203.2 817.3h0M1203.8 816.4h0M1206.9 818.5h0M1208.1 817.6h0M1208.9 822.4h0M1211.7 819.8h0M1213.1 821.4h0M1214.2 816.7h0M1214.6 816.4h0M1216.5 817h0M1217.9 815.8h0M1219 817.3h0M1219.8 812.9h0M1222.6 813.6h0M1226.4 814.2h0M1229 815.1h0M1230.7 814.6h0M1232.4 813.7h0M1232.8 813.6h0M1236.5 814.1h0M1238.3 813.1h0M1242 815.8h0M1244.2 812.8h0M1245 816.3h0M1247.2 814.2h0M1248.6 812h0M1250.5 814h0M1254.5 811.6h0M1254.7 814.2h0M1257.7 811.2h0M1259.5 813.5h0M1259.7 809.9h0M1262.6 809.8h0M1263.9 811.5h0M1265.3 810.8h0M1266.3 810.2h0M1267.4 810.1h0M1267.6 809.3h0M1271.4 810.2h0M1271.9 809.5h0M1272.9 811.3h0M1274.4 811.3h0M1275.6 810.7h0M1276.9 812.7h0M1278.8 811.4h0M1280.5 814.1h0M1281.2 811.8h0M1282.1 811.5h0M1283 810.9h0M1284.5 809.5h0M1285.4 810.5h0M1288.2 808.6h0M1289.3 808.3h0M1293.4 806.6h0M1295.3 807.8h0M1299.8 808.4h0M1301.3 810h0M1302.9 810h0M1305.9 808.8h0M1307.6 809.7h0M1309.3 810.4h0M1311.8 807.7h0M1317 806.6h0M1318.9 806.3h0M1320.5 805.9h0M1322.4 804.1h0M1324.4 803h0M1327.5 802.6h0M1329 804.2h0M1330.3 803.1h0M1331.4 803h0M1335.9 802.8h0M1339.4 802.7h0M1345.4 799.4h0M1345.8 799.7h0M1349.4 798.8h0M1352.1 798.5h0M1399.2 798.5h0M1408.1 800.6h0M1411.4 800.8h0M1412.2 800.8h0M1413.8 802.2h0M1418.7 804.1h0M1421.7 802.1h0M1424 801.8h0M1427.4 802.8h0M1430.9 802.1h0M1433.2 801.6h0M1433.9 802.1h0M1437.6 802.9h0M1438.6 803.5h0M1441 804.2h0M1442.1 803.7h0M1443.5 801.7h0M1447.2 805.8h0M1451.3 809.5h0M1455.1 807.5h0M1456.7 808.6h0M1460.4 805.9h0M1465.1 807.6h0M1466.4 808.4h0M1468.1 810.2h0M1469.9 808.9h0M1472.1 809h0M1473.5 812h0M1476.2 811.4h0M1478.2 811.7h0M1478.8 812.7h0M1480.2 811.2h0M1480.8 813.1h0M1481.7 813.5h0M1484.4 813.8h0M1485.7 812.8h0M1488.4 812.7h0M1489.4 813.5h0M1490.3 815h0M1490.9 814.4h0M1491.8 813.1h0M1492.7 815.5h0M1494.1 813.4h0M1496.2 817.4h0M1498.6 816.1h0M1499.1 815.1h0M1500 816.3h0M1501.5 815.5h0M1502.3 815.3h0M1502.9 815.7h0M1505.6 817.3h0M1507.8 815.7h0M1509.2 818.7h0M1510.4 816.9h0M1512.9 817.2h0M1514.2 818.9h0M1516.3 820.9h0M1517.6 821.7h0M1517.6 822.5h0M1519.4 823h0M1521.5 823.3h0M1522.5 824h0M1525.5 825.2h0M1526.3 824.7h0M1526.7 825.7h0M1528.2 826.5h0M1528.9 827.1h0M1530.3 823.2h0M1531.1 826.1h0M1532.6 827.3h0M1533.1 824.7h0M1533.7 823.8h0M1535 823.9h0M1535.6 826.6h0M1537.3 824.7h0M1537.6 824.4h0M1539.3 823.5h0M1540.3 824.8h0M1541.6 824.8h0M1541.8 822.7h0M1544.1 824.1h0M1546 825.1h0M1550.5 829.5h0M1551.4 828.5h0M1552.2 827.4h0M1552.7 831.9h0M1554.7 832h0M1555.8 830.4h0M1557 831.9h0M1558.1 834.8h0M1559 833.8h0M1560.8 835.3h0M1562 835.4h0M1563.2 836.6h0M1564.2 838h0M1565.1 837.6h0M1565.8 837.9h0M1567 834.6h0M1568 839.1h0M1569.4 837.6h0M1570.7 839.8h0M1572.4 837.4h0M1572.8 834.4h0M1574.3 838.3h0M1574.8 835.3h0M1576.5 834.3h0M1577.3 834.1h0M1579.5 827.6h0M1580.2 826.4h0M1581 828.8h0M1582.5 827.4h0M1583.8 823.7h0M1585.2 822.9h0M1586.1 822.2h0M1587 819.1h0M1588.4 825.4h0M1589 828.3h0M1590 830.1h0M1591.2 832h0M1592.2 832.3h0M1593.5 831.1h0M1594.2 833.4h0M1594.8 833.8h0M1596.1 835.3h0M1597.2 834.3h0M1598.2 833.3h0M1599.5 835.8h0M1600 837.8h0M1601.2 835.3h0M1601.9 834.2h0M1603.5 836.3h0M1605.8 840.3h0M1606.9 840.1h0M1608.2 837.9h0M1609 837.3h0M1609.9 835.4h0M1611.1 834.1h0M1611.8 832.8h0M1612.8 832.6h0M1613.8 833.8h0M1614.8 836.9h0M1615.7 833.1h0M1616.9 836h0M1618.1 832.4h0M1618.6 834.2h0M1619.7 835.9h0M1620.7 832.2h0M1622.4 835.1h0M1623.4 832.2h0M1623.9 832.6h0M1625.4 837.2h0M1626.4 836.1h0M1626.7 839.2h0M1628.4 832h0M1629.5 829.6h0M1629.7 831.4h0M1630.6 830.2h0M1632 832.2h0M1633 827.5h0M1634.3 827.6h0M1634.7 834.7h0M1636 835.2h0M1637.6 837.8h0M1638.2 833.4h0M1639.3 837.2h0M1640.2 838.3h0M1641.5 838.7h0M1642.5 837.8h0M1643.5 841.5h0M1644.2 838.4h0M1645.3 841.2h0M1645.6 842.1h0M1645.9 839.8h0M1647 839.6h0M1647 840.3h0M1647.9 839.1h0M1649.3 838.5h0M1650.1 840.7h0M1651.3 842.3h0M1652.4 843h0M1653.3 845.4h0M1654.4 839.5h0M1654.9 842.7h0M1656.5 838.7h0M1656.9 844.1h0M1658.1 843h0M1659.6 840.3h0M1658.8 842.6h0M1660.1 843.7h0M1661.1 839.2h0M1662.5 839.7h0M1663.3 843.6h0M1663.7 845.6h0M1665.2 843h0M1666.4 841.6h0M1666.2 844.4h0M1667 843.5h0M1668 837.7h0M1669.1 840.2h0M1669.6 839.7h0M1671.5 835.1h0M1672.5 838h0M1672.3 839.6h0M1672.7 834.7h0M1673.3 833.7h0M1674.4 836.5h0M1674.8 839.8h0M1676.5 836.2h0M1676.7 835.5h0M1678.2 840.3h0M1679.4 840.9h0M1679.9 839h0M1681.3 840.6h0M1682.6 841.4h0M1682.8 842.5h0M1683.8 837.7h0M1684.7 838.5h0M1685.9 842h0M1685.7 841.5h0M1686.6 836.9h0M1687.1 839.4h0M1688.3 838.1h0M1688 837h0M1688.7 841.3h0M1690.2 834.8h0M1691.5 835.9h0M1692.1 842h0M1693.1 840.6h0M1694.5 842.9h0M1694.7 851.1h0M1696.5 853h0M1696.7 855.2h0M1697.7 854h0M1698.9 859.7h0M1699.7 862.8h0M1700.9 860.2h0M1702.4 868.4h0M1701.7 861.9h0M1703.3 861.5h0M1703.3 868.2h0M1704 869.2h0M1704.6 862.1h0M1705 866.3h0M1706.4 865.1h0M1707.1 869.9h0M1707.8 868h0M1708.5 866.7h0M1709.1 863.7h0M1164.7 816.7h0M1165.5 818.9h0M1165 821.3h0M1164.8 823.5h0M1572.9 831.7h0M1572.8 834.9h0M1506 812.1h0M1506.3 815.1h0M1506.5 817.1h0M1284.5 806.8h0M1284.4 809.7h0M1284.9 812.8h0M1471.2 807h0M1471.5 809.7h0M1471.2 812.7h0M1416.3 799.9h0M1416.8 802.7h0M1649.1 836.3h0M1648.8 838.6h0M1649 841.4h0M1649.4 844.2h0M1648.9 847h0M1157.1 816.7h0M1157.2 818.7h0M1156.9 821.3h0M1157.1 824.5h0M1157.9 816.5h0M1157.6 819.8h0M1157.3 823.3h0M1158 826.5h0M1083.4 814.8h0M1083.9 817.6h0M1083.8 820.4h0M1433.5 799.5h0M1433.9 802.5h0M1656.9 836.1h0M1656.4 839.4h0M1656.6 841.5h0M1656.9 844.7h0M1656.7 848h0M1634.7 826.2h0M1635 828.2h0M1634.8 830.7h0M1635.3 832.9h0M1557.1 828.6h0M1556.6 830.8h0M1556.7 833.7h0M1557.1 836.2h0M1612.1 830.8h0M1612.1 833.6h0M1611.7 836h0M1612.1 838.2h0M1470.3 806.8h0M1470.1 809h0M1470.2 812.1h0M1095.9 819.4h0M1096.3 822.4h0M1096.6 824.7h0M1096.2 827.4h0M1543.5 819.7h0M1543.3 822.8h0M1543.9 825.4h0M1117.4 828.9h0M1117.4 831.4h0M1117.5 834.2h0M1117.3 837.7h0M1295.9 804.4h0M1296.4 806.7h0M1340.4 799h0M1340.4 801.1h0M1470.9 807h0M1471.1 809.3h0M1470.8 811.9h0M1471.3 814.7h0M1706 860h0M1705.9 862.2h0M1706.4 864.4h0M1706.2 867.6h0M1706.6 870.2h0M1252.1 808.1h0M1252 811.5h0M1557.4 828.8h0M1557.5 832.1h0M1557 834.5h0M1557.5 836.8h0M1544.5 819.7h0M1544.9 822.5h0M1544.9 825.9h0M1544.7 829.2h0M1178.5 814.9h0M1179 818.3h0M1178.4 821.1h0M1178.5 824.3h0M1478 808.2h0M1477.8 811.6h0M1478 814.9h0M1225.7 811.3h0M1226 813.8h0M1226.1 816.2h0M1600.3 831.7h0M1600.2 833.7h0M1600.7 837.1h0M1486.3 810.6h0M1486.4 812.7h0M1486.4 815h0M1487.1 817.9h0M1559.9 830.8h0M1560.3 833.4h0M1559.7 835.9h0M1559.6 839h0M1674.6 832.4h0M1674.2 834.7h0M1674.1 837.9h0M1674.3 840.2h0M1674.2 842.8h0M1312.4 804.6h0M1312.6 807.1h0M1312.2 809.3h0M1677.8 834.2h0M1677.9 836.8h0M1678 839.2h0M1678.3 841.3h0M1445.9 802h0M1446.4 805.2h0M1454.8 805.1h0M1454.9 807.8h0M1454.8 810.9h0M1587.7 819.5h0M1588 821.9h0M1587.5 824.1h0M1587.4 827.2h0M1279.4 808.7h0M1279 810.7h0M1279.6 813.8h0M1098.5 819.4h0M1098.5 822.8h0M1098.8 825.1h0M1098.3 827.6h0M1269.1 806.8h0M1269.1 810.1h0M1269.2 812.8h0M1545.7 820.6h0M1546.1 823.5h0M1546.3 825.6h0M1545.8 827.8h0M1239.9 811.2h0M1239.7 814.2h0M1239.4 817.5h0M1163.1 816.7h0M1163.1 819.5h0M1162.6 822.5h0M1162.8 825h0M1685.2 833.5h0M1685.2 837h0M1685 839.7h0M1685 842h0M1202.9 812.5h0M1202.8 815.8h0M1202.7 819.2h0M1167.6 816.8h0M1167.3 819h0M1167.3 821.8h0M1167.6 823.8h0M1480.9 809.1h0M1480.7 812h0M1481.3 815.1h0M1422.3 799.9h0M1422 803h0M1305.9 805.7h0M1305.4 808.4h0M1704.9 859.8h0M1705.4 862.3h0M1705.2 864.7h0M1705.5 867.1h0M1294.5 804h0M1295 806.2h0M1294.7 808.4h0M1228.1 811.5h0M1228.3 814.3h0M1228.1 816.4h0M1228.2 819.4h0M1694.6 842.9h0M1694.7 846.2h0M1694.3 849.1h0M1694.5 851.5h0M1694.7 853.9h0M1633.9 824.1h0M1634.2 827.4h0M1633.7 830.4h0M1327 800.5h0M1326.8 802.7h0M1316.7 803.3h0M1316.2 805.3h0M1316.1 808.5h0M1110.2 833.1h0M1110.7 835.8h0M1110.5 839h0M1565 832.2h0M1564.4 835.4h0M1564.5 837.8h0M1379.3 794.8h0M1379.7 797.4h0M1052.3 821.6h0M1052.5 824.8h0M1052.6 828h0M1644.4 836.1h0M1644.2 838.9h0M1644.3 840.9h0M1644.6 843.3h0M1614.1 829.8h0M1613.9 832.7h0M1613.7 834.8h0M1613.5 836.8h0M1295 804.1h0M1295.1 807.1h0M1295.2 809.5h0M1598.8 830.8h0M1598.5 833.5h0M1598.8 836.5h0M1171.3 816.1h0M1171.6 819.4h0M1171.9 822.5h0M1171.8 825.8h0M1444.8 800.3h0M1444.7 802.5h0M1555.9 827.9h0M1555.7 830.9h0M1045.1 822.2h0M1045.3 825.6h0M1045.3 828.8h0M1045.5 832.1h0M1061.9 819.9h0M1062 822.6h0M1061.6 826.1h0M1061.4 829h0M1060.6 820.2h0M1060.4 823.2h0M1060.1 826.1h0M1060.3 829.5h0M1307.9 805.5h0M1308.2 808.2h0M1308.5 810.2h0M1113.5 829.8h0M1113.9 832.9h0M1113.8 835.8h0M1114 838.2h0M1114 840.2h0M1381 794.9h0M1380.6 798h0M1380.5 800h0M1228.9 811.6h0M1228.4 814.7h0M1043.6 822.4h0M1043.8 825h0M1044 828.2h0M1043.9 830.3h0M1440.9 799.8h0M1440.5 803.1h0M1175.7 815.4h0M1175.5 818.8h0M1175.8 822.1h0M1175.8 825.1h0M1114.5 828.8h0M1115.2 831.8h0M1115.1 835h0M1115.2 838.2h0M1631.8 823.2h0M1632.2 826.4h0M1632.2 829.3h0M1336.5 800.3h0M1336.5 803.8h0M1326.2 800.4h0M1325.9 803.8h0M1179.1 814.9h0M1179.4 817.7h0M1179.4 820.4h0M1179.7 823.2h0M1476.4 807.8h0M1476.6 810.5h0M1476.7 813.8h0M1388.6 794.8h0M1388.8 797.2h0M1388.9 799.7h0M1635.5 826.5h0M1635.4 828.7h0M1635.5 832.1h0M1634.8 834.8h0M1192.1 813.9h0M1192.4 817.3h0M1192.5 820.7h0M1664.7 835.6h0M1665.3 838.6h0M1664.6 841.8h0M1634.8 826.6h0M1635.1 829.7h0M1635.3 832.1h0M1635.2 834.8h0M1235.8 811.5h0M1235.7 814.7h0M1235.6 816.8h0M1684.1 834.2h0M1683.8 837.2h0M1683.7 840h0M1683.8 843.2h0M1684 845.7h0M1687.8 832.1h0M1688.1 834.6h0M1687.6 837.3h0M1688.1 840.2h0M1337.9 799.8h0M1337.9 802.3h0M1503.5 812h0M1503.6 814.8h0M1442.4 799.8h0M1442.8 802.6h0M1442.9 804.7h0M1670.8 832.6h0M1670.6 835.6h0M1670.6 837.9h0M1670.5 841h0M1448.6 804.8h0M1448.7 808.1h0M1449 810.4h0M1485.8 810.5h0M1486.3 813.7h0M1690.7 833.7h0M1690.8 836.1h0M1690.9 839h0M1351.4 796.1h0M1351.6 799.2h0M1130.5 822.2h0M1129.8 825.2h0M1129.9 827.4h0M1130.1 829.9h0M1256 807.8h0M1255.8 810.5h0M1487.2 810.6h0M1487.2 813h0M1487 816.3h0M1118.4 829.3h0M1117.9 832.7h0M1118 836.1h0M1683.2 834.5h0M1683.1 836.8h0M1683.3 839.5h0M1683.2 842.2h0M1683.5 844.7h0M1683.4 846.7h0M1342.1 798.1h0M1342.7 801h0M1476.4 807.8h0M1476.2 810.7h0M1476.2 813.8h0M1069.6 815.2h0M1070 818.3h0M1070 821.1h0M1595.1 829.8h0M1595.6 832h0M1595.4 834.8h0M1595.3 837.3h0M1595.6 839.7h0M1089.4 818.7h0M1089.4 822.2h0M1089.5 824.2h0M1089.8 826.4h0M1089.8 829.2h0M1516.6 817.4h0M1516.8 819.6h0M1516.5 822.8h0M1513.9 815.6h0M1514 817.7h0M1514.1 820.5h0M1129.8 822.8h0M1130 826.3h0M1420.3 800.3h0M1420 803.8h0M1416.8 800h0M1416.4 802.2h0M1416.8 805.3h0M1141.3 820.4h0M1140.6 823.8h0M1141.2 826.8h0M1140.9 829.2h0M1489.1 810.8h0M1489.1 813.9h0M1488.5 817.3h0M1431.1 799.4h0M1430.9 802.2h0M1306.6 805.6h0M1306.3 807.9h0M1328.7 800.8h0M1329 804h0M1329.1 806.4h0M1337.4 800.1h0M1337.3 802.5h0M1337.2 804.9h0M1100.6 822.5h0M1100.9 824.9h0M1100.9 827.5h0M1234.8 811.6h0M1234.5 814.9h0M1234.2 817.8h0M1640.3 834.8h0M1640.5 836.8h0M1640.3 839.7h0M1640.3 842.5h0M1187.4 815.1h0M1187.1 817.6h0M1187.2 820.4h0M1187.4 823.5h0M1546.4 821h0M1546.5 823.6h0M1546.1 826.7h0M1233.4 811.7h0M1233.4 814.3h0M1233.5 817.4h0M1174.4 815.6h0M1174.7 817.8h0M1174.6 820.8h0M1174.6 823.7h0M1643.1 835.7h0M1643.3 839.1h0M1642.8 841.1h0M1637.4 831.3h0M1637.4 834.5h0M1637.6 836.5h0M1637.4 839.4h0M1637.5 842.2h0M1211.6 814.8h0M1211.1 818.2h0M1211.1 820.5h0M1288.2 805.7h0M1288.2 808h0M1287.9 811.5h0M1441.8 799.8h0M1441.8 803h0M1442.2 806h0M1503.2 811.9h0M1503.3 814.9h0M1503.1 817.2h0M1339.8 799.3h0M1339.3 802.6h0M1315.9 803.6h0M1315.6 806.5h0M1101.2 823.5h0M1101.6 826h0M1101.1 829.1h0M1101.4 831.5h0M1101.8 834h0M1439.4 799.7h0M1439.2 802.2h0M1254 808h0M1253.9 810.1h0M1253.6 813.3h0M1682 835.1h0M1681.9 838.4h0M1681.8 841.4h0M1682.2 844h0M1681.8 847.4h0M1242.3 810.8h0M1242.3 813.5h0M1242.4 815.6h0M1242.4 817.7h0M1649.7 836.3h0M1650 839.2h0M1649.6 841.8h0M1650.3 845h0M1310.1 805.3h0M1309.5 808.5h0M1338 800h0M1337.9 803.3h0M1529.1 821.2h0M1529.5 824.4h0M1528.8 826.9h0M1528.6 821.3h0M1528.9 824.2h0M1528.6 827.6h0M1047.1 822.1h0M1047.1 824.4h0M1047.3 826.6h0M1046.9 829.5h0M1047.3 831.9h0M1170.5 816.2h0M1170.6 818.6h0M1170.6 821.5h0M1170.7 824.2h0M1585.5 818.2h0M1585 820.9h0M1584.9 823.4h0M1585.6 825.8h0M1585.6 828.5h0M1205.6 813.8h0M1205.3 816.7h0M1205.8 820h0M1046.2 718.2h0M1090.3 726.2h0M1096.6 724.1h0M1105 725.1h0M1127 730.8h0M1131.8 730h0M1151.1 731.4h0M1192.1 736.3h0M1217.9 738.4h0M1252.5 751.4h0M1267 753h0M1109.2 845.4h0M1164.8 835.8h0M1164.8 841.2h0M1188.9 830.5h0M1090.3 830.7h0M1301.9 812.9h0M1620.3 732.5h0M1688.5 734.6h0M1645.1 857.4h0M1645.1 867.9h0M1645.1 873.1h0M1572 842.1h0M1560.5 840.6h0M1523.7 832.2h0M1086.6 829.2h0M1045.4 727.6h0M1054.4 834.6h0M1578.5 841.7h0M1071.1 734.9h0M1396.2 801.8h0M1416.2 770.4h0M1499.4 759.9h0M1074.3 730.7h0M1409.9 804.9h0M1363.9 776.5h0M1405 774.3h0M1618.8 730.9h0M1069.8 830.6h0M1120.2 841.7h0M1276 761.6h0M1102.8 839.6h0M1475.7 819.2h0M1657.1 854.9h0M1135.7 730.4h0M1701.4 730.5h0M1244.1 750.7h0M1188.1 739.9h0M1531.9 831h0M1407.7 775.1h0M1708.4 821.9h0M1702.7 820.4h0" stroke="#000" stroke-width="5.2" stroke-linecap="round" fill="none"/>
</g>
<path d="M1098.1 880.6v13.5M1098.1 698.1v12.6M1190.7 880.6v13.5M1190.7 698.1v12.6M1283.3 880.6v13.5M1283.3 698.1v12.6M1375.9 880.6v13.5M1375.9 698.1v12.6M1468.5 880.6v13.5M1468.5 698.1v12.6M1561.1 880.6v13.5M1561.1 698.1v12.6M1653.7 880.6v13.5M1653.7 698.1v12.6M1051.9 880.6v6.1M1051.9 698.1v6.1M1144.4 880.6v6.1M1144.4 698.1v6.1M1237 880.6v6.1M1237 698.1v6.1M1329.6 880.6v6.1M1329.6 698.1v6.1M1422.2 880.6v6.1M1422.2 698.1v6.1M1514.8 880.6v6.1M1514.8 698.1v6.1M1607.4 880.6v6.1M1607.4 698.1v6.1M1699.9 880.6v6.1M1699.9 698.1v6.1M1042.6 698.1h-13.5M1709.2 698.1h-13.5M1042.6 743.7h-13.5M1709.2 743.7h-13.5M1042.6 789.4h-13.5M1709.2 789.4h-13.5M1042.6 835h-13.5M1709.2 835h-13.5M1042.6 880.6h-13.5M1709.2 880.6h-13.5M1042.6 720.9h-6.1M1709.2 720.9h-6.1M1042.6 766.5h-6.1M1709.2 766.5h-6.1M1042.6 812.2h-6.1M1709.2 812.2h-6.1M1042.6 857.8h-6.1M1709.2 857.8h-6.1" stroke="#000" stroke-width="2.7" fill="none"/>
<rect x="1042.6" y="698.1" width="666.6" height="182.5" stroke="#000" stroke-width="2.7" fill="none"/>
<text transform="translate(1098.1 932) scale(1 1.09)" font-size="37.5" text-anchor="middle">-300</text>
<text transform="translate(1190.7 932) scale(1 1.09)" font-size="37.5" text-anchor="middle">-200</text>
<text transform="translate(1283.3 932) scale(1 1.09)" font-size="37.5" text-anchor="middle">-100</text>
<text transform="translate(1375.9 932) scale(1 1.09)" font-size="37.5" text-anchor="middle">0</text>
<text transform="translate(1468.5 932) scale(1 1.09)" font-size="37.5" text-anchor="middle">100</text>
<text transform="translate(1561.1 932) scale(1 1.09)" font-size="37.5" text-anchor="middle">200</text>
<text transform="translate(1653.7 932) scale(1 1.09)" font-size="37.5" text-anchor="middle">300</text>
<text transform="translate(1008.5 709.9) scale(1 1.09)" font-size="37.5" text-anchor="end">40</text>
<text transform="translate(1008.5 755.5) scale(1 1.09)" font-size="37.5" text-anchor="end">20</text>
<text transform="translate(1008.5 801.1) scale(1 1.09)" font-size="37.5" text-anchor="end">0</text>
<text transform="translate(1008.5 846.8) scale(1 1.09)" font-size="37.5" text-anchor="end">-20</text>
<text transform="translate(1008.5 892.4) scale(1 1.09)" font-size="37.5" text-anchor="end">-40</text>
<text transform="translate(1371.2 977.5) scale(1.025 1)" font-size="43" text-anchor="middle"><tspan font-style="italic">y</tspan> (μm)</text>
<text transform="translate(945.4 798.7) rotate(-90) scale(1.03 1)" font-size="43" text-anchor="middle"><tspan font-style="italic">residual</tspan> (nm)</text>
</svg>
</body></html>
